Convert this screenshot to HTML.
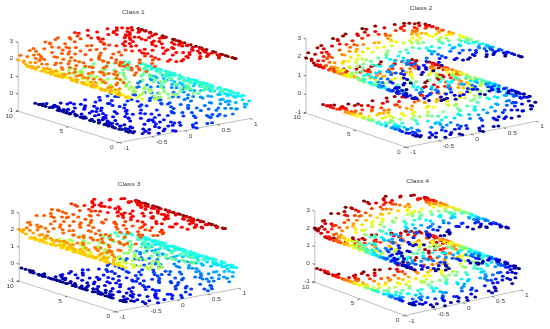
<!DOCTYPE html>
<html><head><meta charset="utf-8"><style>
html,body{margin:0;padding:0;background:#fff;width:550px;height:329px;overflow:hidden}
svg{display:block}
.tl{font-family:"Liberation Sans",Arial,sans-serif;fill:#3c3c3c}
.tt{font-family:"Liberation Sans",Arial,sans-serif;fill:#3c3c3c}
</style></head><body><svg width="550" height="329" viewBox="0 0 550 329"><defs><filter id="b" x="-2%" y="-2%" width="104%" height="104%"><feGaussianBlur stdDeviation="0.3"/></filter></defs><g filter="url(#b)"><g stroke="#b0b0b0" stroke-width="0.8" fill="none"><line x1="18.2" y1="111.2" x2="18.2" y2="42.4"/><line x1="119.2" y1="142.5" x2="18.2" y2="111.2"/><line x1="119.2" y1="142.5" x2="250.1" y2="118.6"/></g><path d="M18.2 111.2l-2.48 -0.77 M18.2 94.0l-2.48 -0.77 M18.2 76.8l-2.48 -0.77 M18.2 59.6l-2.48 -0.77 M18.2 42.4l-2.48 -0.77 M119.2 142.5l-2.56 0.47 M68.7 126.8l-2.56 0.47 M18.2 111.2l-2.56 0.47 M119.2 142.5l2.48 0.77 M151.9 136.5l2.48 0.77 M184.7 130.6l2.48 0.77 M217.4 124.6l2.48 0.77 M250.1 118.6l2.48 0.77" stroke="#444" stroke-width="0.7" fill="none"/><g><ellipse cx="140.6" cy="81.2" rx="2.0" ry="1.5" fill="#0087ff"/><ellipse cx="138.0" cy="83.0" rx="2.0" ry="1.5" fill="#007bff"/><ellipse cx="150.0" cy="75.3" rx="2.0" ry="1.5" fill="#00baff"/><ellipse cx="150.5" cy="78.8" rx="2.0" ry="1.5" fill="#00a2ff"/><ellipse cx="152.8" cy="75.9" rx="2.0" ry="1.5" fill="#00bcff"/><ellipse cx="151.7" cy="80.1" rx="2.0" ry="1.5" fill="#009dff"/><ellipse cx="138.7" cy="86.7" rx="2.0" ry="1.5" fill="#006cff"/><ellipse cx="136.4" cy="87.4" rx="2.0" ry="1.5" fill="#0066ff"/><ellipse cx="155.3" cy="76.5" rx="2.0" ry="1.5" fill="#00beff"/><ellipse cx="147.6" cy="66.7" rx="2.0" ry="1.5" fill="#00ffff"/><ellipse cx="151.7" cy="69.1" rx="2.0" ry="1.5" fill="#00f3ff"/><ellipse cx="146.9" cy="85.0" rx="2.0" ry="1.5" fill="#007eff"/><ellipse cx="156.8" cy="77.8" rx="2.0" ry="1.5" fill="#00b7ff"/><ellipse cx="111.2" cy="93.3" rx="2.0" ry="1.5" fill="#0039ff"/><ellipse cx="116.9" cy="93.1" rx="2.0" ry="1.5" fill="#003fff"/><ellipse cx="156.6" cy="70.9" rx="2.0" ry="1.5" fill="#00f1ff"/><ellipse cx="134.3" cy="91.6" rx="2.0" ry="1.5" fill="#0053ff"/><ellipse cx="159.1" cy="82.4" rx="2.0" ry="1.5" fill="#009dff"/><ellipse cx="150.8" cy="87.1" rx="2.0" ry="1.5" fill="#007aff"/><ellipse cx="162.8" cy="75.6" rx="2.0" ry="1.5" fill="#00d8ff"/><ellipse cx="107.5" cy="95.9" rx="2.0" ry="1.5" fill="#002dff"/><ellipse cx="163.8" cy="78.4" rx="2.0" ry="1.5" fill="#00c3ff"/><ellipse cx="158.0" cy="86.4" rx="2.0" ry="1.5" fill="#0088ff"/><ellipse cx="156.9" cy="69.4" rx="2.0" ry="1.5" fill="#03fffc"/><ellipse cx="99.3" cy="97.3" rx="2.0" ry="1.5" fill="#0021ff"/><ellipse cx="145.8" cy="64.8" rx="2.0" ry="1.5" fill="#1affe5"/><ellipse cx="115.1" cy="96.4" rx="2.0" ry="1.5" fill="#0033ff"/><ellipse cx="166.7" cy="80.3" rx="2.0" ry="1.5" fill="#00bcff"/><ellipse cx="162.0" cy="85.7" rx="2.0" ry="1.5" fill="#0091ff"/><ellipse cx="133.5" cy="94.5" rx="2.0" ry="1.5" fill="#004aff"/><ellipse cx="118.3" cy="96.5" rx="2.0" ry="1.5" fill="#0036ff"/><ellipse cx="165.7" cy="74.8" rx="2.0" ry="1.5" fill="#00e8ff"/><ellipse cx="144.5" cy="92.6" rx="2.0" ry="1.5" fill="#005bff"/><ellipse cx="142.4" cy="63.8" rx="2.0" ry="1.5" fill="#20ffdf"/><ellipse cx="150.9" cy="91.5" rx="2.0" ry="1.5" fill="#0068ff"/><ellipse cx="160.6" cy="70.6" rx="2.0" ry="1.5" fill="#01fffe"/><ellipse cx="135.4" cy="94.9" rx="2.0" ry="1.5" fill="#004aff"/><ellipse cx="163.2" cy="87.6" rx="2.0" ry="1.5" fill="#008aff"/><ellipse cx="151.6" cy="92.8" rx="2.0" ry="1.5" fill="#0063ff"/><ellipse cx="171.5" cy="79.9" rx="2.0" ry="1.5" fill="#00cbff"/><ellipse cx="150.8" cy="66.3" rx="2.0" ry="1.5" fill="#1affe5"/><ellipse cx="85.1" cy="99.8" rx="2.0" ry="1.5" fill="#000dff"/><ellipse cx="172.3" cy="84.3" rx="2.0" ry="1.5" fill="#00abff"/><ellipse cx="169.5" cy="74.6" rx="2.0" ry="1.5" fill="#00f4ff"/><ellipse cx="174.4" cy="81.7" rx="2.0" ry="1.5" fill="#00c3ff"/><ellipse cx="158.2" cy="92.9" rx="2.0" ry="1.5" fill="#006bff"/><ellipse cx="100.0" cy="100.3" rx="2.0" ry="1.5" fill="#0018ff"/><ellipse cx="171.0" cy="75.1" rx="2.0" ry="1.5" fill="#00f3ff"/><ellipse cx="171.6" cy="87.6" rx="2.0" ry="1.5" fill="#0096ff"/><ellipse cx="158.6" cy="68.9" rx="2.0" ry="1.5" fill="#15ffea"/><ellipse cx="111.8" cy="100.6" rx="2.0" ry="1.5" fill="#0023ff"/><ellipse cx="176.6" cy="85.1" rx="2.0" ry="1.5" fill="#00afff"/><ellipse cx="131.5" cy="99.6" rx="2.0" ry="1.5" fill="#0039ff"/><ellipse cx="153.4" cy="96.6" rx="2.0" ry="1.5" fill="#0056ff"/><ellipse cx="176.6" cy="87.8" rx="2.0" ry="1.5" fill="#009dff"/><ellipse cx="147.9" cy="65.8" rx="2.0" ry="1.5" fill="#28ffd7"/><ellipse cx="139.8" cy="63.9" rx="2.0" ry="1.5" fill="#31ffce"/><ellipse cx="180.1" cy="82.8" rx="2.0" ry="1.5" fill="#00c8ff"/><ellipse cx="174.1" cy="75.4" rx="2.0" ry="1.5" fill="#00f9ff"/><ellipse cx="95.5" cy="102.1" rx="2.0" ry="1.5" fill="#000eff"/><ellipse cx="127.5" cy="100.9" rx="2.0" ry="1.5" fill="#0031ff"/><ellipse cx="150.2" cy="98.3" rx="2.0" ry="1.5" fill="#004eff"/><ellipse cx="160.8" cy="69.4" rx="2.0" ry="1.5" fill="#19ffe6"/><ellipse cx="146.9" cy="65.6" rx="2.0" ry="1.5" fill="#2bffd4"/><ellipse cx="179.4" cy="79.1" rx="2.0" ry="1.5" fill="#00e8ff"/><ellipse cx="173.5" cy="92.3" rx="2.0" ry="1.5" fill="#0083ff"/><ellipse cx="124.9" cy="61.6" rx="2.0" ry="1.5" fill="#42ffbd"/><ellipse cx="129.3" cy="62.3" rx="2.0" ry="1.5" fill="#3effc1"/><ellipse cx="182.3" cy="84.3" rx="2.0" ry="1.5" fill="#00c2ff"/><ellipse cx="159.1" cy="97.5" rx="2.0" ry="1.5" fill="#0059ff"/><ellipse cx="137.7" cy="101.2" rx="2.0" ry="1.5" fill="#0039ff"/><ellipse cx="154.1" cy="67.6" rx="2.0" ry="1.5" fill="#26ffd9"/><ellipse cx="184.1" cy="86.4" rx="2.0" ry="1.5" fill="#00b6ff"/><ellipse cx="182.6" cy="89.0" rx="2.0" ry="1.5" fill="#00a1ff"/><ellipse cx="70.4" cy="102.8" rx="2.0" ry="1.5" fill="#0000fc"/><ellipse cx="109.6" cy="103.5" rx="2.0" ry="1.5" fill="#0018ff"/><ellipse cx="107.9" cy="103.6" rx="2.0" ry="1.5" fill="#0016ff"/><ellipse cx="165.6" cy="70.9" rx="2.0" ry="1.5" fill="#19ffe6"/><ellipse cx="149.7" cy="100.5" rx="2.0" ry="1.5" fill="#0047ff"/><ellipse cx="184.3" cy="80.3" rx="2.0" ry="1.5" fill="#00eaff"/><ellipse cx="173.3" cy="73.7" rx="2.0" ry="1.5" fill="#0ffff0"/><ellipse cx="153.4" cy="67.6" rx="2.0" ry="1.5" fill="#2bffd4"/><ellipse cx="159.2" cy="100.0" rx="2.0" ry="1.5" fill="#0051ff"/><ellipse cx="187.4" cy="88.0" rx="2.0" ry="1.5" fill="#00b2ff"/><ellipse cx="172.9" cy="96.8" rx="2.0" ry="1.5" fill="#006eff"/><ellipse cx="160.5" cy="99.8" rx="2.0" ry="1.5" fill="#0053ff"/><ellipse cx="60.7" cy="102.9" rx="2.0" ry="1.5" fill="#0000f4"/><ellipse cx="183.8" cy="92.1" rx="2.0" ry="1.5" fill="#0093ff"/><ellipse cx="181.3" cy="77.3" rx="2.0" ry="1.5" fill="#00fdff"/><ellipse cx="80.8" cy="104.3" rx="2.0" ry="1.5" fill="#0001ff"/><ellipse cx="74.0" cy="104.0" rx="2.0" ry="1.5" fill="#0000fc"/><ellipse cx="145.8" cy="66.2" rx="2.0" ry="1.5" fill="#35ffca"/><ellipse cx="128.5" cy="63.4" rx="2.0" ry="1.5" fill="#46ffb9"/><ellipse cx="169.1" cy="72.0" rx="2.0" ry="1.5" fill="#1affe5"/><ellipse cx="124.9" cy="104.7" rx="2.0" ry="1.5" fill="#0023ff"/><ellipse cx="67.3" cy="104.1" rx="2.0" ry="1.5" fill="#0000f6"/><ellipse cx="112.6" cy="105.4" rx="2.0" ry="1.5" fill="#0014ff"/><ellipse cx="158.3" cy="69.1" rx="2.0" ry="1.5" fill="#2affd5"/><ellipse cx="178.5" cy="97.1" rx="2.0" ry="1.5" fill="#0074ff"/><ellipse cx="190.6" cy="90.0" rx="2.0" ry="1.5" fill="#00abff"/><ellipse cx="188.0" cy="80.5" rx="2.0" ry="1.5" fill="#00f1ff"/><ellipse cx="190.5" cy="82.3" rx="2.0" ry="1.5" fill="#00eaff"/><ellipse cx="141.4" cy="104.7" rx="2.0" ry="1.5" fill="#0032ff"/><ellipse cx="85.1" cy="105.7" rx="2.0" ry="1.5" fill="#0001ff"/><ellipse cx="94.1" cy="106.2" rx="2.0" ry="1.5" fill="#0006ff"/><ellipse cx="193.7" cy="85.8" rx="2.0" ry="1.5" fill="#00d3ff"/><ellipse cx="188.2" cy="94.7" rx="2.0" ry="1.5" fill="#008cff"/><ellipse cx="194.4" cy="90.4" rx="2.0" ry="1.5" fill="#00b0ff"/><ellipse cx="172.7" cy="73.1" rx="2.0" ry="1.5" fill="#1cffe3"/><ellipse cx="119.7" cy="106.6" rx="2.0" ry="1.5" fill="#0018ff"/><ellipse cx="161.1" cy="103.3" rx="2.0" ry="1.5" fill="#0049ff"/><ellipse cx="108.1" cy="62.4" rx="2.0" ry="1.5" fill="#5fffa0"/><ellipse cx="114.8" cy="63.2" rx="2.0" ry="1.5" fill="#5affa5"/><ellipse cx="194.7" cy="83.9" rx="2.0" ry="1.5" fill="#00e7ff"/><ellipse cx="146.6" cy="105.7" rx="2.0" ry="1.5" fill="#0034ff"/><ellipse cx="139.7" cy="106.3" rx="2.0" ry="1.5" fill="#002cff"/><ellipse cx="161.7" cy="104.0" rx="2.0" ry="1.5" fill="#0047ff"/><ellipse cx="169.7" cy="102.8" rx="2.0" ry="1.5" fill="#0053ff"/><ellipse cx="187.6" cy="98.0" rx="2.0" ry="1.5" fill="#007dff"/><ellipse cx="174.6" cy="73.7" rx="2.0" ry="1.5" fill="#1effe1"/><ellipse cx="184.5" cy="99.6" rx="2.0" ry="1.5" fill="#0071ff"/><ellipse cx="156.6" cy="69.4" rx="2.0" ry="1.5" fill="#34ffcb"/><ellipse cx="167.9" cy="103.9" rx="2.0" ry="1.5" fill="#004dff"/><ellipse cx="145.3" cy="67.4" rx="2.0" ry="1.5" fill="#3fffc0"/><ellipse cx="193.2" cy="96.5" rx="2.0" ry="1.5" fill="#008bff"/><ellipse cx="124.2" cy="107.9" rx="2.0" ry="1.5" fill="#0018ff"/><ellipse cx="179.9" cy="75.4" rx="2.0" ry="1.5" fill="#18ffe7"/><ellipse cx="101.7" cy="108.1" rx="2.0" ry="1.5" fill="#0006ff"/><ellipse cx="46.5" cy="103.6" rx="2.0" ry="1.5" fill="#0000c8"/><ellipse cx="124.5" cy="65.0" rx="2.0" ry="1.5" fill="#55ffaa"/><ellipse cx="200.8" cy="90.4" rx="2.0" ry="1.5" fill="#00bfff"/><ellipse cx="195.2" cy="82.0" rx="2.0" ry="1.5" fill="#00f9ff"/><ellipse cx="200.3" cy="86.3" rx="2.0" ry="1.5" fill="#00e1ff"/><ellipse cx="97.1" cy="108.6" rx="2.0" ry="1.5" fill="#0002ff"/><ellipse cx="54.5" cy="105.2" rx="2.0" ry="1.5" fill="#0000d4"/><ellipse cx="84.6" cy="108.1" rx="2.0" ry="1.5" fill="#0000fa"/><ellipse cx="93.7" cy="63.6" rx="2.0" ry="1.5" fill="#72ff8d"/><ellipse cx="121.6" cy="65.5" rx="2.0" ry="1.5" fill="#5affa5"/><ellipse cx="191.0" cy="101.1" rx="2.0" ry="1.5" fill="#0074ff"/><ellipse cx="160.8" cy="70.8" rx="2.0" ry="1.5" fill="#35ffca"/><ellipse cx="200.5" cy="96.9" rx="2.0" ry="1.5" fill="#0095ff"/><ellipse cx="180.7" cy="104.5" rx="2.0" ry="1.5" fill="#0058ff"/><ellipse cx="205.1" cy="89.3" rx="2.0" ry="1.5" fill="#00d3ff"/><ellipse cx="144.9" cy="68.4" rx="2.0" ry="1.5" fill="#46ffb9"/><ellipse cx="196.7" cy="81.7" rx="2.0" ry="1.5" fill="#03fffc"/><ellipse cx="55.4" cy="105.9" rx="2.0" ry="1.5" fill="#0000cf"/><ellipse cx="192.1" cy="79.5" rx="2.0" ry="1.5" fill="#0ffff0"/><ellipse cx="74.9" cy="108.1" rx="2.0" ry="1.5" fill="#0000f2"/><ellipse cx="171.1" cy="106.8" rx="2.0" ry="1.5" fill="#0048ff"/><ellipse cx="126.8" cy="110.2" rx="2.0" ry="1.5" fill="#0013ff"/><ellipse cx="107.3" cy="65.1" rx="2.0" ry="1.5" fill="#69ff96"/><ellipse cx="129.2" cy="66.8" rx="2.0" ry="1.5" fill="#56ffa9"/><ellipse cx="202.6" cy="97.9" rx="2.0" ry="1.5" fill="#0093ff"/><ellipse cx="188.2" cy="78.0" rx="2.0" ry="1.5" fill="#17ffe8"/><ellipse cx="42.8" cy="104.1" rx="2.0" ry="1.5" fill="#0000b3"/><ellipse cx="141.0" cy="110.1" rx="2.0" ry="1.5" fill="#0022ff"/><ellipse cx="138.4" cy="28.4" rx="2.0" ry="1.5" fill="#810000"/><ellipse cx="84.2" cy="109.3" rx="2.0" ry="1.5" fill="#0000f7"/><ellipse cx="158.7" cy="70.9" rx="2.0" ry="1.5" fill="#3bffc4"/><ellipse cx="179.6" cy="75.4" rx="2.0" ry="1.5" fill="#24ffdb"/><ellipse cx="196.2" cy="80.9" rx="2.0" ry="1.5" fill="#0cfff3"/><ellipse cx="101.0" cy="110.5" rx="2.0" ry="1.5" fill="#0001ff"/><ellipse cx="107.3" cy="65.8" rx="2.0" ry="1.5" fill="#6cff93"/><ellipse cx="208.1" cy="96.0" rx="2.0" ry="1.5" fill="#00a7ff"/><ellipse cx="58.2" cy="106.9" rx="2.0" ry="1.5" fill="#0000cd"/><ellipse cx="143.4" cy="68.9" rx="2.0" ry="1.5" fill="#4bffb4"/><ellipse cx="188.1" cy="105.2" rx="2.0" ry="1.5" fill="#005fff"/><ellipse cx="53.0" cy="106.2" rx="2.0" ry="1.5" fill="#0000c1"/><ellipse cx="156.8" cy="109.9" rx="2.0" ry="1.5" fill="#0031ff"/><ellipse cx="125.8" cy="111.3" rx="2.0" ry="1.5" fill="#000fff"/><ellipse cx="57.2" cy="106.9" rx="2.0" ry="1.5" fill="#0000c9"/><ellipse cx="208.8" cy="88.7" rx="2.0" ry="1.5" fill="#00e4ff"/><ellipse cx="174.1" cy="74.2" rx="2.0" ry="1.5" fill="#2dffd2"/><ellipse cx="114.6" cy="111.4" rx="2.0" ry="1.5" fill="#0008ff"/><ellipse cx="210.4" cy="91.0" rx="2.0" ry="1.5" fill="#00d2ff"/><ellipse cx="166.9" cy="72.8" rx="2.0" ry="1.5" fill="#35ffca"/><ellipse cx="173.6" cy="108.6" rx="2.0" ry="1.5" fill="#0045ff"/><ellipse cx="142.0" cy="29.6" rx="2.0" ry="1.5" fill="#830000"/><ellipse cx="92.2" cy="66.1" rx="2.0" ry="1.5" fill="#7bff84"/><ellipse cx="203.0" cy="83.7" rx="2.0" ry="1.5" fill="#02fffd"/><ellipse cx="126.3" cy="67.7" rx="2.0" ry="1.5" fill="#5dffa2"/><ellipse cx="200.1" cy="82.2" rx="2.0" ry="1.5" fill="#0bfff4"/><ellipse cx="147.6" cy="70.0" rx="2.0" ry="1.5" fill="#4affb5"/><ellipse cx="211.3" cy="96.6" rx="2.0" ry="1.5" fill="#00a9ff"/><ellipse cx="96.3" cy="111.4" rx="2.0" ry="1.5" fill="#0000fb"/><ellipse cx="131.5" cy="27.5" rx="2.0" ry="1.5" fill="#e70000"/><ellipse cx="40.2" cy="104.3" rx="2.0" ry="1.5" fill="#0000a5"/><ellipse cx="92.3" cy="111.2" rx="2.0" ry="1.5" fill="#0000f8"/><ellipse cx="188.0" cy="107.6" rx="2.0" ry="1.5" fill="#0055ff"/><ellipse cx="35.3" cy="103.2" rx="2.0" ry="1.5" fill="#000086"/><ellipse cx="85.7" cy="67.0" rx="2.0" ry="1.5" fill="#85ff7a"/><ellipse cx="214.1" cy="90.9" rx="2.0" ry="1.5" fill="#00dfff"/><ellipse cx="104.6" cy="67.4" rx="2.0" ry="1.5" fill="#73ff8c"/><ellipse cx="211.0" cy="87.6" rx="2.0" ry="1.5" fill="#00f2ff"/><ellipse cx="68.1" cy="109.3" rx="2.0" ry="1.5" fill="#0000d5"/><ellipse cx="175.2" cy="75.0" rx="2.0" ry="1.5" fill="#32ffcd"/><ellipse cx="188.2" cy="108.4" rx="2.0" ry="1.5" fill="#0053ff"/><ellipse cx="145.8" cy="30.8" rx="2.0" ry="1.5" fill="#860000"/><ellipse cx="209.7" cy="102.5" rx="2.0" ry="1.5" fill="#0088ff"/><ellipse cx="140.4" cy="113.3" rx="2.0" ry="1.5" fill="#0017ff"/><ellipse cx="194.8" cy="80.0" rx="2.0" ry="1.5" fill="#1cffe3"/><ellipse cx="116.9" cy="113.4" rx="2.0" ry="1.5" fill="#0005ff"/><ellipse cx="171.6" cy="111.6" rx="2.0" ry="1.5" fill="#003aff"/><ellipse cx="83.7" cy="67.8" rx="2.0" ry="1.5" fill="#8bff74"/><ellipse cx="180.6" cy="76.3" rx="2.0" ry="1.5" fill="#2effd1"/><ellipse cx="206.6" cy="84.3" rx="2.0" ry="1.5" fill="#09fff6"/><ellipse cx="38.9" cy="104.4" rx="2.0" ry="1.5" fill="#000082"/><ellipse cx="126.8" cy="113.8" rx="2.0" ry="1.5" fill="#000bff"/><ellipse cx="218.1" cy="94.5" rx="2.0" ry="1.5" fill="#00c9ff"/><ellipse cx="145.0" cy="113.7" rx="2.0" ry="1.5" fill="#001aff"/><ellipse cx="204.9" cy="105.6" rx="2.0" ry="1.5" fill="#0073ff"/><ellipse cx="196.8" cy="108.0" rx="2.0" ry="1.5" fill="#005eff"/><ellipse cx="211.2" cy="103.1" rx="2.0" ry="1.5" fill="#0087ff"/><ellipse cx="132.8" cy="114.2" rx="2.0" ry="1.5" fill="#000eff"/><ellipse cx="150.4" cy="32.2" rx="2.0" ry="1.5" fill="#810000"/><ellipse cx="172.1" cy="112.5" rx="2.0" ry="1.5" fill="#0038ff"/><ellipse cx="219.8" cy="94.6" rx="2.0" ry="1.5" fill="#00ccff"/><ellipse cx="128.6" cy="69.7" rx="2.0" ry="1.5" fill="#62ff9d"/><ellipse cx="52.8" cy="107.5" rx="2.0" ry="1.5" fill="#0000af"/><ellipse cx="103.0" cy="113.5" rx="2.0" ry="1.5" fill="#0000fa"/><ellipse cx="151.5" cy="114.1" rx="2.0" ry="1.5" fill="#001fff"/><ellipse cx="71.6" cy="68.1" rx="2.0" ry="1.5" fill="#9dff62"/><ellipse cx="166.5" cy="74.0" rx="2.0" ry="1.5" fill="#3fffc0"/><ellipse cx="144.8" cy="30.9" rx="2.0" ry="1.5" fill="#c10000"/><ellipse cx="139.0" cy="29.8" rx="2.0" ry="1.5" fill="#e70000"/><ellipse cx="145.9" cy="71.4" rx="2.0" ry="1.5" fill="#53ffac"/><ellipse cx="212.5" cy="86.7" rx="2.0" ry="1.5" fill="#01fffe"/><ellipse cx="59.2" cy="108.8" rx="2.0" ry="1.5" fill="#0000b8"/><ellipse cx="63.7" cy="109.6" rx="2.0" ry="1.5" fill="#0000bf"/><ellipse cx="160.6" cy="73.3" rx="2.0" ry="1.5" fill="#46ffb9"/><ellipse cx="173.9" cy="113.0" rx="2.0" ry="1.5" fill="#0038ff"/><ellipse cx="220.2" cy="99.7" rx="2.0" ry="1.5" fill="#00a7ff"/><ellipse cx="89.7" cy="112.9" rx="2.0" ry="1.5" fill="#0000f1"/><ellipse cx="220.3" cy="92.1" rx="2.0" ry="1.5" fill="#00e5ff"/><ellipse cx="122.9" cy="69.9" rx="2.0" ry="1.5" fill="#69ff96"/><ellipse cx="42.8" cy="105.6" rx="2.0" ry="1.5" fill="#000081"/><ellipse cx="182.4" cy="112.4" rx="2.0" ry="1.5" fill="#0042ff"/><ellipse cx="114.2" cy="69.7" rx="2.0" ry="1.5" fill="#71ff8e"/><ellipse cx="206.6" cy="83.8" rx="2.0" ry="1.5" fill="#13ffec"/><ellipse cx="127.7" cy="28.3" rx="2.0" ry="1.5" fill="#ef0000"/><ellipse cx="105.3" cy="69.6" rx="2.0" ry="1.5" fill="#7aff85"/><ellipse cx="222.6" cy="99.2" rx="2.0" ry="1.5" fill="#00b0ff"/><ellipse cx="45.5" cy="106.3" rx="2.0" ry="1.5" fill="#000092"/><ellipse cx="159.1" cy="115.0" rx="2.0" ry="1.5" fill="#0024ff"/><ellipse cx="197.1" cy="80.7" rx="2.0" ry="1.5" fill="#22ffdd"/><ellipse cx="73.2" cy="111.4" rx="2.0" ry="1.5" fill="#0000ce"/><ellipse cx="67.1" cy="110.5" rx="2.0" ry="1.5" fill="#0000c1"/><ellipse cx="122.1" cy="27.7" rx="2.0" ry="1.5" fill="#f30000"/><ellipse cx="203.0" cy="82.5" rx="2.0" ry="1.5" fill="#1affe5"/><ellipse cx="217.5" cy="88.6" rx="2.0" ry="1.5" fill="#00fcff"/><ellipse cx="149.9" cy="32.5" rx="2.0" ry="1.5" fill="#bb0000"/><ellipse cx="200.8" cy="110.6" rx="2.0" ry="1.5" fill="#0058ff"/><ellipse cx="220.5" cy="103.8" rx="2.0" ry="1.5" fill="#0091ff"/><ellipse cx="191.9" cy="112.5" rx="2.0" ry="1.5" fill="#004aff"/><ellipse cx="183.1" cy="77.6" rx="2.0" ry="1.5" fill="#34ffcb"/><ellipse cx="208.7" cy="109.0" rx="2.0" ry="1.5" fill="#0069ff"/><ellipse cx="156.0" cy="34.0" rx="2.0" ry="1.5" fill="#860000"/><ellipse cx="98.6" cy="114.7" rx="2.0" ry="1.5" fill="#0000f4"/><ellipse cx="224.9" cy="93.4" rx="2.0" ry="1.5" fill="#00e6ff"/><ellipse cx="167.8" cy="115.6" rx="2.0" ry="1.5" fill="#002aff"/><ellipse cx="144.5" cy="72.6" rx="2.0" ry="1.5" fill="#5affa5"/><ellipse cx="225.7" cy="101.7" rx="2.0" ry="1.5" fill="#00a5ff"/><ellipse cx="101.6" cy="70.9" rx="2.0" ry="1.5" fill="#81ff7e"/><ellipse cx="105.8" cy="115.5" rx="2.0" ry="1.5" fill="#0000f8"/><ellipse cx="125.1" cy="116.5" rx="2.0" ry="1.5" fill="#0004ff"/><ellipse cx="116.8" cy="27.8" rx="2.0" ry="1.5" fill="#f60000"/><ellipse cx="165.0" cy="75.0" rx="2.0" ry="1.5" fill="#48ffb7"/><ellipse cx="49.6" cy="107.6" rx="2.0" ry="1.5" fill="#00008e"/><ellipse cx="81.2" cy="70.6" rx="2.0" ry="1.5" fill="#9bff64"/><ellipse cx="181.5" cy="77.6" rx="2.0" ry="1.5" fill="#38ffc7"/><ellipse cx="227.5" cy="95.5" rx="2.0" ry="1.5" fill="#00daff"/><ellipse cx="227.4" cy="100.9" rx="2.0" ry="1.5" fill="#00aeff"/><ellipse cx="207.2" cy="83.8" rx="2.0" ry="1.5" fill="#1affe5"/><ellipse cx="132.3" cy="29.9" rx="2.0" ry="1.5" fill="#f00000"/><ellipse cx="227.5" cy="94.3" rx="2.0" ry="1.5" fill="#00e6ff"/><ellipse cx="218.3" cy="108.1" rx="2.0" ry="1.5" fill="#007aff"/><ellipse cx="68.9" cy="70.3" rx="2.0" ry="1.5" fill="#abff54"/><ellipse cx="150.3" cy="33.1" rx="2.0" ry="1.5" fill="#e60000"/><ellipse cx="154.8" cy="117.4" rx="2.0" ry="1.5" fill="#0018ff"/><ellipse cx="139.4" cy="31.2" rx="2.0" ry="1.5" fill="#ed0000"/><ellipse cx="229.6" cy="101.2" rx="2.0" ry="1.5" fill="#00b1ff"/><ellipse cx="113.1" cy="116.8" rx="2.0" ry="1.5" fill="#0000fa"/><ellipse cx="165.8" cy="75.7" rx="2.0" ry="1.5" fill="#4affb5"/><ellipse cx="183.4" cy="116.1" rx="2.0" ry="1.5" fill="#0037ff"/><ellipse cx="228.6" cy="104.4" rx="2.0" ry="1.5" fill="#009bff"/><ellipse cx="216.4" cy="110.3" rx="2.0" ry="1.5" fill="#006eff"/><ellipse cx="155.0" cy="34.3" rx="2.0" ry="1.5" fill="#d20000"/><ellipse cx="162.4" cy="35.9" rx="2.0" ry="1.5" fill="#830000"/><ellipse cx="128.6" cy="117.9" rx="2.0" ry="1.5" fill="#0003ff"/><ellipse cx="230.1" cy="94.6" rx="2.0" ry="1.5" fill="#00e9ff"/><ellipse cx="140.9" cy="118.3" rx="2.0" ry="1.5" fill="#000aff"/><ellipse cx="81.6" cy="114.1" rx="2.0" ry="1.5" fill="#0000cd"/><ellipse cx="149.9" cy="74.4" rx="2.0" ry="1.5" fill="#5bffa4"/><ellipse cx="123.4" cy="72.9" rx="2.0" ry="1.5" fill="#73ff8c"/><ellipse cx="95.0" cy="115.8" rx="2.0" ry="1.5" fill="#0000e9"/><ellipse cx="128.7" cy="118.2" rx="2.0" ry="1.5" fill="#0003ff"/><ellipse cx="193.8" cy="115.8" rx="2.0" ry="1.5" fill="#0042ff"/><ellipse cx="225.2" cy="108.2" rx="2.0" ry="1.5" fill="#0083ff"/><ellipse cx="162.8" cy="36.1" rx="2.0" ry="1.5" fill="#880000"/><ellipse cx="189.9" cy="79.9" rx="2.0" ry="1.5" fill="#35ffca"/><ellipse cx="76.4" cy="71.7" rx="2.0" ry="1.5" fill="#a7ff58"/><ellipse cx="47.2" cy="68.8" rx="2.0" ry="1.5" fill="#cfff30"/><ellipse cx="118.9" cy="73.1" rx="2.0" ry="1.5" fill="#78ff87"/><ellipse cx="80.0" cy="72.1" rx="2.0" ry="1.5" fill="#a3ff5c"/><ellipse cx="45.7" cy="68.7" rx="2.0" ry="1.5" fill="#d5ff2a"/><ellipse cx="61.6" cy="110.9" rx="2.0" ry="1.5" fill="#0000a6"/><ellipse cx="56.2" cy="70.2" rx="2.0" ry="1.5" fill="#c1ff3e"/><ellipse cx="165.9" cy="37.0" rx="2.0" ry="1.5" fill="#810000"/><ellipse cx="233.9" cy="96.2" rx="2.0" ry="1.5" fill="#00e6ff"/><ellipse cx="168.0" cy="76.8" rx="2.0" ry="1.5" fill="#4dffb2"/><ellipse cx="107.5" cy="28.8" rx="2.0" ry="1.5" fill="#fa0000"/><ellipse cx="208.7" cy="84.4" rx="2.0" ry="1.5" fill="#23ffdc"/><ellipse cx="235.0" cy="97.2" rx="2.0" ry="1.5" fill="#00e0ff"/><ellipse cx="235.8" cy="102.6" rx="2.0" ry="1.5" fill="#00b5ff"/><ellipse cx="57.8" cy="110.2" rx="2.0" ry="1.5" fill="#000088"/><ellipse cx="179.1" cy="78.5" rx="2.0" ry="1.5" fill="#43ffbc"/><ellipse cx="103.3" cy="117.4" rx="2.0" ry="1.5" fill="#0000f1"/><ellipse cx="142.7" cy="74.8" rx="2.0" ry="1.5" fill="#65ff9a"/><ellipse cx="149.2" cy="119.7" rx="2.0" ry="1.5" fill="#000dff"/><ellipse cx="105.2" cy="73.8" rx="2.0" ry="1.5" fill="#89ff76"/><ellipse cx="219.6" cy="87.8" rx="2.0" ry="1.5" fill="#15ffea"/><ellipse cx="212.3" cy="114.4" rx="2.0" ry="1.5" fill="#0058ff"/><ellipse cx="82.6" cy="73.0" rx="2.0" ry="1.5" fill="#a3ff5c"/><ellipse cx="207.0" cy="115.5" rx="2.0" ry="1.5" fill="#004fff"/><ellipse cx="231.2" cy="108.2" rx="2.0" ry="1.5" fill="#008cff"/><ellipse cx="163.9" cy="119.7" rx="2.0" ry="1.5" fill="#001aff"/><ellipse cx="138.5" cy="32.3" rx="2.0" ry="1.5" fill="#f10000"/><ellipse cx="152.3" cy="120.0" rx="2.0" ry="1.5" fill="#000eff"/><ellipse cx="116.9" cy="30.1" rx="2.0" ry="1.5" fill="#f90000"/><ellipse cx="59.7" cy="110.8" rx="2.0" ry="1.5" fill="#00008e"/><ellipse cx="195.5" cy="117.6" rx="2.0" ry="1.5" fill="#003eff"/><ellipse cx="189.7" cy="80.5" rx="2.0" ry="1.5" fill="#3affc5"/><ellipse cx="220.0" cy="87.8" rx="2.0" ry="1.5" fill="#17ffe8"/><ellipse cx="212.4" cy="85.5" rx="2.0" ry="1.5" fill="#22ffdd"/><ellipse cx="92.3" cy="74.1" rx="2.0" ry="1.5" fill="#9bff64"/><ellipse cx="105.5" cy="118.3" rx="2.0" ry="1.5" fill="#0000f0"/><ellipse cx="219.6" cy="114.3" rx="2.0" ry="1.5" fill="#0061ff"/><ellipse cx="70.3" cy="113.3" rx="2.0" ry="1.5" fill="#0000ab"/><ellipse cx="123.7" cy="75.0" rx="2.0" ry="1.5" fill="#79ff86"/><ellipse cx="208.8" cy="116.7" rx="2.0" ry="1.5" fill="#004dff"/><ellipse cx="203.0" cy="83.3" rx="2.0" ry="1.5" fill="#2effd1"/><ellipse cx="148.3" cy="120.7" rx="2.0" ry="1.5" fill="#000aff"/><ellipse cx="127.5" cy="31.6" rx="2.0" ry="1.5" fill="#f70000"/><ellipse cx="236.2" cy="108.9" rx="2.0" ry="1.5" fill="#0090ff"/><ellipse cx="75.1" cy="114.3" rx="2.0" ry="1.5" fill="#0000b1"/><ellipse cx="73.3" cy="73.3" rx="2.0" ry="1.5" fill="#b4ff4b"/><ellipse cx="236.9" cy="108.8" rx="2.0" ry="1.5" fill="#0091ff"/><ellipse cx="169.2" cy="78.1" rx="2.0" ry="1.5" fill="#51ffae"/><ellipse cx="141.2" cy="76.0" rx="2.0" ry="1.5" fill="#6bff94"/><ellipse cx="237.9" cy="96.0" rx="2.0" ry="1.5" fill="#00f1ff"/><ellipse cx="64.0" cy="112.1" rx="2.0" ry="1.5" fill="#000095"/><ellipse cx="149.9" cy="76.5" rx="2.0" ry="1.5" fill="#63ff9c"/><ellipse cx="225.2" cy="89.5" rx="2.0" ry="1.5" fill="#14ffeb"/><ellipse cx="173.0" cy="39.2" rx="2.0" ry="1.5" fill="#820000"/><ellipse cx="217.9" cy="116.1" rx="2.0" ry="1.5" fill="#0058ff"/><ellipse cx="210.8" cy="117.5" rx="2.0" ry="1.5" fill="#004dff"/><ellipse cx="130.2" cy="120.9" rx="2.0" ry="1.5" fill="#0000fd"/><ellipse cx="115.5" cy="75.8" rx="2.0" ry="1.5" fill="#84ff7b"/><ellipse cx="153.7" cy="121.7" rx="2.0" ry="1.5" fill="#000bff"/><ellipse cx="242.6" cy="99.8" rx="2.0" ry="1.5" fill="#00deff"/><ellipse cx="124.4" cy="76.0" rx="2.0" ry="1.5" fill="#7bff84"/><ellipse cx="165.3" cy="37.6" rx="2.0" ry="1.5" fill="#e10000"/><ellipse cx="43.2" cy="69.8" rx="2.0" ry="1.5" fill="#f5ff0a"/><ellipse cx="171.4" cy="78.8" rx="2.0" ry="1.5" fill="#51ffae"/><ellipse cx="87.8" cy="30.3" rx="2.0" ry="1.5" fill="#ff0200"/><ellipse cx="174.3" cy="39.6" rx="2.0" ry="1.5" fill="#850000"/><ellipse cx="160.0" cy="122.0" rx="2.0" ry="1.5" fill="#000fff"/><ellipse cx="80.4" cy="74.6" rx="2.0" ry="1.5" fill="#afff50"/><ellipse cx="244.6" cy="103.9" rx="2.0" ry="1.5" fill="#00c0ff"/><ellipse cx="234.1" cy="93.0" rx="2.0" ry="1.5" fill="#07fff8"/><ellipse cx="59.0" cy="72.3" rx="2.0" ry="1.5" fill="#cdff32"/><ellipse cx="225.2" cy="115.7" rx="2.0" ry="1.5" fill="#0063ff"/><ellipse cx="129.7" cy="32.7" rx="2.0" ry="1.5" fill="#f70000"/><ellipse cx="66.6" cy="112.9" rx="2.0" ry="1.5" fill="#00008b"/><ellipse cx="113.8" cy="31.5" rx="2.0" ry="1.5" fill="#fb0000"/><ellipse cx="153.0" cy="77.5" rx="2.0" ry="1.5" fill="#63ff9c"/><ellipse cx="171.0" cy="122.1" rx="2.0" ry="1.5" fill="#0019ff"/><ellipse cx="115.3" cy="120.5" rx="2.0" ry="1.5" fill="#0000f2"/><ellipse cx="232.8" cy="113.9" rx="2.0" ry="1.5" fill="#0074ff"/><ellipse cx="244.9" cy="107.1" rx="2.0" ry="1.5" fill="#00a9ff"/><ellipse cx="246.2" cy="104.3" rx="2.0" ry="1.5" fill="#00c0ff"/><ellipse cx="201.1" cy="83.5" rx="2.0" ry="1.5" fill="#37ffc8"/><ellipse cx="240.9" cy="96.2" rx="2.0" ry="1.5" fill="#00f8ff"/><ellipse cx="84.6" cy="116.7" rx="2.0" ry="1.5" fill="#0000b7"/><ellipse cx="229.2" cy="90.7" rx="2.0" ry="1.5" fill="#15ffea"/><ellipse cx="152.1" cy="35.8" rx="2.0" ry="1.5" fill="#ef0000"/><ellipse cx="184.0" cy="81.0" rx="2.0" ry="1.5" fill="#48ffb7"/><ellipse cx="179.5" cy="122.5" rx="2.0" ry="1.5" fill="#0020ff"/><ellipse cx="77.0" cy="115.4" rx="2.0" ry="1.5" fill="#0000aa"/><ellipse cx="188.5" cy="81.7" rx="2.0" ry="1.5" fill="#45ffba"/><ellipse cx="178.6" cy="40.9" rx="2.0" ry="1.5" fill="#810000"/><ellipse cx="97.1" cy="76.6" rx="2.0" ry="1.5" fill="#9fff60"/><ellipse cx="89.7" cy="76.2" rx="2.0" ry="1.5" fill="#a8ff57"/><ellipse cx="163.2" cy="37.8" rx="2.0" ry="1.5" fill="#ea0000"/><ellipse cx="174.4" cy="123.1" rx="2.0" ry="1.5" fill="#0019ff"/><ellipse cx="69.8" cy="113.9" rx="2.0" ry="1.5" fill="#000082"/><ellipse cx="189.1" cy="81.9" rx="2.0" ry="1.5" fill="#45ffba"/><ellipse cx="97.1" cy="31.9" rx="2.0" ry="1.5" fill="#ff0100"/><ellipse cx="113.7" cy="32.6" rx="2.0" ry="1.5" fill="#fc0000"/><ellipse cx="102.6" cy="119.8" rx="2.0" ry="1.5" fill="#0000d7"/><ellipse cx="81.3" cy="75.7" rx="2.0" ry="1.5" fill="#b4ff4b"/><ellipse cx="176.0" cy="40.5" rx="2.0" ry="1.5" fill="#ad0000"/><ellipse cx="179.7" cy="41.3" rx="2.0" ry="1.5" fill="#860000"/><ellipse cx="27.7" cy="66.8" rx="2.0" ry="1.5" fill="#ffcd00"/><ellipse cx="226.6" cy="89.8" rx="2.0" ry="1.5" fill="#1effe1"/><ellipse cx="74.8" cy="32.6" rx="2.0" ry="1.5" fill="#ff1d00"/><ellipse cx="249.2" cy="100.9" rx="2.0" ry="1.5" fill="#00e7ff"/><ellipse cx="95.1" cy="77.3" rx="2.0" ry="1.5" fill="#a6ff59"/><ellipse cx="42.7" cy="70.5" rx="2.0" ry="1.5" fill="#fff100"/><ellipse cx="196.1" cy="123.1" rx="2.0" ry="1.5" fill="#002eff"/><ellipse cx="155.9" cy="124.1" rx="2.0" ry="1.5" fill="#0008ff"/><ellipse cx="81.3" cy="116.7" rx="2.0" ry="1.5" fill="#0000aa"/><ellipse cx="57.9" cy="73.3" rx="2.0" ry="1.5" fill="#e2ff1d"/><ellipse cx="125.3" cy="78.5" rx="2.0" ry="1.5" fill="#82ff7d"/><ellipse cx="190.7" cy="82.7" rx="2.0" ry="1.5" fill="#47ffb8"/><ellipse cx="199.4" cy="84.0" rx="2.0" ry="1.5" fill="#3effc1"/><ellipse cx="129.8" cy="34.4" rx="2.0" ry="1.5" fill="#f90000"/><ellipse cx="155.3" cy="79.5" rx="2.0" ry="1.5" fill="#68ff97"/><ellipse cx="107.5" cy="121.1" rx="2.0" ry="1.5" fill="#0000d9"/><ellipse cx="144.5" cy="124.2" rx="2.0" ry="1.5" fill="#0000ff"/><ellipse cx="78.7" cy="33.3" rx="2.0" ry="1.5" fill="#ff1800"/><ellipse cx="35.0" cy="68.9" rx="2.0" ry="1.5" fill="#ffd300"/><ellipse cx="207.9" cy="85.7" rx="2.0" ry="1.5" fill="#37ffc8"/><ellipse cx="98.6" cy="120.1" rx="2.0" ry="1.5" fill="#0000c4"/><ellipse cx="114.5" cy="78.9" rx="2.0" ry="1.5" fill="#92ff6d"/><ellipse cx="184.4" cy="42.7" rx="2.0" ry="1.5" fill="#830000"/><ellipse cx="165.5" cy="80.5" rx="2.0" ry="1.5" fill="#60ff9f"/><ellipse cx="76.0" cy="115.8" rx="2.0" ry="1.5" fill="#000092"/><ellipse cx="46.2" cy="71.5" rx="2.0" ry="1.5" fill="#fff400"/><ellipse cx="49.3" cy="72.2" rx="2.0" ry="1.5" fill="#fffc00"/><ellipse cx="242.7" cy="95.5" rx="2.0" ry="1.5" fill="#0afff5"/><ellipse cx="125.8" cy="34.7" rx="2.0" ry="1.5" fill="#fb0000"/><ellipse cx="212.1" cy="122.8" rx="2.0" ry="1.5" fill="#003eff"/><ellipse cx="172.6" cy="125.2" rx="2.0" ry="1.5" fill="#0010ff"/><ellipse cx="107.8" cy="78.9" rx="2.0" ry="1.5" fill="#9bff64"/><ellipse cx="207.3" cy="123.5" rx="2.0" ry="1.5" fill="#0037ff"/><ellipse cx="159.9" cy="38.3" rx="2.0" ry="1.5" fill="#ef0000"/><ellipse cx="85.9" cy="118.0" rx="2.0" ry="1.5" fill="#0000ac"/><ellipse cx="192.8" cy="124.7" rx="2.0" ry="1.5" fill="#0026ff"/><ellipse cx="180.5" cy="125.3" rx="2.0" ry="1.5" fill="#0018ff"/><ellipse cx="180.1" cy="41.9" rx="2.0" ry="1.5" fill="#bf0000"/><ellipse cx="116.7" cy="34.4" rx="2.0" ry="1.5" fill="#fd0000"/><ellipse cx="237.7" cy="93.3" rx="2.0" ry="1.5" fill="#16ffe9"/><ellipse cx="91.8" cy="119.3" rx="2.0" ry="1.5" fill="#0000b4"/><ellipse cx="128.8" cy="35.3" rx="2.0" ry="1.5" fill="#fa0000"/><ellipse cx="142.7" cy="80.1" rx="2.0" ry="1.5" fill="#76ff89"/><ellipse cx="231.2" cy="91.3" rx="2.0" ry="1.5" fill="#20ffdf"/><ellipse cx="83.1" cy="77.5" rx="2.0" ry="1.5" fill="#bbff44"/><ellipse cx="168.2" cy="126.0" rx="2.0" ry="1.5" fill="#000cff"/><ellipse cx="108.4" cy="34.6" rx="2.0" ry="1.5" fill="#ff0000"/><ellipse cx="217.7" cy="88.1" rx="2.0" ry="1.5" fill="#31ffce"/><ellipse cx="243.5" cy="95.4" rx="2.0" ry="1.5" fill="#10ffef"/><ellipse cx="108.9" cy="122.3" rx="2.0" ry="1.5" fill="#0000d1"/><ellipse cx="149.2" cy="37.6" rx="2.0" ry="1.5" fill="#f60000"/><ellipse cx="31.4" cy="68.0" rx="2.0" ry="1.5" fill="#ffc800"/><ellipse cx="80.8" cy="117.3" rx="2.0" ry="1.5" fill="#000091"/><ellipse cx="224.8" cy="89.8" rx="2.0" ry="1.5" fill="#2bffd4"/><ellipse cx="125.5" cy="35.9" rx="2.0" ry="1.5" fill="#fc0000"/><ellipse cx="160.5" cy="81.6" rx="2.0" ry="1.5" fill="#69ff96"/><ellipse cx="88.0" cy="35.4" rx="2.0" ry="1.5" fill="#ff1000"/><ellipse cx="182.6" cy="42.9" rx="2.0" ry="1.5" fill="#d90000"/><ellipse cx="155.0" cy="126.6" rx="2.0" ry="1.5" fill="#0002ff"/><ellipse cx="190.6" cy="44.7" rx="2.0" ry="1.5" fill="#840000"/><ellipse cx="100.3" cy="79.9" rx="2.0" ry="1.5" fill="#aaff55"/><ellipse cx="77.4" cy="36.1" rx="2.0" ry="1.5" fill="#ff3800"/><ellipse cx="237.7" cy="93.3" rx="2.0" ry="1.5" fill="#1effe1"/><ellipse cx="82.9" cy="78.4" rx="2.0" ry="1.5" fill="#c1ff3e"/><ellipse cx="124.4" cy="124.7" rx="2.0" ry="1.5" fill="#0000eb"/><ellipse cx="57.9" cy="37.8" rx="2.0" ry="1.5" fill="#ff5100"/><ellipse cx="112.2" cy="123.3" rx="2.0" ry="1.5" fill="#0000d1"/><ellipse cx="122.7" cy="81.3" rx="2.0" ry="1.5" fill="#91ff6e"/><ellipse cx="153.3" cy="81.9" rx="2.0" ry="1.5" fill="#72ff8d"/><ellipse cx="134.5" cy="37.0" rx="2.0" ry="1.5" fill="#fa0000"/><ellipse cx="83.6" cy="118.2" rx="2.0" ry="1.5" fill="#00008f"/><ellipse cx="138.9" cy="37.3" rx="2.0" ry="1.5" fill="#f90000"/><ellipse cx="193.4" cy="127.0" rx="2.0" ry="1.5" fill="#001fff"/><ellipse cx="164.3" cy="82.4" rx="2.0" ry="1.5" fill="#68ff97"/><ellipse cx="103.8" cy="80.5" rx="2.0" ry="1.5" fill="#a8ff57"/><ellipse cx="117.1" cy="124.0" rx="2.0" ry="1.5" fill="#0000da"/><ellipse cx="205.2" cy="86.5" rx="2.0" ry="1.5" fill="#43ffbc"/><ellipse cx="129.2" cy="81.9" rx="2.0" ry="1.5" fill="#8bff74"/><ellipse cx="56.7" cy="74.6" rx="2.0" ry="1.5" fill="#fff800"/><ellipse cx="159.1" cy="127.6" rx="2.0" ry="1.5" fill="#0003ff"/><ellipse cx="69.6" cy="37.6" rx="2.0" ry="1.5" fill="#ff4e00"/><ellipse cx="87.5" cy="79.4" rx="2.0" ry="1.5" fill="#beff41"/><ellipse cx="55.4" cy="39.5" rx="2.0" ry="1.5" fill="#ff5300"/><ellipse cx="18.3" cy="59.9" rx="2.0" ry="1.5" fill="#ffa900"/><ellipse cx="196.7" cy="127.9" rx="2.0" ry="1.5" fill="#0020ff"/><ellipse cx="201.9" cy="86.5" rx="2.0" ry="1.5" fill="#49ffb6"/><ellipse cx="195.9" cy="46.3" rx="2.0" ry="1.5" fill="#820000"/><ellipse cx="129.8" cy="37.7" rx="2.0" ry="1.5" fill="#fc0000"/><ellipse cx="232.3" cy="92.0" rx="2.0" ry="1.5" fill="#2affd5"/><ellipse cx="177.1" cy="84.2" rx="2.0" ry="1.5" fill="#60ff9f"/><ellipse cx="45.3" cy="42.0" rx="2.0" ry="1.5" fill="#ff5700"/><ellipse cx="174.8" cy="84.1" rx="2.0" ry="1.5" fill="#63ff9c"/><ellipse cx="66.7" cy="76.9" rx="2.0" ry="1.5" fill="#f2ff0d"/><ellipse cx="185.5" cy="85.0" rx="2.0" ry="1.5" fill="#59ffa6"/><ellipse cx="99.4" cy="122.0" rx="2.0" ry="1.5" fill="#0000af"/><ellipse cx="98.1" cy="37.5" rx="2.0" ry="1.5" fill="#ff0600"/><ellipse cx="124.7" cy="37.8" rx="2.0" ry="1.5" fill="#fe0000"/><ellipse cx="70.5" cy="39.0" rx="2.0" ry="1.5" fill="#ff4f00"/><ellipse cx="26.0" cy="64.6" rx="2.0" ry="1.5" fill="#ffb500"/><ellipse cx="164.7" cy="129.0" rx="2.0" ry="1.5" fill="#0004ff"/><ellipse cx="33.0" cy="68.1" rx="2.0" ry="1.5" fill="#ffc000"/><ellipse cx="106.4" cy="123.4" rx="2.0" ry="1.5" fill="#0000b8"/><ellipse cx="58.6" cy="75.5" rx="2.0" ry="1.5" fill="#fff000"/><ellipse cx="41.3" cy="71.1" rx="2.0" ry="1.5" fill="#ffc900"/><ellipse cx="91.3" cy="37.9" rx="2.0" ry="1.5" fill="#ff1f00"/><ellipse cx="110.3" cy="124.1" rx="2.0" ry="1.5" fill="#0000be"/><ellipse cx="179.9" cy="43.4" rx="2.0" ry="1.5" fill="#eb0000"/><ellipse cx="130.5" cy="126.8" rx="2.0" ry="1.5" fill="#0000e9"/><ellipse cx="20.4" cy="55.2" rx="2.0" ry="1.5" fill="#ff6b00"/><ellipse cx="141.8" cy="39.1" rx="2.0" ry="1.5" fill="#fa0000"/><ellipse cx="46.8" cy="72.7" rx="2.0" ry="1.5" fill="#ffce00"/><ellipse cx="90.2" cy="120.2" rx="2.0" ry="1.5" fill="#00008c"/><ellipse cx="90.5" cy="120.3" rx="2.0" ry="1.5" fill="#00008f"/><ellipse cx="35.9" cy="69.1" rx="2.0" ry="1.5" fill="#ffc200"/><ellipse cx="80.6" cy="38.8" rx="2.0" ry="1.5" fill="#ff4900"/><ellipse cx="205.3" cy="87.6" rx="2.0" ry="1.5" fill="#49ffb6"/><ellipse cx="187.9" cy="44.9" rx="2.0" ry="1.5" fill="#e70000"/><ellipse cx="222.4" cy="90.3" rx="2.0" ry="1.5" fill="#38ffc7"/><ellipse cx="211.9" cy="88.6" rx="2.0" ry="1.5" fill="#43ffbc"/><ellipse cx="23.8" cy="62.2" rx="2.0" ry="1.5" fill="#ffac00"/><ellipse cx="29.6" cy="66.1" rx="2.0" ry="1.5" fill="#ffb800"/><ellipse cx="199.7" cy="47.5" rx="2.0" ry="1.5" fill="#850000"/><ellipse cx="49.9" cy="42.9" rx="2.0" ry="1.5" fill="#ff5700"/><ellipse cx="120.7" cy="125.9" rx="2.0" ry="1.5" fill="#0000d1"/><ellipse cx="125.7" cy="83.7" rx="2.0" ry="1.5" fill="#98ff67"/><ellipse cx="53.8" cy="74.6" rx="2.0" ry="1.5" fill="#ffd900"/><ellipse cx="188.6" cy="86.2" rx="2.0" ry="1.5" fill="#5affa5"/><ellipse cx="172.0" cy="42.6" rx="2.0" ry="1.5" fill="#f10000"/><ellipse cx="23.7" cy="60.9" rx="2.0" ry="1.5" fill="#ffa100"/><ellipse cx="145.9" cy="40.0" rx="2.0" ry="1.5" fill="#fa0000"/><ellipse cx="50.3" cy="43.7" rx="2.0" ry="1.5" fill="#ff5800"/><ellipse cx="161.9" cy="84.9" rx="2.0" ry="1.5" fill="#73ff8c"/><ellipse cx="33.5" cy="48.4" rx="2.0" ry="1.5" fill="#ff6000"/><ellipse cx="98.9" cy="39.0" rx="2.0" ry="1.5" fill="#ff1200"/><ellipse cx="29.7" cy="50.4" rx="2.0" ry="1.5" fill="#ff6300"/><ellipse cx="173.0" cy="130.4" rx="2.0" ry="1.5" fill="#0006ff"/><ellipse cx="201.7" cy="48.1" rx="2.0" ry="1.5" fill="#860000"/><ellipse cx="102.0" cy="82.6" rx="2.0" ry="1.5" fill="#b6ff49"/><ellipse cx="153.9" cy="40.9" rx="2.0" ry="1.5" fill="#f80000"/><ellipse cx="132.2" cy="127.7" rx="2.0" ry="1.5" fill="#0000e5"/><ellipse cx="130.4" cy="39.4" rx="2.0" ry="1.5" fill="#fe0000"/><ellipse cx="102.9" cy="39.1" rx="2.0" ry="1.5" fill="#ff0600"/><ellipse cx="120.0" cy="126.3" rx="2.0" ry="1.5" fill="#0000c9"/><ellipse cx="75.6" cy="79.3" rx="2.0" ry="1.5" fill="#ecff13"/><ellipse cx="149.3" cy="129.5" rx="2.0" ry="1.5" fill="#0000f6"/><ellipse cx="143.2" cy="129.0" rx="2.0" ry="1.5" fill="#0000f3"/><ellipse cx="159.4" cy="41.6" rx="2.0" ry="1.5" fill="#f70000"/><ellipse cx="62.9" cy="76.9" rx="2.0" ry="1.5" fill="#ffed00"/><ellipse cx="187.1" cy="45.3" rx="2.0" ry="1.5" fill="#ea0000"/><ellipse cx="94.0" cy="121.4" rx="2.0" ry="1.5" fill="#000080"/><ellipse cx="175.6" cy="131.1" rx="2.0" ry="1.5" fill="#0006ff"/><ellipse cx="163.6" cy="130.7" rx="2.0" ry="1.5" fill="#0000fe"/><ellipse cx="229.9" cy="92.3" rx="2.0" ry="1.5" fill="#36ffc9"/><ellipse cx="67.7" cy="78.1" rx="2.0" ry="1.5" fill="#fff700"/><ellipse cx="32.5" cy="66.5" rx="2.0" ry="1.5" fill="#ffb400"/><ellipse cx="74.7" cy="41.7" rx="2.0" ry="1.5" fill="#ff5000"/><ellipse cx="126.3" cy="85.0" rx="2.0" ry="1.5" fill="#9dff62"/><ellipse cx="27.3" cy="56.4" rx="2.0" ry="1.5" fill="#ff6a00"/><ellipse cx="206.3" cy="49.5" rx="2.0" ry="1.5" fill="#840000"/><ellipse cx="187.2" cy="45.8" rx="2.0" ry="1.5" fill="#ec0000"/><ellipse cx="88.8" cy="81.9" rx="2.0" ry="1.5" fill="#d2ff2d"/><ellipse cx="36.0" cy="51.3" rx="2.0" ry="1.5" fill="#ff6200"/><ellipse cx="36.2" cy="68.0" rx="2.0" ry="1.5" fill="#ffb700"/><ellipse cx="206.1" cy="89.2" rx="2.0" ry="1.5" fill="#50ffaf"/><ellipse cx="65.0" cy="43.8" rx="2.0" ry="1.5" fill="#ff5400"/><ellipse cx="174.5" cy="44.2" rx="2.0" ry="1.5" fill="#f40000"/><ellipse cx="30.3" cy="62.4" rx="2.0" ry="1.5" fill="#ff9a00"/><ellipse cx="98.8" cy="122.9" rx="2.0" ry="1.5" fill="#000082"/><ellipse cx="44.3" cy="48.8" rx="2.0" ry="1.5" fill="#ff5d00"/><ellipse cx="145.0" cy="86.6" rx="2.0" ry="1.5" fill="#8aff75"/><ellipse cx="52.0" cy="47.0" rx="2.0" ry="1.5" fill="#ff5a00"/><ellipse cx="179.0" cy="45.0" rx="2.0" ry="1.5" fill="#f20000"/><ellipse cx="161.2" cy="87.0" rx="2.0" ry="1.5" fill="#7aff85"/><ellipse cx="110.2" cy="84.9" rx="2.0" ry="1.5" fill="#b5ff4a"/><ellipse cx="100.7" cy="41.5" rx="2.0" ry="1.5" fill="#ff2600"/><ellipse cx="34.0" cy="54.9" rx="2.0" ry="1.5" fill="#ff6600"/><ellipse cx="133.0" cy="41.5" rx="2.0" ry="1.5" fill="#ff0000"/><ellipse cx="125.3" cy="41.4" rx="2.0" ry="1.5" fill="#ff0200"/><ellipse cx="50.9" cy="74.0" rx="2.0" ry="1.5" fill="#ffc600"/><ellipse cx="200.3" cy="48.6" rx="2.0" ry="1.5" fill="#e60000"/><ellipse cx="192.8" cy="47.3" rx="2.0" ry="1.5" fill="#eb0000"/><ellipse cx="151.9" cy="42.6" rx="2.0" ry="1.5" fill="#fa0000"/><ellipse cx="106.8" cy="125.0" rx="2.0" ry="1.5" fill="#0000a4"/><ellipse cx="126.0" cy="86.5" rx="2.0" ry="1.5" fill="#a4ff5b"/><ellipse cx="97.4" cy="83.8" rx="2.0" ry="1.5" fill="#c7ff38"/><ellipse cx="130.9" cy="86.8" rx="2.0" ry="1.5" fill="#9eff61"/><ellipse cx="181.2" cy="88.1" rx="2.0" ry="1.5" fill="#6aff95"/><ellipse cx="212.4" cy="90.7" rx="2.0" ry="1.5" fill="#4effb1"/><ellipse cx="75.7" cy="80.4" rx="2.0" ry="1.5" fill="#fffb00"/><ellipse cx="190.6" cy="88.8" rx="2.0" ry="1.5" fill="#62ff9d"/><ellipse cx="55.5" cy="75.5" rx="2.0" ry="1.5" fill="#ffca00"/><ellipse cx="125.5" cy="128.5" rx="2.0" ry="1.5" fill="#0000c3"/><ellipse cx="145.6" cy="131.1" rx="2.0" ry="1.5" fill="#0000ed"/><ellipse cx="44.0" cy="71.0" rx="2.0" ry="1.5" fill="#ffbb00"/><ellipse cx="161.8" cy="43.8" rx="2.0" ry="1.5" fill="#f80000"/><ellipse cx="112.2" cy="126.3" rx="2.0" ry="1.5" fill="#0000ab"/><ellipse cx="58.9" cy="47.4" rx="2.0" ry="1.5" fill="#ff5800"/><ellipse cx="38.9" cy="54.4" rx="2.0" ry="1.5" fill="#ff6400"/><ellipse cx="187.1" cy="88.8" rx="2.0" ry="1.5" fill="#66ff99"/><ellipse cx="182.3" cy="46.1" rx="2.0" ry="1.5" fill="#f20000"/><ellipse cx="185.8" cy="88.8" rx="2.0" ry="1.5" fill="#67ff98"/><ellipse cx="213.0" cy="51.6" rx="2.0" ry="1.5" fill="#830000"/><ellipse cx="222.1" cy="92.3" rx="2.0" ry="1.5" fill="#46ffb9"/><ellipse cx="128.4" cy="129.1" rx="2.0" ry="1.5" fill="#0000c6"/><ellipse cx="145.3" cy="131.3" rx="2.0" ry="1.5" fill="#0000ea"/><ellipse cx="104.3" cy="124.6" rx="2.0" ry="1.5" fill="#000086"/><ellipse cx="35.8" cy="58.4" rx="2.0" ry="1.5" fill="#ff6900"/><ellipse cx="38.3" cy="66.8" rx="2.0" ry="1.5" fill="#ffac00"/><ellipse cx="35.5" cy="62.5" rx="2.0" ry="1.5" fill="#ff8500"/><ellipse cx="203.2" cy="90.4" rx="2.0" ry="1.5" fill="#59ffa6"/><ellipse cx="58.7" cy="76.4" rx="2.0" ry="1.5" fill="#ffca00"/><ellipse cx="103.7" cy="43.3" rx="2.0" ry="1.5" fill="#ff2e00"/><ellipse cx="215.1" cy="52.3" rx="2.0" ry="1.5" fill="#840000"/><ellipse cx="66.6" cy="47.3" rx="2.0" ry="1.5" fill="#ff5600"/><ellipse cx="203.4" cy="49.8" rx="2.0" ry="1.5" fill="#e70000"/><ellipse cx="111.2" cy="86.3" rx="2.0" ry="1.5" fill="#bbff44"/><ellipse cx="163.5" cy="88.9" rx="2.0" ry="1.5" fill="#7dff82"/><ellipse cx="72.5" cy="80.2" rx="2.0" ry="1.5" fill="#ffe400"/><ellipse cx="41.0" cy="56.4" rx="2.0" ry="1.5" fill="#ff6500"/><ellipse cx="144.3" cy="88.7" rx="2.0" ry="1.5" fill="#94ff6b"/><ellipse cx="134.5" cy="88.3" rx="2.0" ry="1.5" fill="#a0ff5f"/><ellipse cx="158.7" cy="133.3" rx="2.0" ry="1.5" fill="#0000f4"/><ellipse cx="129.7" cy="43.5" rx="2.0" ry="1.5" fill="#ff0200"/><ellipse cx="104.2" cy="44.2" rx="2.0" ry="1.5" fill="#ff3500"/><ellipse cx="39.4" cy="60.5" rx="2.0" ry="1.5" fill="#ff6a00"/><ellipse cx="148.8" cy="89.3" rx="2.0" ry="1.5" fill="#91ff6e"/><ellipse cx="69.3" cy="48.0" rx="2.0" ry="1.5" fill="#ff5600"/><ellipse cx="108.5" cy="125.9" rx="2.0" ry="1.5" fill="#000082"/><ellipse cx="123.0" cy="43.8" rx="2.0" ry="1.5" fill="#ff0400"/><ellipse cx="41.4" cy="58.3" rx="2.0" ry="1.5" fill="#ff6700"/><ellipse cx="52.0" cy="52.5" rx="2.0" ry="1.5" fill="#ff5e00"/><ellipse cx="152.3" cy="44.5" rx="2.0" ry="1.5" fill="#fc0000"/><ellipse cx="87.1" cy="45.7" rx="2.0" ry="1.5" fill="#ff5000"/><ellipse cx="91.5" cy="45.4" rx="2.0" ry="1.5" fill="#ff4f00"/><ellipse cx="203.4" cy="50.2" rx="2.0" ry="1.5" fill="#e90000"/><ellipse cx="62.7" cy="49.9" rx="2.0" ry="1.5" fill="#ff5900"/><ellipse cx="75.9" cy="47.4" rx="2.0" ry="1.5" fill="#ff5400"/><ellipse cx="109.7" cy="86.9" rx="2.0" ry="1.5" fill="#c2ff3d"/><ellipse cx="43.9" cy="68.2" rx="2.0" ry="1.5" fill="#ffab00"/><ellipse cx="149.0" cy="133.1" rx="2.0" ry="1.5" fill="#0000e3"/><ellipse cx="56.9" cy="75.6" rx="2.0" ry="1.5" fill="#ffc200"/><ellipse cx="41.9" cy="63.9" rx="2.0" ry="1.5" fill="#ff7e00"/><ellipse cx="109.1" cy="45.1" rx="2.0" ry="1.5" fill="#ff3000"/><ellipse cx="76.7" cy="81.5" rx="2.0" ry="1.5" fill="#ffe200"/><ellipse cx="44.4" cy="59.5" rx="2.0" ry="1.5" fill="#ff6700"/><ellipse cx="50.1" cy="72.2" rx="2.0" ry="1.5" fill="#ffb600"/><ellipse cx="151.1" cy="90.5" rx="2.0" ry="1.5" fill="#93ff6c"/><ellipse cx="113.0" cy="127.3" rx="2.0" ry="1.5" fill="#00008d"/><ellipse cx="129.4" cy="89.3" rx="2.0" ry="1.5" fill="#adff52"/><ellipse cx="180.6" cy="91.1" rx="2.0" ry="1.5" fill="#74ff8b"/><ellipse cx="81.9" cy="82.8" rx="2.0" ry="1.5" fill="#ffed00"/><ellipse cx="222.1" cy="54.5" rx="2.0" ry="1.5" fill="#850000"/><ellipse cx="72.3" cy="80.5" rx="2.0" ry="1.5" fill="#ffd000"/><ellipse cx="134.1" cy="131.6" rx="2.0" ry="1.5" fill="#0000bd"/><ellipse cx="86.6" cy="83.8" rx="2.0" ry="1.5" fill="#fff900"/><ellipse cx="50.8" cy="72.2" rx="2.0" ry="1.5" fill="#ffb400"/><ellipse cx="155.8" cy="46.1" rx="2.0" ry="1.5" fill="#fd0000"/><ellipse cx="116.4" cy="45.8" rx="2.0" ry="1.5" fill="#ff2000"/><ellipse cx="136.2" cy="45.7" rx="2.0" ry="1.5" fill="#ff0200"/><ellipse cx="124.8" cy="45.8" rx="2.0" ry="1.5" fill="#ff0600"/><ellipse cx="47.0" cy="68.3" rx="2.0" ry="1.5" fill="#ffa300"/><ellipse cx="122.2" cy="129.6" rx="2.0" ry="1.5" fill="#0000a8"/><ellipse cx="115.2" cy="128.0" rx="2.0" ry="1.5" fill="#000085"/><ellipse cx="192.0" cy="49.4" rx="2.0" ry="1.5" fill="#f30000"/><ellipse cx="130.3" cy="131.1" rx="2.0" ry="1.5" fill="#0000b4"/><ellipse cx="164.4" cy="91.6" rx="2.0" ry="1.5" fill="#87ff78"/><ellipse cx="61.9" cy="53.6" rx="2.0" ry="1.5" fill="#ff5d00"/><ellipse cx="69.3" cy="51.7" rx="2.0" ry="1.5" fill="#ff5900"/><ellipse cx="172.2" cy="47.5" rx="2.0" ry="1.5" fill="#f90000"/><ellipse cx="60.8" cy="76.7" rx="2.0" ry="1.5" fill="#ffc000"/><ellipse cx="225.7" cy="55.5" rx="2.0" ry="1.5" fill="#800000"/><ellipse cx="54.4" cy="56.7" rx="2.0" ry="1.5" fill="#ff6100"/><ellipse cx="220.6" cy="54.3" rx="2.0" ry="1.5" fill="#b20000"/><ellipse cx="46.9" cy="64.3" rx="2.0" ry="1.5" fill="#ff7100"/><ellipse cx="58.4" cy="75.7" rx="2.0" ry="1.5" fill="#ffbd00"/><ellipse cx="131.2" cy="46.2" rx="2.0" ry="1.5" fill="#ff0400"/><ellipse cx="204.0" cy="51.3" rx="2.0" ry="1.5" fill="#ed0000"/><ellipse cx="88.2" cy="84.5" rx="2.0" ry="1.5" fill="#fff500"/><ellipse cx="62.5" cy="77.3" rx="2.0" ry="1.5" fill="#ffc100"/><ellipse cx="142.6" cy="133.5" rx="2.0" ry="1.5" fill="#0000c7"/><ellipse cx="150.6" cy="91.9" rx="2.0" ry="1.5" fill="#99ff66"/><ellipse cx="50.1" cy="69.3" rx="2.0" ry="1.5" fill="#ffa500"/><ellipse cx="57.0" cy="57.2" rx="2.0" ry="1.5" fill="#ff6100"/><ellipse cx="193.5" cy="93.1" rx="2.0" ry="1.5" fill="#6eff91"/><ellipse cx="109.9" cy="88.4" rx="2.0" ry="1.5" fill="#d2ff2d"/><ellipse cx="135.4" cy="91.2" rx="2.0" ry="1.5" fill="#adff52"/><ellipse cx="211.8" cy="52.9" rx="2.0" ry="1.5" fill="#ea0000"/><ellipse cx="80.5" cy="51.1" rx="2.0" ry="1.5" fill="#ff5600"/><ellipse cx="192.7" cy="50.2" rx="2.0" ry="1.5" fill="#f50000"/><ellipse cx="162.8" cy="47.7" rx="2.0" ry="1.5" fill="#fc0000"/><ellipse cx="173.6" cy="48.4" rx="2.0" ry="1.5" fill="#fa0000"/><ellipse cx="77.0" cy="82.0" rx="2.0" ry="1.5" fill="#ffcf00"/><ellipse cx="119.3" cy="129.3" rx="2.0" ry="1.5" fill="#000084"/><ellipse cx="198.5" cy="93.5" rx="2.0" ry="1.5" fill="#6aff95"/><ellipse cx="68.4" cy="53.9" rx="2.0" ry="1.5" fill="#ff5b00"/><ellipse cx="198.0" cy="51.0" rx="2.0" ry="1.5" fill="#f20000"/><ellipse cx="53.5" cy="71.6" rx="2.0" ry="1.5" fill="#ffad00"/><ellipse cx="90.0" cy="50.1" rx="2.0" ry="1.5" fill="#ff5300"/><ellipse cx="96.6" cy="49.5" rx="2.0" ry="1.5" fill="#ff5100"/><ellipse cx="114.7" cy="89.4" rx="2.0" ry="1.5" fill="#caff35"/><ellipse cx="205.8" cy="52.2" rx="2.0" ry="1.5" fill="#ee0000"/><ellipse cx="104.8" cy="48.8" rx="2.0" ry="1.5" fill="#ff4e00"/><ellipse cx="228.0" cy="56.4" rx="2.0" ry="1.5" fill="#970000"/><ellipse cx="93.4" cy="86.1" rx="2.0" ry="1.5" fill="#fff700"/><ellipse cx="159.4" cy="93.3" rx="2.0" ry="1.5" fill="#94ff6b"/><ellipse cx="177.1" cy="93.7" rx="2.0" ry="1.5" fill="#7fff80"/><ellipse cx="143.4" cy="92.6" rx="2.0" ry="1.5" fill="#a7ff58"/><ellipse cx="75.2" cy="54.0" rx="2.0" ry="1.5" fill="#ff5a00"/><ellipse cx="232.4" cy="57.6" rx="2.0" ry="1.5" fill="#800000"/><ellipse cx="63.0" cy="76.8" rx="2.0" ry="1.5" fill="#ffba00"/><ellipse cx="93.4" cy="86.2" rx="2.0" ry="1.5" fill="#fff100"/><ellipse cx="56.1" cy="62.9" rx="2.0" ry="1.5" fill="#ff6700"/><ellipse cx="55.0" cy="64.7" rx="2.0" ry="1.5" fill="#ff6900"/><ellipse cx="133.0" cy="132.7" rx="2.0" ry="1.5" fill="#0000aa"/><ellipse cx="168.0" cy="94.3" rx="2.0" ry="1.5" fill="#8dff72"/><ellipse cx="56.2" cy="70.9" rx="2.0" ry="1.5" fill="#ffa100"/><ellipse cx="63.3" cy="59.2" rx="2.0" ry="1.5" fill="#ff6100"/><ellipse cx="132.7" cy="92.3" rx="2.0" ry="1.5" fill="#b7ff48"/><ellipse cx="97.7" cy="87.3" rx="2.0" ry="1.5" fill="#fff900"/><ellipse cx="217.5" cy="54.8" rx="2.0" ry="1.5" fill="#ea0000"/><ellipse cx="126.2" cy="131.3" rx="2.0" ry="1.5" fill="#000092"/><ellipse cx="173.3" cy="94.8" rx="2.0" ry="1.5" fill="#88ff77"/><ellipse cx="118.1" cy="90.8" rx="2.0" ry="1.5" fill="#cfff30"/><ellipse cx="235.6" cy="58.6" rx="2.0" ry="1.5" fill="#800000"/><ellipse cx="167.6" cy="49.8" rx="2.0" ry="1.5" fill="#fd0000"/><ellipse cx="144.7" cy="49.2" rx="2.0" ry="1.5" fill="#ff0300"/><ellipse cx="71.1" cy="57.4" rx="2.0" ry="1.5" fill="#ff5d00"/><ellipse cx="143.0" cy="93.6" rx="2.0" ry="1.5" fill="#adff52"/><ellipse cx="60.8" cy="62.9" rx="2.0" ry="1.5" fill="#ff6500"/><ellipse cx="125.5" cy="50.0" rx="2.0" ry="1.5" fill="#ff2e00"/><ellipse cx="85.3" cy="54.4" rx="2.0" ry="1.5" fill="#ff5700"/><ellipse cx="84.1" cy="84.3" rx="2.0" ry="1.5" fill="#ffce00"/><ellipse cx="71.6" cy="80.0" rx="2.0" ry="1.5" fill="#ffbf00"/><ellipse cx="208.7" cy="53.9" rx="2.0" ry="1.5" fill="#f10000"/><ellipse cx="234.7" cy="58.5" rx="2.0" ry="1.5" fill="#9d0000"/><ellipse cx="86.5" cy="85.0" rx="2.0" ry="1.5" fill="#ffcf00"/><ellipse cx="129.0" cy="132.3" rx="2.0" ry="1.5" fill="#000088"/><ellipse cx="76.8" cy="81.9" rx="2.0" ry="1.5" fill="#ffc400"/><ellipse cx="62.5" cy="74.1" rx="2.0" ry="1.5" fill="#ffab00"/><ellipse cx="152.5" cy="50.3" rx="2.0" ry="1.5" fill="#ff0200"/><ellipse cx="100.8" cy="53.0" rx="2.0" ry="1.5" fill="#ff5300"/><ellipse cx="165.8" cy="50.7" rx="2.0" ry="1.5" fill="#fe0000"/><ellipse cx="200.0" cy="53.2" rx="2.0" ry="1.5" fill="#f60000"/><ellipse cx="139.6" cy="50.5" rx="2.0" ry="1.5" fill="#ff0700"/><ellipse cx="61.6" cy="67.6" rx="2.0" ry="1.5" fill="#ff6a00"/><ellipse cx="69.7" cy="61.0" rx="2.0" ry="1.5" fill="#ff6100"/><ellipse cx="101.3" cy="88.7" rx="2.0" ry="1.5" fill="#fff200"/><ellipse cx="64.9" cy="75.2" rx="2.0" ry="1.5" fill="#ffad00"/><ellipse cx="132.1" cy="51.1" rx="2.0" ry="1.5" fill="#ff2400"/><ellipse cx="94.3" cy="87.2" rx="2.0" ry="1.5" fill="#ffda00"/><ellipse cx="189.5" cy="52.6" rx="2.0" ry="1.5" fill="#f90000"/><ellipse cx="62.6" cy="69.4" rx="2.0" ry="1.5" fill="#ff7300"/><ellipse cx="119.0" cy="52.1" rx="2.0" ry="1.5" fill="#ff4d00"/><ellipse cx="64.5" cy="73.9" rx="2.0" ry="1.5" fill="#ffa600"/><ellipse cx="154.2" cy="95.9" rx="2.0" ry="1.5" fill="#a7ff58"/><ellipse cx="183.2" cy="52.4" rx="2.0" ry="1.5" fill="#fb0000"/><ellipse cx="75.0" cy="60.6" rx="2.0" ry="1.5" fill="#ff5f00"/><ellipse cx="68.5" cy="63.8" rx="2.0" ry="1.5" fill="#ff6400"/><ellipse cx="219.1" cy="56.4" rx="2.0" ry="1.5" fill="#ee0000"/><ellipse cx="105.6" cy="90.0" rx="2.0" ry="1.5" fill="#fff300"/><ellipse cx="140.2" cy="95.1" rx="2.0" ry="1.5" fill="#baff45"/><ellipse cx="74.2" cy="80.0" rx="2.0" ry="1.5" fill="#ffb800"/><ellipse cx="70.5" cy="77.8" rx="2.0" ry="1.5" fill="#ffb100"/><ellipse cx="99.6" cy="55.5" rx="2.0" ry="1.5" fill="#ff5500"/><ellipse cx="176.2" cy="52.5" rx="2.0" ry="1.5" fill="#fd0000"/><ellipse cx="113.2" cy="53.9" rx="2.0" ry="1.5" fill="#ff5000"/><ellipse cx="207.6" cy="55.2" rx="2.0" ry="1.5" fill="#f50000"/><ellipse cx="160.4" cy="97.1" rx="2.0" ry="1.5" fill="#a3ff5c"/><ellipse cx="111.1" cy="91.2" rx="2.0" ry="1.5" fill="#feff01"/><ellipse cx="100.9" cy="89.1" rx="2.0" ry="1.5" fill="#ffdf00"/><ellipse cx="76.0" cy="80.6" rx="2.0" ry="1.5" fill="#ffb800"/><ellipse cx="142.0" cy="52.7" rx="2.0" ry="1.5" fill="#ff1600"/><ellipse cx="79.2" cy="61.7" rx="2.0" ry="1.5" fill="#ff5f00"/><ellipse cx="69.8" cy="67.5" rx="2.0" ry="1.5" fill="#ff6700"/><ellipse cx="169.1" cy="98.0" rx="2.0" ry="1.5" fill="#9bff64"/><ellipse cx="99.0" cy="57.3" rx="2.0" ry="1.5" fill="#ff5600"/><ellipse cx="69.2" cy="73.2" rx="2.0" ry="1.5" fill="#ff8800"/><ellipse cx="144.2" cy="53.5" rx="2.0" ry="1.5" fill="#ff1700"/><ellipse cx="163.6" cy="53.5" rx="2.0" ry="1.5" fill="#ff0200"/><ellipse cx="147.4" cy="53.6" rx="2.0" ry="1.5" fill="#ff0e00"/><ellipse cx="121.3" cy="55.1" rx="2.0" ry="1.5" fill="#ff4f00"/><ellipse cx="91.1" cy="59.8" rx="2.0" ry="1.5" fill="#ff5a00"/><ellipse cx="189.5" cy="54.5" rx="2.0" ry="1.5" fill="#fb0000"/><ellipse cx="76.3" cy="65.4" rx="2.0" ry="1.5" fill="#ff6300"/><ellipse cx="92.4" cy="86.9" rx="2.0" ry="1.5" fill="#ffc900"/><ellipse cx="117.0" cy="92.8" rx="2.0" ry="1.5" fill="#faff05"/><ellipse cx="83.5" cy="62.8" rx="2.0" ry="1.5" fill="#ff5f00"/><ellipse cx="102.0" cy="89.6" rx="2.0" ry="1.5" fill="#ffd400"/><ellipse cx="157.4" cy="98.2" rx="2.0" ry="1.5" fill="#aeff51"/><ellipse cx="82.1" cy="82.6" rx="2.0" ry="1.5" fill="#ffba00"/><ellipse cx="99.3" cy="59.3" rx="2.0" ry="1.5" fill="#ff5800"/><ellipse cx="77.2" cy="79.4" rx="2.0" ry="1.5" fill="#ffaf00"/><ellipse cx="75.2" cy="68.9" rx="2.0" ry="1.5" fill="#ff6700"/><ellipse cx="207.0" cy="56.6" rx="2.0" ry="1.5" fill="#f70000"/><ellipse cx="218.9" cy="58.0" rx="2.0" ry="1.5" fill="#f40000"/><ellipse cx="111.4" cy="57.8" rx="2.0" ry="1.5" fill="#ff5400"/><ellipse cx="74.7" cy="72.3" rx="2.0" ry="1.5" fill="#ff6b00"/><ellipse cx="123.2" cy="94.4" rx="2.0" ry="1.5" fill="#f2ff0d"/><ellipse cx="200.3" cy="56.4" rx="2.0" ry="1.5" fill="#f90000"/><ellipse cx="172.8" cy="55.1" rx="2.0" ry="1.5" fill="#ff0100"/><ellipse cx="76.2" cy="76.0" rx="2.0" ry="1.5" fill="#ff9100"/><ellipse cx="112.5" cy="92.5" rx="2.0" ry="1.5" fill="#ffe600"/><ellipse cx="85.2" cy="66.0" rx="2.0" ry="1.5" fill="#ff6100"/><ellipse cx="83.5" cy="82.3" rx="2.0" ry="1.5" fill="#ffb400"/><ellipse cx="145.0" cy="55.9" rx="2.0" ry="1.5" fill="#ff2d00"/><ellipse cx="103.0" cy="60.9" rx="2.0" ry="1.5" fill="#ff5800"/><ellipse cx="154.7" cy="99.2" rx="2.0" ry="1.5" fill="#b8ff47"/><ellipse cx="137.5" cy="97.1" rx="2.0" ry="1.5" fill="#d4ff2b"/><ellipse cx="103.4" cy="61.1" rx="2.0" ry="1.5" fill="#ff5800"/><ellipse cx="186.3" cy="56.4" rx="2.0" ry="1.5" fill="#fd0000"/><ellipse cx="91.6" cy="86.2" rx="2.0" ry="1.5" fill="#ffbf00"/><ellipse cx="78.7" cy="75.4" rx="2.0" ry="1.5" fill="#ff7f00"/><ellipse cx="151.3" cy="56.3" rx="2.0" ry="1.5" fill="#ff1d00"/><ellipse cx="91.4" cy="86.0" rx="2.0" ry="1.5" fill="#ffbd00"/><ellipse cx="102.5" cy="90.0" rx="2.0" ry="1.5" fill="#ffcb00"/><ellipse cx="116.3" cy="59.7" rx="2.0" ry="1.5" fill="#ff5400"/><ellipse cx="89.5" cy="66.7" rx="2.0" ry="1.5" fill="#ff6100"/><ellipse cx="81.5" cy="74.9" rx="2.0" ry="1.5" fill="#ff6f00"/><ellipse cx="119.6" cy="94.5" rx="2.0" ry="1.5" fill="#ffec00"/><ellipse cx="188.0" cy="57.4" rx="2.0" ry="1.5" fill="#fe0000"/><ellipse cx="108.1" cy="62.4" rx="2.0" ry="1.5" fill="#ff5800"/><ellipse cx="92.8" cy="67.4" rx="2.0" ry="1.5" fill="#ff6000"/><ellipse cx="155.1" cy="57.8" rx="2.0" ry="1.5" fill="#ff2000"/><ellipse cx="199.9" cy="58.4" rx="2.0" ry="1.5" fill="#fb0000"/><ellipse cx="84.1" cy="77.4" rx="2.0" ry="1.5" fill="#ff8300"/><ellipse cx="128.8" cy="96.7" rx="2.0" ry="1.5" fill="#feff01"/><ellipse cx="116.7" cy="94.1" rx="2.0" ry="1.5" fill="#ffda00"/><ellipse cx="100.4" cy="89.1" rx="2.0" ry="1.5" fill="#ffc200"/><ellipse cx="142.2" cy="99.1" rx="2.0" ry="1.5" fill="#dcff23"/><ellipse cx="115.8" cy="62.4" rx="2.0" ry="1.5" fill="#ff5600"/><ellipse cx="127.7" cy="96.6" rx="2.0" ry="1.5" fill="#fff900"/><ellipse cx="92.1" cy="84.8" rx="2.0" ry="1.5" fill="#ffb300"/><ellipse cx="139.8" cy="59.7" rx="2.0" ry="1.5" fill="#ff4e00"/><ellipse cx="120.5" cy="62.1" rx="2.0" ry="1.5" fill="#ff5500"/><ellipse cx="104.7" cy="90.6" rx="2.0" ry="1.5" fill="#ffc500"/><ellipse cx="94.2" cy="85.9" rx="2.0" ry="1.5" fill="#ffb600"/><ellipse cx="88.7" cy="73.6" rx="2.0" ry="1.5" fill="#ff6800"/><ellipse cx="109.9" cy="92.3" rx="2.0" ry="1.5" fill="#ffca00"/><ellipse cx="87.9" cy="78.0" rx="2.0" ry="1.5" fill="#ff7c00"/><ellipse cx="122.4" cy="62.5" rx="2.0" ry="1.5" fill="#ff5500"/><ellipse cx="158.8" cy="59.3" rx="2.0" ry="1.5" fill="#ff2300"/><ellipse cx="92.5" cy="72.2" rx="2.0" ry="1.5" fill="#ff6500"/><ellipse cx="106.2" cy="66.4" rx="2.0" ry="1.5" fill="#ff5c00"/><ellipse cx="183.3" cy="59.4" rx="2.0" ry="1.5" fill="#ff0200"/><ellipse cx="91.0" cy="82.0" rx="2.0" ry="1.5" fill="#ffa500"/><ellipse cx="101.7" cy="89.2" rx="2.0" ry="1.5" fill="#ffbd00"/><ellipse cx="152.8" cy="60.1" rx="2.0" ry="1.5" fill="#ff3e00"/><ellipse cx="103.6" cy="67.9" rx="2.0" ry="1.5" fill="#ff5e00"/><ellipse cx="120.1" cy="95.3" rx="2.0" ry="1.5" fill="#ffd300"/><ellipse cx="95.8" cy="85.8" rx="2.0" ry="1.5" fill="#ffb200"/><ellipse cx="129.8" cy="97.6" rx="2.0" ry="1.5" fill="#fff000"/><ellipse cx="170.0" cy="59.8" rx="2.0" ry="1.5" fill="#ff0600"/><ellipse cx="119.6" cy="64.6" rx="2.0" ry="1.5" fill="#ff5700"/><ellipse cx="93.6" cy="79.0" rx="2.0" ry="1.5" fill="#ff7400"/><ellipse cx="100.0" cy="72.1" rx="2.0" ry="1.5" fill="#ff6300"/><ellipse cx="139.6" cy="62.7" rx="2.0" ry="1.5" fill="#ff5100"/><ellipse cx="120.0" cy="65.7" rx="2.0" ry="1.5" fill="#ff5800"/><ellipse cx="95.1" cy="82.3" rx="2.0" ry="1.5" fill="#ff9700"/><ellipse cx="181.5" cy="60.9" rx="2.0" ry="1.5" fill="#ff0300"/><ellipse cx="167.9" cy="61.2" rx="2.0" ry="1.5" fill="#ff1a00"/><ellipse cx="127.6" cy="64.8" rx="2.0" ry="1.5" fill="#ff5500"/><ellipse cx="105.5" cy="90.0" rx="2.0" ry="1.5" fill="#ffba00"/><ellipse cx="102.8" cy="72.6" rx="2.0" ry="1.5" fill="#ff6200"/><ellipse cx="124.1" cy="66.2" rx="2.0" ry="1.5" fill="#ff5700"/><ellipse cx="176.4" cy="61.6" rx="2.0" ry="1.5" fill="#ff0500"/><ellipse cx="127.0" cy="97.4" rx="2.0" ry="1.5" fill="#ffd300"/><ellipse cx="118.0" cy="94.8" rx="2.0" ry="1.5" fill="#ffc800"/><ellipse cx="109.6" cy="91.5" rx="2.0" ry="1.5" fill="#ffbc00"/><ellipse cx="152.1" cy="63.6" rx="2.0" ry="1.5" fill="#ff4e00"/><ellipse cx="104.1" cy="75.0" rx="2.0" ry="1.5" fill="#ff6400"/><ellipse cx="100.5" cy="79.2" rx="2.0" ry="1.5" fill="#ff6a00"/><ellipse cx="125.3" cy="97.1" rx="2.0" ry="1.5" fill="#ffcd00"/><ellipse cx="108.7" cy="73.5" rx="2.0" ry="1.5" fill="#ff6100"/><ellipse cx="137.0" cy="66.3" rx="2.0" ry="1.5" fill="#ff5400"/><ellipse cx="115.7" cy="71.6" rx="2.0" ry="1.5" fill="#ff5e00"/><ellipse cx="131.6" cy="67.9" rx="2.0" ry="1.5" fill="#ff5700"/><ellipse cx="103.2" cy="81.7" rx="2.0" ry="1.5" fill="#ff7000"/><ellipse cx="113.9" cy="74.0" rx="2.0" ry="1.5" fill="#ff6000"/><ellipse cx="105.5" cy="82.8" rx="2.0" ry="1.5" fill="#ff7400"/><ellipse cx="108.0" cy="87.8" rx="2.0" ry="1.5" fill="#ffaa00"/><ellipse cx="110.8" cy="90.1" rx="2.0" ry="1.5" fill="#ffb000"/><ellipse cx="131.7" cy="69.9" rx="2.0" ry="1.5" fill="#ff5800"/><ellipse cx="154.9" cy="66.4" rx="2.0" ry="1.5" fill="#ff5000"/><ellipse cx="139.0" cy="68.5" rx="2.0" ry="1.5" fill="#ff5500"/><ellipse cx="117.2" cy="74.9" rx="2.0" ry="1.5" fill="#ff6000"/><ellipse cx="109.1" cy="87.0" rx="2.0" ry="1.5" fill="#ff9c00"/><ellipse cx="139.3" cy="70.0" rx="2.0" ry="1.5" fill="#ff5700"/><ellipse cx="111.9" cy="87.0" rx="2.0" ry="1.5" fill="#ff9100"/><ellipse cx="116.8" cy="78.2" rx="2.0" ry="1.5" fill="#ff6300"/><ellipse cx="115.1" cy="89.8" rx="2.0" ry="1.5" fill="#ffa900"/><ellipse cx="136.0" cy="72.8" rx="2.0" ry="1.5" fill="#ff5a00"/><ellipse cx="119.3" cy="92.7" rx="2.0" ry="1.5" fill="#ffb000"/><ellipse cx="120.2" cy="79.5" rx="2.0" ry="1.5" fill="#ff6400"/><ellipse cx="146.6" cy="71.4" rx="2.0" ry="1.5" fill="#ff5600"/><ellipse cx="116.4" cy="84.7" rx="2.0" ry="1.5" fill="#ff6a00"/><ellipse cx="117.3" cy="83.1" rx="2.0" ry="1.5" fill="#ff6800"/><ellipse cx="134.6" cy="75.1" rx="2.0" ry="1.5" fill="#ff5c00"/><ellipse cx="119.5" cy="88.7" rx="2.0" ry="1.5" fill="#ff8800"/><ellipse cx="123.7" cy="82.7" rx="2.0" ry="1.5" fill="#ff6600"/></g><g stroke="#b0b0b0" stroke-width="0.8" fill="none"><line x1="306.1" y1="113.1" x2="306.1" y2="39.1"/><line x1="406.2" y1="147.2" x2="306.1" y2="113.1"/><line x1="406.2" y1="147.2" x2="536.2" y2="121.3"/></g><path d="M306.1 113.1l-2.46 -0.84 M306.1 94.6l-2.46 -0.84 M306.1 76.1l-2.46 -0.84 M306.1 57.6l-2.46 -0.84 M306.1 39.1l-2.46 -0.84 M406.2 147.2l-2.55 0.51 M356.1 130.1l-2.55 0.51 M306.1 113.1l-2.55 0.51 M406.2 147.2l2.46 0.84 M438.7 140.7l2.46 0.84 M471.2 134.2l2.46 0.84 M503.7 127.8l2.46 0.84 M536.2 121.3l2.46 0.84" stroke="#444" stroke-width="0.7" fill="none"/><g><ellipse cx="427.6" cy="80.7" rx="2.0" ry="1.5" fill="#8b0000"/><ellipse cx="425.1" cy="82.6" rx="2.0" ry="1.5" fill="#8f0000"/><ellipse cx="437.0" cy="74.3" rx="2.0" ry="1.5" fill="#9b0000"/><ellipse cx="437.4" cy="78.1" rx="2.0" ry="1.5" fill="#b90000"/><ellipse cx="439.7" cy="75.0" rx="2.0" ry="1.5" fill="#b60000"/><ellipse cx="438.7" cy="79.5" rx="2.0" ry="1.5" fill="#ce0000"/><ellipse cx="425.8" cy="86.6" rx="2.0" ry="1.5" fill="#c10000"/><ellipse cx="423.5" cy="87.4" rx="2.0" ry="1.5" fill="#bd0000"/><ellipse cx="442.3" cy="75.6" rx="2.0" ry="1.5" fill="#ce0000"/><ellipse cx="434.6" cy="65.0" rx="2.0" ry="1.5" fill="#800000"/><ellipse cx="438.7" cy="67.7" rx="2.0" ry="1.5" fill="#9f0000"/><ellipse cx="433.9" cy="84.8" rx="2.0" ry="1.5" fill="#df0000"/><ellipse cx="443.7" cy="77.1" rx="2.0" ry="1.5" fill="#e20000"/><ellipse cx="398.5" cy="93.8" rx="2.0" ry="1.5" fill="#8b0000"/><ellipse cx="404.2" cy="93.5" rx="2.0" ry="1.5" fill="#a40000"/><ellipse cx="443.5" cy="69.6" rx="2.0" ry="1.5" fill="#cf0000"/><ellipse cx="421.4" cy="91.9" rx="2.0" ry="1.5" fill="#ea0000"/><ellipse cx="446.0" cy="82.0" rx="2.0" ry="1.5" fill="#ff1900"/><ellipse cx="437.7" cy="87.1" rx="2.0" ry="1.5" fill="#ff1200"/><ellipse cx="449.7" cy="74.7" rx="2.0" ry="1.5" fill="#ff0c00"/><ellipse cx="394.7" cy="96.5" rx="2.0" ry="1.5" fill="#a40000"/><ellipse cx="450.7" cy="77.7" rx="2.0" ry="1.5" fill="#ff2100"/><ellipse cx="444.9" cy="86.3" rx="2.0" ry="1.5" fill="#ff3900"/><ellipse cx="443.8" cy="67.9" rx="2.0" ry="1.5" fill="#e10000"/><ellipse cx="386.6" cy="98.0" rx="2.0" ry="1.5" fill="#990000"/><ellipse cx="432.8" cy="63.0" rx="2.0" ry="1.5" fill="#a40000"/><ellipse cx="402.3" cy="97.1" rx="2.0" ry="1.5" fill="#d30000"/><ellipse cx="453.6" cy="79.7" rx="2.0" ry="1.5" fill="#ff4400"/><ellipse cx="448.8" cy="85.6" rx="2.0" ry="1.5" fill="#ff4e00"/><ellipse cx="420.6" cy="95.0" rx="2.0" ry="1.5" fill="#ff1200"/><ellipse cx="405.5" cy="97.2" rx="2.0" ry="1.5" fill="#e30000"/><ellipse cx="452.6" cy="73.9" rx="2.0" ry="1.5" fill="#ff2900"/><ellipse cx="431.5" cy="93.1" rx="2.0" ry="1.5" fill="#ff3400"/><ellipse cx="429.5" cy="61.9" rx="2.0" ry="1.5" fill="#9a0000"/><ellipse cx="437.9" cy="91.8" rx="2.0" ry="1.5" fill="#ff4a00"/><ellipse cx="447.5" cy="69.3" rx="2.0" ry="1.5" fill="#ff0500"/><ellipse cx="422.5" cy="95.5" rx="2.0" ry="1.5" fill="#ff2300"/><ellipse cx="450.1" cy="87.6" rx="2.0" ry="1.5" fill="#ff6a00"/><ellipse cx="438.5" cy="93.2" rx="2.0" ry="1.5" fill="#ff5f00"/><ellipse cx="458.3" cy="79.3" rx="2.0" ry="1.5" fill="#ff6a00"/><ellipse cx="437.8" cy="64.7" rx="2.0" ry="1.5" fill="#d60000"/><ellipse cx="372.5" cy="100.7" rx="2.0" ry="1.5" fill="#8f0000"/><ellipse cx="459.0" cy="84.1" rx="2.0" ry="1.5" fill="#ff8c00"/><ellipse cx="456.4" cy="73.6" rx="2.0" ry="1.5" fill="#ff5400"/><ellipse cx="461.1" cy="81.3" rx="2.0" ry="1.5" fill="#ff8b00"/><ellipse cx="445.1" cy="93.4" rx="2.0" ry="1.5" fill="#ff8900"/><ellipse cx="387.3" cy="101.4" rx="2.0" ry="1.5" fill="#d60000"/><ellipse cx="457.8" cy="74.2" rx="2.0" ry="1.5" fill="#ff6200"/><ellipse cx="458.4" cy="87.6" rx="2.0" ry="1.5" fill="#ffa400"/><ellipse cx="445.5" cy="67.4" rx="2.0" ry="1.5" fill="#ff1600"/><ellipse cx="399.0" cy="101.6" rx="2.0" ry="1.5" fill="#ff0e00"/><ellipse cx="463.3" cy="84.9" rx="2.0" ry="1.5" fill="#ffb300"/><ellipse cx="418.6" cy="100.5" rx="2.0" ry="1.5" fill="#ff5800"/><ellipse cx="440.3" cy="97.4" rx="2.0" ry="1.5" fill="#ff9f00"/><ellipse cx="463.3" cy="87.9" rx="2.0" ry="1.5" fill="#ffc900"/><ellipse cx="434.9" cy="64.1" rx="2.0" ry="1.5" fill="#ef0000"/><ellipse cx="426.8" cy="62.1" rx="2.0" ry="1.5" fill="#c90000"/><ellipse cx="466.8" cy="82.5" rx="2.0" ry="1.5" fill="#ffc100"/><ellipse cx="460.8" cy="74.5" rx="2.0" ry="1.5" fill="#ff8600"/><ellipse cx="382.8" cy="103.3" rx="2.0" ry="1.5" fill="#e70000"/><ellipse cx="414.6" cy="102.0" rx="2.0" ry="1.5" fill="#ff5c00"/><ellipse cx="437.1" cy="99.2" rx="2.0" ry="1.5" fill="#ffa600"/><ellipse cx="447.7" cy="68.1" rx="2.0" ry="1.5" fill="#ff3b00"/><ellipse cx="433.9" cy="63.9" rx="2.0" ry="1.5" fill="#f20000"/><ellipse cx="466.2" cy="78.5" rx="2.0" ry="1.5" fill="#ffb300"/><ellipse cx="460.3" cy="92.7" rx="2.0" ry="1.5" fill="#ffe200"/><ellipse cx="412.1" cy="59.6" rx="2.0" ry="1.5" fill="#8f0000"/><ellipse cx="416.4" cy="60.4" rx="2.0" ry="1.5" fill="#a40000"/><ellipse cx="469.0" cy="84.1" rx="2.0" ry="1.5" fill="#ffdc00"/><ellipse cx="445.9" cy="98.4" rx="2.0" ry="1.5" fill="#ffcd00"/><ellipse cx="424.7" cy="102.4" rx="2.0" ry="1.5" fill="#ff9300"/><ellipse cx="441.1" cy="66.1" rx="2.0" ry="1.5" fill="#ff2700"/><ellipse cx="470.8" cy="86.4" rx="2.0" ry="1.5" fill="#fff800"/><ellipse cx="469.3" cy="89.2" rx="2.0" ry="1.5" fill="#fdff02"/><ellipse cx="358.0" cy="104.0" rx="2.0" ry="1.5" fill="#a20000"/><ellipse cx="396.9" cy="104.8" rx="2.0" ry="1.5" fill="#ff3b00"/><ellipse cx="395.2" cy="104.9" rx="2.0" ry="1.5" fill="#ff3600"/><ellipse cx="452.4" cy="69.7" rx="2.0" ry="1.5" fill="#ff6900"/><ellipse cx="436.6" cy="101.6" rx="2.0" ry="1.5" fill="#ffc500"/><ellipse cx="471.0" cy="79.8" rx="2.0" ry="1.5" fill="#ffe500"/><ellipse cx="460.1" cy="72.7" rx="2.0" ry="1.5" fill="#ff9b00"/><ellipse cx="440.3" cy="66.1" rx="2.0" ry="1.5" fill="#ff3300"/><ellipse cx="446.1" cy="101.0" rx="2.0" ry="1.5" fill="#fff000"/><ellipse cx="474.1" cy="88.1" rx="2.0" ry="1.5" fill="#e1ff1e"/><ellipse cx="459.7" cy="97.6" rx="2.0" ry="1.5" fill="#eaff15"/><ellipse cx="447.4" cy="100.9" rx="2.0" ry="1.5" fill="#fff600"/><ellipse cx="348.3" cy="104.1" rx="2.0" ry="1.5" fill="#8e0000"/><ellipse cx="470.5" cy="92.5" rx="2.0" ry="1.5" fill="#d8ff27"/><ellipse cx="468.0" cy="76.6" rx="2.0" ry="1.5" fill="#ffd300"/><ellipse cx="368.2" cy="105.6" rx="2.0" ry="1.5" fill="#e20000"/><ellipse cx="361.5" cy="105.4" rx="2.0" ry="1.5" fill="#c90000"/><ellipse cx="432.8" cy="64.5" rx="2.0" ry="1.5" fill="#ff1700"/><ellipse cx="415.6" cy="61.6" rx="2.0" ry="1.5" fill="#ca0000"/><ellipse cx="455.9" cy="70.9" rx="2.0" ry="1.5" fill="#ff9000"/><ellipse cx="412.0" cy="106.1" rx="2.0" ry="1.5" fill="#ff9300"/><ellipse cx="354.8" cy="105.4" rx="2.0" ry="1.5" fill="#ba0000"/><ellipse cx="399.8" cy="106.9" rx="2.0" ry="1.5" fill="#ff6d00"/><ellipse cx="445.2" cy="67.7" rx="2.0" ry="1.5" fill="#ff6000"/><ellipse cx="465.2" cy="98.0" rx="2.0" ry="1.5" fill="#c2ff3d"/><ellipse cx="477.2" cy="90.3" rx="2.0" ry="1.5" fill="#b9ff46"/><ellipse cx="474.6" cy="80.1" rx="2.0" ry="1.5" fill="#f2ff0d"/><ellipse cx="477.1" cy="82.0" rx="2.0" ry="1.5" fill="#dbff24"/><ellipse cx="428.3" cy="106.1" rx="2.0" ry="1.5" fill="#ffdf00"/><ellipse cx="372.5" cy="107.2" rx="2.0" ry="1.5" fill="#ff1200"/><ellipse cx="381.4" cy="107.7" rx="2.0" ry="1.5" fill="#ff3800"/><ellipse cx="480.3" cy="85.8" rx="2.0" ry="1.5" fill="#b7ff48"/><ellipse cx="474.8" cy="95.4" rx="2.0" ry="1.5" fill="#9eff61"/><ellipse cx="481.0" cy="90.7" rx="2.0" ry="1.5" fill="#98ff67"/><ellipse cx="459.5" cy="72.1" rx="2.0" ry="1.5" fill="#ffbd00"/><ellipse cx="406.8" cy="108.2" rx="2.0" ry="1.5" fill="#ffa100"/><ellipse cx="448.0" cy="104.6" rx="2.0" ry="1.5" fill="#d2ff2d"/><ellipse cx="395.4" cy="60.5" rx="2.0" ry="1.5" fill="#950000"/><ellipse cx="402.1" cy="61.4" rx="2.0" ry="1.5" fill="#b60000"/><ellipse cx="481.3" cy="83.8" rx="2.0" ry="1.5" fill="#b1ff4e"/><ellipse cx="433.5" cy="107.2" rx="2.0" ry="1.5" fill="#f5ff0a"/><ellipse cx="426.7" cy="107.8" rx="2.0" ry="1.5" fill="#fff200"/><ellipse cx="448.5" cy="105.4" rx="2.0" ry="1.5" fill="#c3ff3c"/><ellipse cx="456.5" cy="104.1" rx="2.0" ry="1.5" fill="#abff54"/><ellipse cx="474.2" cy="98.9" rx="2.0" ry="1.5" fill="#7eff81"/><ellipse cx="461.3" cy="72.7" rx="2.0" ry="1.5" fill="#ffd600"/><ellipse cx="471.2" cy="100.7" rx="2.0" ry="1.5" fill="#7eff81"/><ellipse cx="443.5" cy="68.0" rx="2.0" ry="1.5" fill="#ff7f00"/><ellipse cx="454.7" cy="105.3" rx="2.0" ry="1.5" fill="#a3ff5c"/><ellipse cx="432.3" cy="65.9" rx="2.0" ry="1.5" fill="#ff4c00"/><ellipse cx="479.8" cy="97.3" rx="2.0" ry="1.5" fill="#69ff96"/><ellipse cx="411.3" cy="109.6" rx="2.0" ry="1.5" fill="#ffcc00"/><ellipse cx="466.6" cy="74.5" rx="2.0" ry="1.5" fill="#fff900"/><ellipse cx="388.9" cy="109.8" rx="2.0" ry="1.5" fill="#ff7b00"/><ellipse cx="334.2" cy="104.9" rx="2.0" ry="1.5" fill="#940000"/><ellipse cx="411.6" cy="63.3" rx="2.0" ry="1.5" fill="#f70000"/><ellipse cx="487.4" cy="90.8" rx="2.0" ry="1.5" fill="#65ff9a"/><ellipse cx="481.8" cy="81.7" rx="2.0" ry="1.5" fill="#a3ff5c"/><ellipse cx="486.9" cy="86.4" rx="2.0" ry="1.5" fill="#78ff87"/><ellipse cx="384.4" cy="110.3" rx="2.0" ry="1.5" fill="#ff7700"/><ellipse cx="342.2" cy="106.6" rx="2.0" ry="1.5" fill="#c70000"/><ellipse cx="372.0" cy="109.8" rx="2.0" ry="1.5" fill="#ff4900"/><ellipse cx="381.0" cy="61.8" rx="2.0" ry="1.5" fill="#890000"/><ellipse cx="408.8" cy="63.8" rx="2.0" ry="1.5" fill="#ff0000"/><ellipse cx="477.6" cy="102.3" rx="2.0" ry="1.5" fill="#43ffbc"/><ellipse cx="447.7" cy="69.6" rx="2.0" ry="1.5" fill="#ffb000"/><ellipse cx="487.1" cy="97.8" rx="2.0" ry="1.5" fill="#33ffcc"/><ellipse cx="467.3" cy="106.0" rx="2.0" ry="1.5" fill="#53ffac"/><ellipse cx="491.6" cy="89.6" rx="2.0" ry="1.5" fill="#45ffba"/><ellipse cx="431.9" cy="67.0" rx="2.0" ry="1.5" fill="#ff6e00"/><ellipse cx="483.2" cy="81.4" rx="2.0" ry="1.5" fill="#8aff75"/><ellipse cx="343.1" cy="107.3" rx="2.0" ry="1.5" fill="#dd0000"/><ellipse cx="478.7" cy="79.0" rx="2.0" ry="1.5" fill="#a5ff5a"/><ellipse cx="362.3" cy="109.8" rx="2.0" ry="1.5" fill="#ff3300"/><ellipse cx="457.9" cy="108.4" rx="2.0" ry="1.5" fill="#67ff98"/><ellipse cx="413.9" cy="112.1" rx="2.0" ry="1.5" fill="#faff05"/><ellipse cx="394.6" cy="63.5" rx="2.0" ry="1.5" fill="#d40000"/><ellipse cx="416.3" cy="65.3" rx="2.0" ry="1.5" fill="#ff3200"/><ellipse cx="489.1" cy="98.9" rx="2.0" ry="1.5" fill="#1affe5"/><ellipse cx="474.9" cy="77.4" rx="2.0" ry="1.5" fill="#b5ff4a"/><ellipse cx="330.5" cy="105.5" rx="2.0" ry="1.5" fill="#ac0000"/><ellipse cx="428.0" cy="112.0" rx="2.0" ry="1.5" fill="#c1ff3e"/><ellipse cx="425.4" cy="23.9" rx="2.0" ry="1.5" fill="#920000"/><ellipse cx="371.6" cy="111.1" rx="2.0" ry="1.5" fill="#ff6500"/><ellipse cx="445.6" cy="69.7" rx="2.0" ry="1.5" fill="#ffb800"/><ellipse cx="466.4" cy="74.6" rx="2.0" ry="1.5" fill="#ddff22"/><ellipse cx="482.7" cy="80.6" rx="2.0" ry="1.5" fill="#81ff7e"/><ellipse cx="388.3" cy="112.4" rx="2.0" ry="1.5" fill="#ffaf00"/><ellipse cx="394.6" cy="64.2" rx="2.0" ry="1.5" fill="#e40000"/><ellipse cx="494.6" cy="96.8" rx="2.0" ry="1.5" fill="#04fffb"/><ellipse cx="345.8" cy="108.5" rx="2.0" ry="1.5" fill="#ff0000"/><ellipse cx="430.4" cy="67.6" rx="2.0" ry="1.5" fill="#ff7f00"/><ellipse cx="474.8" cy="106.8" rx="2.0" ry="1.5" fill="#1effe1"/><ellipse cx="340.6" cy="107.7" rx="2.0" ry="1.5" fill="#e90000"/><ellipse cx="443.6" cy="111.8" rx="2.0" ry="1.5" fill="#7cff83"/><ellipse cx="412.9" cy="113.3" rx="2.0" ry="1.5" fill="#e9ff16"/><ellipse cx="344.8" cy="108.5" rx="2.0" ry="1.5" fill="#fe0000"/><ellipse cx="495.3" cy="89.0" rx="2.0" ry="1.5" fill="#23ffdc"/><ellipse cx="460.9" cy="73.3" rx="2.0" ry="1.5" fill="#eeff11"/><ellipse cx="401.7" cy="113.4" rx="2.0" ry="1.5" fill="#ffef00"/><ellipse cx="496.9" cy="91.5" rx="2.0" ry="1.5" fill="#0ffff0"/><ellipse cx="453.7" cy="71.8" rx="2.0" ry="1.5" fill="#fff000"/><ellipse cx="460.3" cy="110.5" rx="2.0" ry="1.5" fill="#3dffc2"/><ellipse cx="429.1" cy="25.2" rx="2.0" ry="1.5" fill="#b90000"/><ellipse cx="379.5" cy="64.5" rx="2.0" ry="1.5" fill="#b80000"/><ellipse cx="489.5" cy="83.5" rx="2.0" ry="1.5" fill="#4bffb4"/><ellipse cx="413.4" cy="66.3" rx="2.0" ry="1.5" fill="#ff4400"/><ellipse cx="486.6" cy="81.9" rx="2.0" ry="1.5" fill="#5bffa4"/><ellipse cx="434.6" cy="68.7" rx="2.0" ry="1.5" fill="#ffa100"/><ellipse cx="497.7" cy="97.5" rx="2.0" ry="1.5" fill="#00e5ff"/><ellipse cx="383.6" cy="113.3" rx="2.0" ry="1.5" fill="#ffb600"/><ellipse cx="418.6" cy="22.9" rx="2.0" ry="1.5" fill="#8e0000"/><ellipse cx="328.0" cy="105.7" rx="2.0" ry="1.5" fill="#c00000"/><ellipse cx="379.7" cy="113.2" rx="2.0" ry="1.5" fill="#ffa800"/><ellipse cx="474.6" cy="109.3" rx="2.0" ry="1.5" fill="#00fdff"/><ellipse cx="323.1" cy="104.5" rx="2.0" ry="1.5" fill="#ac0000"/><ellipse cx="373.2" cy="65.4" rx="2.0" ry="1.5" fill="#b30000"/><ellipse cx="500.5" cy="91.3" rx="2.0" ry="1.5" fill="#00ecff"/><ellipse cx="391.9" cy="65.9" rx="2.0" ry="1.5" fill="#fe0000"/><ellipse cx="497.4" cy="87.8" rx="2.0" ry="1.5" fill="#09fff6"/><ellipse cx="355.6" cy="111.1" rx="2.0" ry="1.5" fill="#ff4d00"/><ellipse cx="461.9" cy="74.1" rx="2.0" ry="1.5" fill="#ccff33"/><ellipse cx="474.8" cy="110.2" rx="2.0" ry="1.5" fill="#00efff"/><ellipse cx="432.8" cy="26.5" rx="2.0" ry="1.5" fill="#e20000"/><ellipse cx="496.1" cy="103.8" rx="2.0" ry="1.5" fill="#00b9ff"/><ellipse cx="427.4" cy="115.5" rx="2.0" ry="1.5" fill="#87ff78"/><ellipse cx="481.4" cy="79.6" rx="2.0" ry="1.5" fill="#63ff9c"/><ellipse cx="404.1" cy="115.6" rx="2.0" ry="1.5" fill="#dcff23"/><ellipse cx="458.3" cy="113.7" rx="2.0" ry="1.5" fill="#17ffe8"/><ellipse cx="371.2" cy="66.4" rx="2.0" ry="1.5" fill="#be0000"/><ellipse cx="467.3" cy="75.6" rx="2.0" ry="1.5" fill="#a8ff57"/><ellipse cx="493.1" cy="84.3" rx="2.0" ry="1.5" fill="#1dffe2"/><ellipse cx="326.7" cy="105.8" rx="2.0" ry="1.5" fill="#d20000"/><ellipse cx="413.8" cy="116.0" rx="2.0" ry="1.5" fill="#b1ff4e"/><ellipse cx="504.5" cy="95.2" rx="2.0" ry="1.5" fill="#00bcff"/><ellipse cx="431.9" cy="115.9" rx="2.0" ry="1.5" fill="#6dff92"/><ellipse cx="491.4" cy="107.2" rx="2.0" ry="1.5" fill="#00b3ff"/><ellipse cx="483.3" cy="109.8" rx="2.0" ry="1.5" fill="#00c5ff"/><ellipse cx="497.6" cy="104.5" rx="2.0" ry="1.5" fill="#00a8ff"/><ellipse cx="419.8" cy="116.4" rx="2.0" ry="1.5" fill="#94ff6b"/><ellipse cx="437.3" cy="28.0" rx="2.0" ry="1.5" fill="#ff0d00"/><ellipse cx="458.8" cy="114.6" rx="2.0" ry="1.5" fill="#06fff9"/><ellipse cx="506.1" cy="95.4" rx="2.0" ry="1.5" fill="#00adff"/><ellipse cx="415.6" cy="68.5" rx="2.0" ry="1.5" fill="#ff7c00"/><ellipse cx="340.4" cy="109.2" rx="2.0" ry="1.5" fill="#ff2000"/><ellipse cx="390.2" cy="115.7" rx="2.0" ry="1.5" fill="#fffb00"/><ellipse cx="438.4" cy="116.3" rx="2.0" ry="1.5" fill="#49ffb6"/><ellipse cx="359.1" cy="66.7" rx="2.0" ry="1.5" fill="#9e0000"/><ellipse cx="453.3" cy="73.1" rx="2.0" ry="1.5" fill="#dcff23"/><ellipse cx="431.8" cy="26.7" rx="2.0" ry="1.5" fill="#f40000"/><ellipse cx="426.1" cy="25.4" rx="2.0" ry="1.5" fill="#da0000"/><ellipse cx="432.8" cy="70.3" rx="2.0" ry="1.5" fill="#ffc900"/><ellipse cx="499.0" cy="86.9" rx="2.0" ry="1.5" fill="#00ebff"/><ellipse cx="346.7" cy="110.6" rx="2.0" ry="1.5" fill="#ff4300"/><ellipse cx="351.2" cy="111.4" rx="2.0" ry="1.5" fill="#ff5900"/><ellipse cx="447.5" cy="72.3" rx="2.0" ry="1.5" fill="#f2ff0d"/><ellipse cx="460.6" cy="115.2" rx="2.0" ry="1.5" fill="#00f3ff"/><ellipse cx="506.6" cy="100.9" rx="2.0" ry="1.5" fill="#0088ff"/><ellipse cx="377.1" cy="115.0" rx="2.0" ry="1.5" fill="#ffcf00"/><ellipse cx="506.6" cy="92.7" rx="2.0" ry="1.5" fill="#00aeff"/><ellipse cx="410.0" cy="68.6" rx="2.0" ry="1.5" fill="#ff7000"/><ellipse cx="330.5" cy="107.1" rx="2.0" ry="1.5" fill="#f90000"/><ellipse cx="469.0" cy="114.5" rx="2.0" ry="1.5" fill="#00d3ff"/><ellipse cx="401.4" cy="68.4" rx="2.0" ry="1.5" fill="#ff5200"/><ellipse cx="493.1" cy="83.7" rx="2.0" ry="1.5" fill="#08fff7"/><ellipse cx="414.8" cy="23.8" rx="2.0" ry="1.5" fill="#b30000"/><ellipse cx="392.6" cy="68.4" rx="2.0" ry="1.5" fill="#ff3300"/><ellipse cx="509.0" cy="100.4" rx="2.0" ry="1.5" fill="#007aff"/><ellipse cx="333.2" cy="107.9" rx="2.0" ry="1.5" fill="#ff1000"/><ellipse cx="445.9" cy="117.3" rx="2.0" ry="1.5" fill="#17ffe8"/><ellipse cx="483.6" cy="80.4" rx="2.0" ry="1.5" fill="#37ffc8"/><ellipse cx="360.7" cy="113.4" rx="2.0" ry="1.5" fill="#ff9300"/><ellipse cx="354.6" cy="112.5" rx="2.0" ry="1.5" fill="#ff7800"/><ellipse cx="409.3" cy="23.2" rx="2.0" ry="1.5" fill="#a00000"/><ellipse cx="489.5" cy="82.3" rx="2.0" ry="1.5" fill="#16ffe9"/><ellipse cx="503.9" cy="88.9" rx="2.0" ry="1.5" fill="#00beff"/><ellipse cx="436.8" cy="28.3" rx="2.0" ry="1.5" fill="#ff2600"/><ellipse cx="487.3" cy="112.7" rx="2.0" ry="1.5" fill="#0089ff"/><ellipse cx="506.9" cy="105.3" rx="2.0" ry="1.5" fill="#0061ff"/><ellipse cx="478.5" cy="114.7" rx="2.0" ry="1.5" fill="#009eff"/><ellipse cx="469.8" cy="77.0" rx="2.0" ry="1.5" fill="#72ff8d"/><ellipse cx="495.1" cy="110.9" rx="2.0" ry="1.5" fill="#0071ff"/><ellipse cx="442.9" cy="29.9" rx="2.0" ry="1.5" fill="#ff4a00"/><ellipse cx="385.9" cy="117.0" rx="2.0" ry="1.5" fill="#eeff11"/><ellipse cx="511.2" cy="94.1" rx="2.0" ry="1.5" fill="#007fff"/><ellipse cx="454.5" cy="118.0" rx="2.0" ry="1.5" fill="#00e3ff"/><ellipse cx="431.4" cy="71.6" rx="2.0" ry="1.5" fill="#ffe800"/><ellipse cx="512.1" cy="103.0" rx="2.0" ry="1.5" fill="#004eff"/><ellipse cx="388.9" cy="69.8" rx="2.0" ry="1.5" fill="#ff4000"/><ellipse cx="393.0" cy="117.8" rx="2.0" ry="1.5" fill="#cbff34"/><ellipse cx="412.2" cy="119.0" rx="2.0" ry="1.5" fill="#7cff83"/><ellipse cx="404.1" cy="23.3" rx="2.0" ry="1.5" fill="#9e0000"/><ellipse cx="451.8" cy="74.2" rx="2.0" ry="1.5" fill="#b9ff46"/><ellipse cx="337.3" cy="109.3" rx="2.0" ry="1.5" fill="#ff3b00"/><ellipse cx="368.6" cy="69.4" rx="2.0" ry="1.5" fill="#f40000"/><ellipse cx="468.1" cy="77.0" rx="2.0" ry="1.5" fill="#6dff92"/><ellipse cx="513.8" cy="96.3" rx="2.0" ry="1.5" fill="#0064ff"/><ellipse cx="513.7" cy="102.2" rx="2.0" ry="1.5" fill="#0048ff"/><ellipse cx="493.6" cy="83.7" rx="2.0" ry="1.5" fill="#00eaff"/><ellipse cx="419.4" cy="25.6" rx="2.0" ry="1.5" fill="#e80000"/><ellipse cx="513.8" cy="95.1" rx="2.0" ry="1.5" fill="#0064ff"/><ellipse cx="504.6" cy="109.9" rx="2.0" ry="1.5" fill="#0040ff"/><ellipse cx="356.5" cy="69.1" rx="2.0" ry="1.5" fill="#cd0000"/><ellipse cx="437.3" cy="29.0" rx="2.0" ry="1.5" fill="#ff4300"/><ellipse cx="441.6" cy="119.9" rx="2.0" ry="1.5" fill="#00fcff"/><ellipse cx="426.5" cy="26.9" rx="2.0" ry="1.5" fill="#ff1100"/><ellipse cx="515.9" cy="102.5" rx="2.0" ry="1.5" fill="#0035ff"/><ellipse cx="400.2" cy="119.2" rx="2.0" ry="1.5" fill="#9aff65"/><ellipse cx="452.6" cy="75.0" rx="2.0" ry="1.5" fill="#a3ff5c"/><ellipse cx="470.0" cy="118.5" rx="2.0" ry="1.5" fill="#0092ff"/><ellipse cx="514.9" cy="106.0" rx="2.0" ry="1.5" fill="#0021ff"/><ellipse cx="502.8" cy="112.4" rx="2.0" ry="1.5" fill="#0030ff"/><ellipse cx="441.9" cy="30.3" rx="2.0" ry="1.5" fill="#ff6400"/><ellipse cx="449.3" cy="32.1" rx="2.0" ry="1.5" fill="#ff8900"/><ellipse cx="415.6" cy="120.5" rx="2.0" ry="1.5" fill="#52ffad"/><ellipse cx="516.4" cy="95.4" rx="2.0" ry="1.5" fill="#004aff"/><ellipse cx="427.8" cy="120.9" rx="2.0" ry="1.5" fill="#21ffde"/><ellipse cx="369.0" cy="116.3" rx="2.0" ry="1.5" fill="#ffeb00"/><ellipse cx="436.8" cy="73.5" rx="2.0" ry="1.5" fill="#ddff22"/><ellipse cx="410.5" cy="71.9" rx="2.0" ry="1.5" fill="#ffb700"/><ellipse cx="382.3" cy="118.2" rx="2.0" ry="1.5" fill="#d7ff28"/><ellipse cx="415.7" cy="120.8" rx="2.0" ry="1.5" fill="#4bffb4"/><ellipse cx="480.4" cy="118.3" rx="2.0" ry="1.5" fill="#0061ff"/><ellipse cx="511.5" cy="110.1" rx="2.0" ry="1.5" fill="#0012ff"/><ellipse cx="449.7" cy="32.3" rx="2.0" ry="1.5" fill="#ff9200"/><ellipse cx="476.5" cy="79.5" rx="2.0" ry="1.5" fill="#27ffd8"/><ellipse cx="363.9" cy="70.7" rx="2.0" ry="1.5" fill="#ff0400"/><ellipse cx="334.9" cy="67.5" rx="2.0" ry="1.5" fill="#870000"/><ellipse cx="406.0" cy="72.2" rx="2.0" ry="1.5" fill="#ffad00"/><ellipse cx="367.4" cy="71.1" rx="2.0" ry="1.5" fill="#ff1700"/><ellipse cx="333.4" cy="67.4" rx="2.0" ry="1.5" fill="#850000"/><ellipse cx="349.2" cy="112.9" rx="2.0" ry="1.5" fill="#ff9900"/><ellipse cx="343.8" cy="68.9" rx="2.0" ry="1.5" fill="#b50000"/><ellipse cx="452.8" cy="33.2" rx="2.0" ry="1.5" fill="#ffaa00"/><ellipse cx="520.1" cy="97.2" rx="2.0" ry="1.5" fill="#0025ff"/><ellipse cx="454.8" cy="76.2" rx="2.0" ry="1.5" fill="#7fff80"/><ellipse cx="394.7" cy="24.4" rx="2.0" ry="1.5" fill="#a70000"/><ellipse cx="495.1" cy="84.3" rx="2.0" ry="1.5" fill="#00bdff"/><ellipse cx="521.2" cy="98.2" rx="2.0" ry="1.5" fill="#0019ff"/><ellipse cx="522.0" cy="104.1" rx="2.0" ry="1.5" fill="#0000f9"/><ellipse cx="345.4" cy="112.1" rx="2.0" ry="1.5" fill="#ff9000"/><ellipse cx="465.8" cy="78.0" rx="2.0" ry="1.5" fill="#48ffb7"/><ellipse cx="390.6" cy="119.9" rx="2.0" ry="1.5" fill="#9eff61"/><ellipse cx="429.7" cy="74.0" rx="2.0" ry="1.5" fill="#e3ff1c"/><ellipse cx="436.1" cy="122.4" rx="2.0" ry="1.5" fill="#00e4ff"/><ellipse cx="392.5" cy="72.9" rx="2.0" ry="1.5" fill="#ff8a00"/><ellipse cx="506.0" cy="88.0" rx="2.0" ry="1.5" fill="#007eff"/><ellipse cx="498.7" cy="116.7" rx="2.0" ry="1.5" fill="#0012ff"/><ellipse cx="370.1" cy="72.0" rx="2.0" ry="1.5" fill="#ff3200"/><ellipse cx="493.5" cy="117.9" rx="2.0" ry="1.5" fill="#001fff"/><ellipse cx="517.4" cy="110.1" rx="2.0" ry="1.5" fill="#0000e9"/><ellipse cx="450.7" cy="122.5" rx="2.0" ry="1.5" fill="#00a9ff"/><ellipse cx="425.5" cy="28.2" rx="2.0" ry="1.5" fill="#ff3700"/><ellipse cx="439.2" cy="122.8" rx="2.0" ry="1.5" fill="#00d2ff"/><ellipse cx="404.1" cy="25.8" rx="2.0" ry="1.5" fill="#dc0000"/><ellipse cx="347.3" cy="112.7" rx="2.0" ry="1.5" fill="#ffa100"/><ellipse cx="482.0" cy="120.2" rx="2.0" ry="1.5" fill="#003bff"/><ellipse cx="476.3" cy="80.1" rx="2.0" ry="1.5" fill="#0dfff2"/><ellipse cx="506.3" cy="88.1" rx="2.0" ry="1.5" fill="#0073ff"/><ellipse cx="498.8" cy="85.6" rx="2.0" ry="1.5" fill="#009bff"/><ellipse cx="379.7" cy="73.2" rx="2.0" ry="1.5" fill="#ff6600"/><ellipse cx="392.7" cy="120.9" rx="2.0" ry="1.5" fill="#82ff7d"/><ellipse cx="506.0" cy="116.7" rx="2.0" ry="1.5" fill="#0000e7"/><ellipse cx="357.8" cy="115.4" rx="2.0" ry="1.5" fill="#ffdf00"/><ellipse cx="410.8" cy="74.2" rx="2.0" ry="1.5" fill="#ffe500"/><ellipse cx="495.2" cy="119.3" rx="2.0" ry="1.5" fill="#0004ff"/><ellipse cx="489.5" cy="83.2" rx="2.0" ry="1.5" fill="#00c3ff"/><ellipse cx="435.1" cy="123.6" rx="2.0" ry="1.5" fill="#00d1ff"/><ellipse cx="414.6" cy="27.4" rx="2.0" ry="1.5" fill="#ff1900"/><ellipse cx="522.4" cy="110.9" rx="2.0" ry="1.5" fill="#0000bf"/><ellipse cx="362.5" cy="116.6" rx="2.0" ry="1.5" fill="#fffc00"/><ellipse cx="360.7" cy="72.3" rx="2.0" ry="1.5" fill="#ff2500"/><ellipse cx="523.1" cy="110.8" rx="2.0" ry="1.5" fill="#0000bb"/><ellipse cx="456.0" cy="77.6" rx="2.0" ry="1.5" fill="#57ffa8"/><ellipse cx="428.2" cy="75.3" rx="2.0" ry="1.5" fill="#cbff34"/><ellipse cx="524.1" cy="97.0" rx="2.0" ry="1.5" fill="#0000f7"/><ellipse cx="351.6" cy="114.2" rx="2.0" ry="1.5" fill="#ffca00"/><ellipse cx="436.8" cy="75.9" rx="2.0" ry="1.5" fill="#a7ff58"/><ellipse cx="511.5" cy="90.0" rx="2.0" ry="1.5" fill="#0047ff"/><ellipse cx="459.8" cy="35.6" rx="2.0" ry="1.5" fill="#fff200"/><ellipse cx="504.3" cy="118.6" rx="2.0" ry="1.5" fill="#0000d9"/><ellipse cx="497.2" cy="120.1" rx="2.0" ry="1.5" fill="#0000ed"/><ellipse cx="417.2" cy="123.7" rx="2.0" ry="1.5" fill="#09fff6"/><ellipse cx="402.6" cy="75.1" rx="2.0" ry="1.5" fill="#ffd900"/><ellipse cx="440.5" cy="124.6" rx="2.0" ry="1.5" fill="#00aaff"/><ellipse cx="528.8" cy="101.0" rx="2.0" ry="1.5" fill="#0000ca"/><ellipse cx="411.5" cy="75.3" rx="2.0" ry="1.5" fill="#fffe00"/><ellipse cx="452.1" cy="33.9" rx="2.0" ry="1.5" fill="#ffd300"/><ellipse cx="330.9" cy="68.5" rx="2.0" ry="1.5" fill="#ad0000"/><ellipse cx="458.1" cy="78.4" rx="2.0" ry="1.5" fill="#40ffbf"/><ellipse cx="375.2" cy="26.0" rx="2.0" ry="1.5" fill="#8c0000"/><ellipse cx="461.0" cy="36.1" rx="2.0" ry="1.5" fill="#fcff03"/><ellipse cx="446.8" cy="125.0" rx="2.0" ry="1.5" fill="#008bff"/><ellipse cx="367.8" cy="73.8" rx="2.0" ry="1.5" fill="#ff5500"/><ellipse cx="530.7" cy="105.5" rx="2.0" ry="1.5" fill="#0000a9"/><ellipse cx="520.3" cy="93.7" rx="2.0" ry="1.5" fill="#0009ff"/><ellipse cx="346.6" cy="71.3" rx="2.0" ry="1.5" fill="#f90000"/><ellipse cx="511.5" cy="118.1" rx="2.0" ry="1.5" fill="#0000b5"/><ellipse cx="416.8" cy="28.6" rx="2.0" ry="1.5" fill="#ff3b00"/><ellipse cx="354.1" cy="115.1" rx="2.0" ry="1.5" fill="#ffe700"/><ellipse cx="401.0" cy="27.4" rx="2.0" ry="1.5" fill="#f90000"/><ellipse cx="439.9" cy="77.0" rx="2.0" ry="1.5" fill="#86ff79"/><ellipse cx="457.7" cy="125.1" rx="2.0" ry="1.5" fill="#005eff"/><ellipse cx="402.4" cy="123.2" rx="2.0" ry="1.5" fill="#37ffc8"/><ellipse cx="519.0" cy="116.2" rx="2.0" ry="1.5" fill="#00009d"/><ellipse cx="531.0" cy="108.9" rx="2.0" ry="1.5" fill="#000091"/><ellipse cx="532.3" cy="105.9" rx="2.0" ry="1.5" fill="#000099"/><ellipse cx="487.6" cy="83.5" rx="2.0" ry="1.5" fill="#00adff"/><ellipse cx="527.1" cy="97.2" rx="2.0" ry="1.5" fill="#0000d4"/><ellipse cx="371.9" cy="119.2" rx="2.0" ry="1.5" fill="#b8ff47"/><ellipse cx="515.4" cy="91.3" rx="2.0" ry="1.5" fill="#001dff"/><ellipse cx="439.0" cy="31.9" rx="2.0" ry="1.5" fill="#ffa700"/><ellipse cx="470.6" cy="80.7" rx="2.0" ry="1.5" fill="#00f6ff"/><ellipse cx="466.1" cy="125.5" rx="2.0" ry="1.5" fill="#0032ff"/><ellipse cx="364.4" cy="117.8" rx="2.0" ry="1.5" fill="#d7ff28"/><ellipse cx="475.1" cy="81.5" rx="2.0" ry="1.5" fill="#00dfff"/><ellipse cx="465.3" cy="37.5" rx="2.0" ry="1.5" fill="#d4ff2b"/><ellipse cx="384.4" cy="75.9" rx="2.0" ry="1.5" fill="#ffae00"/><ellipse cx="377.0" cy="75.5" rx="2.0" ry="1.5" fill="#ff9200"/><ellipse cx="450.0" cy="34.2" rx="2.0" ry="1.5" fill="#ffe400"/><ellipse cx="461.0" cy="126.2" rx="2.0" ry="1.5" fill="#003cff"/><ellipse cx="357.3" cy="116.2" rx="2.0" ry="1.5" fill="#f3ff0c"/><ellipse cx="475.7" cy="81.8" rx="2.0" ry="1.5" fill="#00d6ff"/><ellipse cx="384.4" cy="27.8" rx="2.0" ry="1.5" fill="#cf0000"/><ellipse cx="400.9" cy="28.5" rx="2.0" ry="1.5" fill="#ff1300"/><ellipse cx="389.8" cy="122.6" rx="2.0" ry="1.5" fill="#58ffa7"/><ellipse cx="368.7" cy="75.0" rx="2.0" ry="1.5" fill="#ff7500"/><ellipse cx="462.7" cy="37.0" rx="2.0" ry="1.5" fill="#d7ff28"/><ellipse cx="466.4" cy="38.0" rx="2.0" ry="1.5" fill="#c4ff3b"/><ellipse cx="315.5" cy="65.3" rx="2.0" ry="1.5" fill="#830000"/><ellipse cx="512.9" cy="90.3" rx="2.0" ry="1.5" fill="#0018ff"/><ellipse cx="362.3" cy="28.5" rx="2.0" ry="1.5" fill="#860000"/><ellipse cx="535.3" cy="102.3" rx="2.0" ry="1.5" fill="#000089"/><ellipse cx="382.4" cy="76.7" rx="2.0" ry="1.5" fill="#ffbb00"/><ellipse cx="330.4" cy="69.4" rx="2.0" ry="1.5" fill="#d30000"/><ellipse cx="482.6" cy="126.1" rx="2.0" ry="1.5" fill="#0000dc"/><ellipse cx="442.7" cy="127.3" rx="2.0" ry="1.5" fill="#006eff"/><ellipse cx="368.7" cy="119.2" rx="2.0" ry="1.5" fill="#adff52"/><ellipse cx="345.5" cy="72.4" rx="2.0" ry="1.5" fill="#ff1c00"/><ellipse cx="412.4" cy="78.0" rx="2.0" ry="1.5" fill="#c9ff36"/><ellipse cx="477.3" cy="82.6" rx="2.0" ry="1.5" fill="#00bbff"/><ellipse cx="485.9" cy="84.0" rx="2.0" ry="1.5" fill="#0094ff"/><ellipse cx="416.9" cy="30.5" rx="2.0" ry="1.5" fill="#ff6800"/><ellipse cx="442.2" cy="79.1" rx="2.0" ry="1.5" fill="#50ffaf"/><ellipse cx="394.6" cy="124.0" rx="2.0" ry="1.5" fill="#2effd1"/><ellipse cx="431.4" cy="127.3" rx="2.0" ry="1.5" fill="#0091ff"/><ellipse cx="366.2" cy="29.3" rx="2.0" ry="1.5" fill="#a50000"/><ellipse cx="322.8" cy="67.6" rx="2.0" ry="1.5" fill="#b70000"/><ellipse cx="494.3" cy="85.8" rx="2.0" ry="1.5" fill="#0067ff"/><ellipse cx="385.9" cy="122.8" rx="2.0" ry="1.5" fill="#50ffaf"/><ellipse cx="401.6" cy="78.5" rx="2.0" ry="1.5" fill="#e6ff19"/><ellipse cx="471.0" cy="39.5" rx="2.0" ry="1.5" fill="#98ff67"/><ellipse cx="452.3" cy="80.2" rx="2.0" ry="1.5" fill="#1effe1"/><ellipse cx="363.4" cy="118.2" rx="2.0" ry="1.5" fill="#baff45"/><ellipse cx="333.9" cy="70.5" rx="2.0" ry="1.5" fill="#f20000"/><ellipse cx="337.0" cy="71.2" rx="2.0" ry="1.5" fill="#ff0300"/><ellipse cx="528.9" cy="96.4" rx="2.0" ry="1.5" fill="#0000ad"/><ellipse cx="412.9" cy="30.8" rx="2.0" ry="1.5" fill="#ff6500"/><ellipse cx="498.4" cy="125.9" rx="2.0" ry="1.5" fill="#000092"/><ellipse cx="459.2" cy="128.4" rx="2.0" ry="1.5" fill="#001bff"/><ellipse cx="395.0" cy="78.5" rx="2.0" ry="1.5" fill="#faff05"/><ellipse cx="493.7" cy="126.6" rx="2.0" ry="1.5" fill="#0000a0"/><ellipse cx="446.7" cy="34.7" rx="2.0" ry="1.5" fill="#fff900"/><ellipse cx="373.2" cy="120.6" rx="2.0" ry="1.5" fill="#84ff7b"/><ellipse cx="479.3" cy="127.9" rx="2.0" ry="1.5" fill="#0000ce"/><ellipse cx="467.1" cy="128.5" rx="2.0" ry="1.5" fill="#0000f9"/><ellipse cx="466.8" cy="38.6" rx="2.0" ry="1.5" fill="#a5ff5a"/><ellipse cx="403.9" cy="30.5" rx="2.0" ry="1.5" fill="#ff4700"/><ellipse cx="523.9" cy="94.1" rx="2.0" ry="1.5" fill="#0000c3"/><ellipse cx="379.1" cy="122.0" rx="2.0" ry="1.5" fill="#63ff9c"/><ellipse cx="415.9" cy="31.4" rx="2.0" ry="1.5" fill="#ff7b00"/><ellipse cx="429.6" cy="79.7" rx="2.0" ry="1.5" fill="#6aff95"/><ellipse cx="517.4" cy="91.9" rx="2.0" ry="1.5" fill="#0000e2"/><ellipse cx="370.4" cy="76.9" rx="2.0" ry="1.5" fill="#ffa900"/><ellipse cx="454.9" cy="129.2" rx="2.0" ry="1.5" fill="#001cff"/><ellipse cx="395.7" cy="30.6" rx="2.0" ry="1.5" fill="#ff2f00"/><ellipse cx="504.1" cy="88.4" rx="2.0" ry="1.5" fill="#0021ff"/><ellipse cx="529.7" cy="96.3" rx="2.0" ry="1.5" fill="#000099"/><ellipse cx="396.0" cy="125.2" rx="2.0" ry="1.5" fill="#0afff5"/><ellipse cx="436.2" cy="33.9" rx="2.0" ry="1.5" fill="#ffde00"/><ellipse cx="319.2" cy="66.6" rx="2.0" ry="1.5" fill="#be0000"/><ellipse cx="368.2" cy="119.8" rx="2.0" ry="1.5" fill="#89ff76"/><ellipse cx="511.1" cy="90.2" rx="2.0" ry="1.5" fill="#0000f6"/><ellipse cx="412.6" cy="32.1" rx="2.0" ry="1.5" fill="#ff8100"/><ellipse cx="447.3" cy="81.4" rx="2.0" ry="1.5" fill="#10ffef"/><ellipse cx="375.3" cy="31.6" rx="2.0" ry="1.5" fill="#f40000"/><ellipse cx="469.3" cy="39.7" rx="2.0" ry="1.5" fill="#7fff80"/><ellipse cx="441.8" cy="129.9" rx="2.0" ry="1.5" fill="#003cff"/><ellipse cx="477.2" cy="41.6" rx="2.0" ry="1.5" fill="#58ffa7"/><ellipse cx="387.6" cy="79.5" rx="2.0" ry="1.5" fill="#f7ff08"/><ellipse cx="364.9" cy="32.3" rx="2.0" ry="1.5" fill="#d30000"/><ellipse cx="523.9" cy="94.1" rx="2.0" ry="1.5" fill="#0000a9"/><ellipse cx="370.3" cy="77.9" rx="2.0" ry="1.5" fill="#ffc200"/><ellipse cx="411.4" cy="127.9" rx="2.0" ry="1.5" fill="#00b3ff"/><ellipse cx="345.5" cy="34.1" rx="2.0" ry="1.5" fill="#950000"/><ellipse cx="399.4" cy="126.3" rx="2.0" ry="1.5" fill="#00e7ff"/><ellipse cx="409.7" cy="81.1" rx="2.0" ry="1.5" fill="#97ff68"/><ellipse cx="440.2" cy="81.7" rx="2.0" ry="1.5" fill="#20ffdf"/><ellipse cx="421.5" cy="33.3" rx="2.0" ry="1.5" fill="#ffb300"/><ellipse cx="370.9" cy="120.8" rx="2.0" ry="1.5" fill="#6cff93"/><ellipse cx="425.9" cy="33.6" rx="2.0" ry="1.5" fill="#ffc500"/><ellipse cx="479.9" cy="130.4" rx="2.0" ry="1.5" fill="#0000a1"/><ellipse cx="451.1" cy="82.3" rx="2.0" ry="1.5" fill="#00f2ff"/><ellipse cx="391.0" cy="80.2" rx="2.0" ry="1.5" fill="#dfff20"/><ellipse cx="404.2" cy="127.2" rx="2.0" ry="1.5" fill="#00ceff"/><ellipse cx="491.7" cy="86.8" rx="2.0" ry="1.5" fill="#0040ff"/><ellipse cx="416.2" cy="81.7" rx="2.0" ry="1.5" fill="#75ff8a"/><ellipse cx="344.3" cy="73.8" rx="2.0" ry="1.5" fill="#ff5500"/><ellipse cx="445.8" cy="131.0" rx="2.0" ry="1.5" fill="#0018ff"/><ellipse cx="357.1" cy="33.9" rx="2.0" ry="1.5" fill="#ca0000"/><ellipse cx="374.8" cy="79.0" rx="2.0" ry="1.5" fill="#ffe300"/><ellipse cx="343.0" cy="35.9" rx="2.0" ry="1.5" fill="#a30000"/><ellipse cx="306.2" cy="58.0" rx="2.0" ry="1.5" fill="#800000"/><ellipse cx="483.1" cy="131.4" rx="2.0" ry="1.5" fill="#000083"/><ellipse cx="488.3" cy="86.8" rx="2.0" ry="1.5" fill="#0040ff"/><ellipse cx="482.5" cy="43.4" rx="2.0" ry="1.5" fill="#23ffdc"/><ellipse cx="416.9" cy="34.1" rx="2.0" ry="1.5" fill="#ffb900"/><ellipse cx="518.6" cy="92.7" rx="2.0" ry="1.5" fill="#0000ad"/><ellipse cx="463.8" cy="84.2" rx="2.0" ry="1.5" fill="#00a5ff"/><ellipse cx="333.0" cy="38.6" rx="2.0" ry="1.5" fill="#920000"/><ellipse cx="461.5" cy="84.1" rx="2.0" ry="1.5" fill="#00adff"/><ellipse cx="354.2" cy="76.3" rx="2.0" ry="1.5" fill="#ff9600"/><ellipse cx="472.1" cy="85.1" rx="2.0" ry="1.5" fill="#0080ff"/><ellipse cx="386.6" cy="124.9" rx="2.0" ry="1.5" fill="#07fff8"/><ellipse cx="385.4" cy="33.9" rx="2.0" ry="1.5" fill="#ff4700"/><ellipse cx="411.9" cy="34.2" rx="2.0" ry="1.5" fill="#ffad00"/><ellipse cx="358.1" cy="35.5" rx="2.0" ry="1.5" fill="#e70000"/><ellipse cx="313.8" cy="63.0" rx="2.0" ry="1.5" fill="#c30000"/><ellipse cx="451.4" cy="132.5" rx="2.0" ry="1.5" fill="#0000e7"/><ellipse cx="320.8" cy="66.8" rx="2.0" ry="1.5" fill="#f00000"/><ellipse cx="393.5" cy="126.5" rx="2.0" ry="1.5" fill="#00dfff"/><ellipse cx="346.1" cy="74.8" rx="2.0" ry="1.5" fill="#ff7700"/><ellipse cx="329.0" cy="70.0" rx="2.0" ry="1.5" fill="#ff2000"/><ellipse cx="378.6" cy="34.3" rx="2.0" ry="1.5" fill="#ff3200"/><ellipse cx="397.4" cy="127.2" rx="2.0" ry="1.5" fill="#00cbff"/><ellipse cx="466.6" cy="40.3" rx="2.0" ry="1.5" fill="#60ff9f"/><ellipse cx="417.5" cy="130.1" rx="2.0" ry="1.5" fill="#0070ff"/><ellipse cx="308.3" cy="52.8" rx="2.0" ry="1.5" fill="#820000"/><ellipse cx="428.8" cy="35.6" rx="2.0" ry="1.5" fill="#fff900"/><ellipse cx="334.4" cy="71.8" rx="2.0" ry="1.5" fill="#ff4100"/><ellipse cx="377.5" cy="123.0" rx="2.0" ry="1.5" fill="#28ffd7"/><ellipse cx="377.7" cy="123.1" rx="2.0" ry="1.5" fill="#27ffd8"/><ellipse cx="323.7" cy="67.9" rx="2.0" ry="1.5" fill="#ff0600"/><ellipse cx="368.1" cy="35.3" rx="2.0" ry="1.5" fill="#ff1400"/><ellipse cx="491.7" cy="88.0" rx="2.0" ry="1.5" fill="#001cff"/><ellipse cx="474.5" cy="41.9" rx="2.0" ry="1.5" fill="#37ffc8"/><ellipse cx="508.7" cy="90.9" rx="2.0" ry="1.5" fill="#0000cd"/><ellipse cx="498.3" cy="89.0" rx="2.0" ry="1.5" fill="#0000fd"/><ellipse cx="311.7" cy="60.4" rx="2.0" ry="1.5" fill="#b80000"/><ellipse cx="317.4" cy="64.7" rx="2.0" ry="1.5" fill="#e20000"/><ellipse cx="486.3" cy="44.7" rx="2.0" ry="1.5" fill="#00faff"/><ellipse cx="337.5" cy="39.6" rx="2.0" ry="1.5" fill="#b90000"/><ellipse cx="407.7" cy="129.2" rx="2.0" ry="1.5" fill="#0092ff"/><ellipse cx="412.7" cy="83.7" rx="2.0" ry="1.5" fill="#57ffa8"/><ellipse cx="341.4" cy="73.8" rx="2.0" ry="1.5" fill="#ff6d00"/><ellipse cx="475.2" cy="86.4" rx="2.0" ry="1.5" fill="#005aff"/><ellipse cx="458.8" cy="39.4" rx="2.0" ry="1.5" fill="#77ff88"/><ellipse cx="311.5" cy="59.0" rx="2.0" ry="1.5" fill="#b70000"/><ellipse cx="432.8" cy="36.5" rx="2.0" ry="1.5" fill="#e5ff1a"/><ellipse cx="338.0" cy="40.5" rx="2.0" ry="1.5" fill="#c70000"/><ellipse cx="448.7" cy="85.0" rx="2.0" ry="1.5" fill="#00c0ff"/><ellipse cx="321.3" cy="45.6" rx="2.0" ry="1.5" fill="#a00000"/><ellipse cx="386.2" cy="35.5" rx="2.0" ry="1.5" fill="#ff6700"/><ellipse cx="317.5" cy="47.8" rx="2.0" ry="1.5" fill="#9d0000"/><ellipse cx="459.6" cy="134.0" rx="2.0" ry="1.5" fill="#0000ad"/><ellipse cx="488.2" cy="45.4" rx="2.0" ry="1.5" fill="#00e5ff"/><ellipse cx="389.2" cy="82.4" rx="2.0" ry="1.5" fill="#acff53"/><ellipse cx="440.8" cy="37.5" rx="2.0" ry="1.5" fill="#bdff42"/><ellipse cx="419.1" cy="131.1" rx="2.0" ry="1.5" fill="#0054ff"/><ellipse cx="417.5" cy="35.9" rx="2.0" ry="1.5" fill="#ffe200"/><ellipse cx="390.2" cy="35.6" rx="2.0" ry="1.5" fill="#ff7900"/><ellipse cx="407.0" cy="129.6" rx="2.0" ry="1.5" fill="#0085ff"/><ellipse cx="363.1" cy="78.9" rx="2.0" ry="1.5" fill="#ffe300"/><ellipse cx="436.1" cy="133.1" rx="2.0" ry="1.5" fill="#0006ff"/><ellipse cx="430.1" cy="132.6" rx="2.0" ry="1.5" fill="#001fff"/><ellipse cx="446.2" cy="38.3" rx="2.0" ry="1.5" fill="#a1ff5e"/><ellipse cx="350.5" cy="76.4" rx="2.0" ry="1.5" fill="#ffa800"/><ellipse cx="473.7" cy="42.3" rx="2.0" ry="1.5" fill="#25ffda"/><ellipse cx="381.3" cy="124.4" rx="2.0" ry="1.5" fill="#00fdff"/><ellipse cx="462.2" cy="134.8" rx="2.0" ry="1.5" fill="#000095"/><ellipse cx="450.3" cy="134.4" rx="2.0" ry="1.5" fill="#0000c3"/><ellipse cx="516.2" cy="93.1" rx="2.0" ry="1.5" fill="#00008d"/><ellipse cx="355.2" cy="77.6" rx="2.0" ry="1.5" fill="#ffc700"/><ellipse cx="320.3" cy="65.0" rx="2.0" ry="1.5" fill="#ff0800"/><ellipse cx="362.1" cy="38.3" rx="2.0" ry="1.5" fill="#ff2900"/><ellipse cx="413.3" cy="85.1" rx="2.0" ry="1.5" fill="#37ffc8"/><ellipse cx="315.1" cy="54.2" rx="2.0" ry="1.5" fill="#c20000"/><ellipse cx="492.7" cy="46.9" rx="2.0" ry="1.5" fill="#00b9ff"/><ellipse cx="473.8" cy="42.8" rx="2.0" ry="1.5" fill="#13ffec"/><ellipse cx="376.1" cy="81.8" rx="2.0" ry="1.5" fill="#cbff34"/><ellipse cx="323.8" cy="48.7" rx="2.0" ry="1.5" fill="#d10000"/><ellipse cx="324.0" cy="66.7" rx="2.0" ry="1.5" fill="#ff2800"/><ellipse cx="492.6" cy="89.7" rx="2.0" ry="1.5" fill="#0000ea"/><ellipse cx="352.5" cy="40.7" rx="2.0" ry="1.5" fill="#ff1a00"/><ellipse cx="461.2" cy="41.1" rx="2.0" ry="1.5" fill="#45ffba"/><ellipse cx="318.1" cy="60.7" rx="2.0" ry="1.5" fill="#f80000"/><ellipse cx="386.0" cy="126.0" rx="2.0" ry="1.5" fill="#00cdff"/><ellipse cx="332.0" cy="46.0" rx="2.0" ry="1.5" fill="#e80000"/><ellipse cx="431.9" cy="86.8" rx="2.0" ry="1.5" fill="#00d8ff"/><ellipse cx="339.6" cy="44.1" rx="2.0" ry="1.5" fill="#ff0000"/><ellipse cx="465.6" cy="42.0" rx="2.0" ry="1.5" fill="#2affd5"/><ellipse cx="448.0" cy="87.3" rx="2.0" ry="1.5" fill="#0095ff"/><ellipse cx="397.3" cy="85.0" rx="2.0" ry="1.5" fill="#60ff9f"/><ellipse cx="388.0" cy="38.2" rx="2.0" ry="1.5" fill="#ff9f00"/><ellipse cx="321.8" cy="52.5" rx="2.0" ry="1.5" fill="#e70000"/><ellipse cx="420.1" cy="38.2" rx="2.0" ry="1.5" fill="#e6ff19"/><ellipse cx="412.4" cy="38.1" rx="2.0" ry="1.5" fill="#fffd00"/><ellipse cx="338.5" cy="73.2" rx="2.0" ry="1.5" fill="#ff8d00"/><ellipse cx="486.8" cy="45.9" rx="2.0" ry="1.5" fill="#00c0ff"/><ellipse cx="479.3" cy="44.4" rx="2.0" ry="1.5" fill="#00e3ff"/><ellipse cx="438.8" cy="39.4" rx="2.0" ry="1.5" fill="#95ff6a"/><ellipse cx="393.9" cy="128.2" rx="2.0" ry="1.5" fill="#0099ff"/><ellipse cx="413.1" cy="86.7" rx="2.0" ry="1.5" fill="#15ffea"/><ellipse cx="384.7" cy="83.8" rx="2.0" ry="1.5" fill="#8eff71"/><ellipse cx="417.9" cy="87.0" rx="2.0" ry="1.5" fill="#01fffe"/><ellipse cx="467.8" cy="88.5" rx="2.0" ry="1.5" fill="#003cff"/><ellipse cx="498.7" cy="91.4" rx="2.0" ry="1.5" fill="#0000b8"/><ellipse cx="363.1" cy="80.1" rx="2.0" ry="1.5" fill="#efff10"/><ellipse cx="477.2" cy="89.2" rx="2.0" ry="1.5" fill="#0013ff"/><ellipse cx="343.1" cy="74.8" rx="2.0" ry="1.5" fill="#ffac00"/><ellipse cx="412.5" cy="132.0" rx="2.0" ry="1.5" fill="#003cff"/><ellipse cx="432.4" cy="134.8" rx="2.0" ry="1.5" fill="#0000e1"/><ellipse cx="331.6" cy="70.0" rx="2.0" ry="1.5" fill="#ff6c00"/><ellipse cx="448.7" cy="40.7" rx="2.0" ry="1.5" fill="#62ff9d"/><ellipse cx="399.3" cy="129.6" rx="2.0" ry="1.5" fill="#0076ff"/><ellipse cx="346.5" cy="44.5" rx="2.0" ry="1.5" fill="#ff2e00"/><ellipse cx="326.7" cy="52.0" rx="2.0" ry="1.5" fill="#ff0600"/><ellipse cx="473.6" cy="89.3" rx="2.0" ry="1.5" fill="#001aff"/><ellipse cx="468.9" cy="43.2" rx="2.0" ry="1.5" fill="#07fff8"/><ellipse cx="472.4" cy="89.3" rx="2.0" ry="1.5" fill="#001eff"/><ellipse cx="499.4" cy="49.1" rx="2.0" ry="1.5" fill="#0076ff"/><ellipse cx="508.4" cy="93.0" rx="2.0" ry="1.5" fill="#000083"/><ellipse cx="415.3" cy="132.7" rx="2.0" ry="1.5" fill="#0027ff"/><ellipse cx="432.1" cy="135.1" rx="2.0" ry="1.5" fill="#0000db"/><ellipse cx="391.5" cy="127.8" rx="2.0" ry="1.5" fill="#0097ff"/><ellipse cx="323.6" cy="56.4" rx="2.0" ry="1.5" fill="#ff1400"/><ellipse cx="326.0" cy="65.5" rx="2.0" ry="1.5" fill="#ff4a00"/><ellipse cx="323.3" cy="60.8" rx="2.0" ry="1.5" fill="#ff2a00"/><ellipse cx="489.6" cy="91.0" rx="2.0" ry="1.5" fill="#0000cd"/><ellipse cx="346.2" cy="75.9" rx="2.0" ry="1.5" fill="#ffcb00"/><ellipse cx="391.0" cy="40.1" rx="2.0" ry="1.5" fill="#ffcc00"/><ellipse cx="501.5" cy="49.9" rx="2.0" ry="1.5" fill="#005fff"/><ellipse cx="354.1" cy="44.4" rx="2.0" ry="1.5" fill="#ff5800"/><ellipse cx="489.9" cy="47.2" rx="2.0" ry="1.5" fill="#0097ff"/><ellipse cx="398.3" cy="86.5" rx="2.0" ry="1.5" fill="#38ffc7"/><ellipse cx="450.3" cy="89.3" rx="2.0" ry="1.5" fill="#0065ff"/><ellipse cx="360.0" cy="79.9" rx="2.0" ry="1.5" fill="#e6ff19"/><ellipse cx="328.7" cy="54.2" rx="2.0" ry="1.5" fill="#ff2a00"/><ellipse cx="431.2" cy="89.1" rx="2.0" ry="1.5" fill="#00abff"/><ellipse cx="421.5" cy="88.7" rx="2.0" ry="1.5" fill="#00d2ff"/><ellipse cx="445.4" cy="137.2" rx="2.0" ry="1.5" fill="#000090"/><ellipse cx="416.7" cy="40.4" rx="2.0" ry="1.5" fill="#c5ff3a"/><ellipse cx="391.4" cy="41.1" rx="2.0" ry="1.5" fill="#ffde00"/><ellipse cx="327.1" cy="58.6" rx="2.0" ry="1.5" fill="#ff3f00"/><ellipse cx="435.6" cy="89.8" rx="2.0" ry="1.5" fill="#0090ff"/><ellipse cx="356.8" cy="45.2" rx="2.0" ry="1.5" fill="#ff7100"/><ellipse cx="395.6" cy="129.2" rx="2.0" ry="1.5" fill="#006cff"/><ellipse cx="410.1" cy="40.7" rx="2.0" ry="1.5" fill="#d8ff27"/><ellipse cx="329.1" cy="56.3" rx="2.0" ry="1.5" fill="#ff3e00"/><ellipse cx="339.6" cy="50.1" rx="2.0" ry="1.5" fill="#ff4800"/><ellipse cx="439.2" cy="41.5" rx="2.0" ry="1.5" fill="#66ff99"/><ellipse cx="374.5" cy="42.7" rx="2.0" ry="1.5" fill="#ffaa00"/><ellipse cx="378.9" cy="42.4" rx="2.0" ry="1.5" fill="#ffbb00"/><ellipse cx="489.9" cy="47.7" rx="2.0" ry="1.5" fill="#0085ff"/><ellipse cx="350.2" cy="47.2" rx="2.0" ry="1.5" fill="#ff6600"/><ellipse cx="363.4" cy="44.6" rx="2.0" ry="1.5" fill="#ff8b00"/><ellipse cx="396.9" cy="87.1" rx="2.0" ry="1.5" fill="#28ffd7"/><ellipse cx="331.5" cy="66.9" rx="2.0" ry="1.5" fill="#ff8300"/><ellipse cx="435.8" cy="137.0" rx="2.0" ry="1.5" fill="#0000a3"/><ellipse cx="344.5" cy="75.0" rx="2.0" ry="1.5" fill="#ffdc00"/><ellipse cx="329.6" cy="62.3" rx="2.0" ry="1.5" fill="#ff6800"/><ellipse cx="396.3" cy="42.1" rx="2.0" ry="1.5" fill="#f8ff07"/><ellipse cx="364.1" cy="81.3" rx="2.0" ry="1.5" fill="#b8ff47"/><ellipse cx="332.1" cy="57.6" rx="2.0" ry="1.5" fill="#ff5e00"/><ellipse cx="337.7" cy="71.3" rx="2.0" ry="1.5" fill="#ffb500"/><ellipse cx="437.9" cy="91.1" rx="2.0" ry="1.5" fill="#006eff"/><ellipse cx="400.1" cy="130.7" rx="2.0" ry="1.5" fill="#0042ff"/><ellipse cx="416.4" cy="89.8" rx="2.0" ry="1.5" fill="#00c5ff"/><ellipse cx="467.2" cy="91.8" rx="2.0" ry="1.5" fill="#0000f8"/><ellipse cx="369.3" cy="82.8" rx="2.0" ry="1.5" fill="#96ff69"/><ellipse cx="508.5" cy="52.3" rx="2.0" ry="1.5" fill="#0017ff"/><ellipse cx="359.7" cy="80.3" rx="2.0" ry="1.5" fill="#c5ff3a"/><ellipse cx="421.0" cy="135.4" rx="2.0" ry="1.5" fill="#0000d6"/><ellipse cx="373.9" cy="83.9" rx="2.0" ry="1.5" fill="#7dff82"/><ellipse cx="338.4" cy="71.2" rx="2.0" ry="1.5" fill="#ffc000"/><ellipse cx="442.6" cy="43.2" rx="2.0" ry="1.5" fill="#37ffc8"/><ellipse cx="403.5" cy="42.9" rx="2.0" ry="1.5" fill="#ccff33"/><ellipse cx="423.2" cy="42.7" rx="2.0" ry="1.5" fill="#81ff7e"/><ellipse cx="411.9" cy="42.9" rx="2.0" ry="1.5" fill="#a9ff56"/><ellipse cx="334.7" cy="67.0" rx="2.0" ry="1.5" fill="#ffa300"/><ellipse cx="409.2" cy="133.2" rx="2.0" ry="1.5" fill="#0007ff"/><ellipse cx="402.2" cy="131.5" rx="2.0" ry="1.5" fill="#0029ff"/><ellipse cx="478.6" cy="46.8" rx="2.0" ry="1.5" fill="#0099ff"/><ellipse cx="417.3" cy="134.9" rx="2.0" ry="1.5" fill="#0000de"/><ellipse cx="451.1" cy="92.3" rx="2.0" ry="1.5" fill="#0028ff"/><ellipse cx="349.4" cy="51.2" rx="2.0" ry="1.5" fill="#ff9300"/><ellipse cx="356.8" cy="49.2" rx="2.0" ry="1.5" fill="#ffa600"/><ellipse cx="459.0" cy="44.8" rx="2.0" ry="1.5" fill="#00eaff"/><ellipse cx="348.3" cy="76.2" rx="2.0" ry="1.5" fill="#f8ff07"/><ellipse cx="512.0" cy="53.4" rx="2.0" ry="1.5" fill="#0000f7"/><ellipse cx="342.0" cy="54.6" rx="2.0" ry="1.5" fill="#ff8900"/><ellipse cx="506.9" cy="52.1" rx="2.0" ry="1.5" fill="#0011ff"/><ellipse cx="334.5" cy="62.8" rx="2.0" ry="1.5" fill="#ff9400"/><ellipse cx="346.0" cy="75.1" rx="2.0" ry="1.5" fill="#fffa00"/><ellipse cx="418.2" cy="43.3" rx="2.0" ry="1.5" fill="#8aff75"/><ellipse cx="490.5" cy="48.9" rx="2.0" ry="1.5" fill="#005dff"/><ellipse cx="375.5" cy="84.6" rx="2.0" ry="1.5" fill="#65ff9a"/><ellipse cx="350.0" cy="76.8" rx="2.0" ry="1.5" fill="#e7ff18"/><ellipse cx="429.5" cy="137.4" rx="2.0" ry="1.5" fill="#00009a"/><ellipse cx="437.4" cy="92.6" rx="2.0" ry="1.5" fill="#0050ff"/><ellipse cx="337.7" cy="68.2" rx="2.0" ry="1.5" fill="#ffc300"/><ellipse cx="344.6" cy="55.1" rx="2.0" ry="1.5" fill="#ff9f00"/><ellipse cx="480.0" cy="93.9" rx="2.0" ry="1.5" fill="#0000a4"/><ellipse cx="397.0" cy="88.8" rx="2.0" ry="1.5" fill="#00f6ff"/><ellipse cx="422.4" cy="91.8" rx="2.0" ry="1.5" fill="#0088ff"/><ellipse cx="498.2" cy="50.6" rx="2.0" ry="1.5" fill="#002cff"/><ellipse cx="367.9" cy="48.5" rx="2.0" ry="1.5" fill="#ffdc00"/><ellipse cx="479.2" cy="47.7" rx="2.0" ry="1.5" fill="#007fff"/><ellipse cx="449.6" cy="45.0" rx="2.0" ry="1.5" fill="#00fcff"/><ellipse cx="460.2" cy="45.7" rx="2.0" ry="1.5" fill="#00d0ff"/><ellipse cx="364.4" cy="81.9" rx="2.0" ry="1.5" fill="#90ff6f"/><ellipse cx="406.3" cy="132.9" rx="2.0" ry="1.5" fill="#0000fe"/><ellipse cx="484.9" cy="94.4" rx="2.0" ry="1.5" fill="#00008b"/><ellipse cx="355.9" cy="51.6" rx="2.0" ry="1.5" fill="#ffbf00"/><ellipse cx="484.5" cy="48.6" rx="2.0" ry="1.5" fill="#0064ff"/><ellipse cx="341.1" cy="70.6" rx="2.0" ry="1.5" fill="#ffe300"/><ellipse cx="377.3" cy="47.5" rx="2.0" ry="1.5" fill="#ffff00"/><ellipse cx="383.9" cy="46.9" rx="2.0" ry="1.5" fill="#e6ff19"/><ellipse cx="401.8" cy="89.9" rx="2.0" ry="1.5" fill="#00d6ff"/><ellipse cx="492.3" cy="49.9" rx="2.0" ry="1.5" fill="#003dff"/><ellipse cx="392.0" cy="46.1" rx="2.0" ry="1.5" fill="#caff35"/><ellipse cx="514.3" cy="54.4" rx="2.0" ry="1.5" fill="#0000d0"/><ellipse cx="380.7" cy="86.3" rx="2.0" ry="1.5" fill="#33ffcc"/><ellipse cx="446.1" cy="94.1" rx="2.0" ry="1.5" fill="#0016ff"/><ellipse cx="463.7" cy="94.6" rx="2.0" ry="1.5" fill="#0000ce"/><ellipse cx="430.3" cy="93.4" rx="2.0" ry="1.5" fill="#0052ff"/><ellipse cx="362.7" cy="51.7" rx="2.0" ry="1.5" fill="#ffe800"/><ellipse cx="518.7" cy="55.7" rx="2.0" ry="1.5" fill="#0000b3"/><ellipse cx="350.5" cy="76.3" rx="2.0" ry="1.5" fill="#ceff31"/><ellipse cx="380.6" cy="86.5" rx="2.0" ry="1.5" fill="#2affd5"/><ellipse cx="343.7" cy="61.3" rx="2.0" ry="1.5" fill="#ffd300"/><ellipse cx="342.6" cy="63.3" rx="2.0" ry="1.5" fill="#ffd900"/><ellipse cx="419.9" cy="136.7" rx="2.0" ry="1.5" fill="#0000a2"/><ellipse cx="454.7" cy="95.2" rx="2.0" ry="1.5" fill="#0000e1"/><ellipse cx="343.8" cy="69.9" rx="2.0" ry="1.5" fill="#feff01"/><ellipse cx="350.8" cy="57.3" rx="2.0" ry="1.5" fill="#ffdf00"/><ellipse cx="419.7" cy="93.0" rx="2.0" ry="1.5" fill="#0070ff"/><ellipse cx="385.0" cy="87.6" rx="2.0" ry="1.5" fill="#0cfff3"/><ellipse cx="503.9" cy="52.7" rx="2.0" ry="1.5" fill="#0000ed"/><ellipse cx="413.1" cy="135.1" rx="2.0" ry="1.5" fill="#0000bd"/><ellipse cx="459.9" cy="95.8" rx="2.0" ry="1.5" fill="#0000c4"/><ellipse cx="405.1" cy="91.4" rx="2.0" ry="1.5" fill="#00a9ff"/><ellipse cx="521.8" cy="56.7" rx="2.0" ry="1.5" fill="#000093"/><ellipse cx="454.3" cy="47.2" rx="2.0" ry="1.5" fill="#00beff"/><ellipse cx="431.6" cy="46.6" rx="2.0" ry="1.5" fill="#18ffe7"/><ellipse cx="358.6" cy="55.3" rx="2.0" ry="1.5" fill="#fffc00"/><ellipse cx="429.8" cy="94.5" rx="2.0" ry="1.5" fill="#0039ff"/><ellipse cx="348.3" cy="61.2" rx="2.0" ry="1.5" fill="#fff400"/><ellipse cx="412.6" cy="47.4" rx="2.0" ry="1.5" fill="#57ffa8"/><ellipse cx="372.6" cy="52.1" rx="2.0" ry="1.5" fill="#d7ff28"/><ellipse cx="371.5" cy="84.4" rx="2.0" ry="1.5" fill="#42ffbd"/><ellipse cx="359.0" cy="79.7" rx="2.0" ry="1.5" fill="#85ff7a"/><ellipse cx="495.1" cy="51.7" rx="2.0" ry="1.5" fill="#0005ff"/><ellipse cx="520.9" cy="56.7" rx="2.0" ry="1.5" fill="#00008b"/><ellipse cx="373.8" cy="85.1" rx="2.0" ry="1.5" fill="#31ffce"/><ellipse cx="416.0" cy="136.2" rx="2.0" ry="1.5" fill="#00009d"/><ellipse cx="364.2" cy="81.8" rx="2.0" ry="1.5" fill="#63ff9c"/><ellipse cx="350.0" cy="73.4" rx="2.0" ry="1.5" fill="#bfff40"/><ellipse cx="439.3" cy="47.8" rx="2.0" ry="1.5" fill="#00e4ff"/><ellipse cx="388.0" cy="50.7" rx="2.0" ry="1.5" fill="#98ff67"/><ellipse cx="452.5" cy="48.3" rx="2.0" ry="1.5" fill="#00aeff"/><ellipse cx="486.4" cy="51.0" rx="2.0" ry="1.5" fill="#0020ff"/><ellipse cx="426.6" cy="48.0" rx="2.0" ry="1.5" fill="#11ffee"/><ellipse cx="349.1" cy="66.4" rx="2.0" ry="1.5" fill="#ddff22"/><ellipse cx="357.1" cy="59.2" rx="2.0" ry="1.5" fill="#e0ff1f"/><ellipse cx="388.5" cy="89.1" rx="2.0" ry="1.5" fill="#00dbff"/><ellipse cx="352.4" cy="74.6" rx="2.0" ry="1.5" fill="#a8ff57"/><ellipse cx="419.1" cy="48.6" rx="2.0" ry="1.5" fill="#26ffd9"/><ellipse cx="381.6" cy="87.5" rx="2.0" ry="1.5" fill="#00f8ff"/><ellipse cx="476.0" cy="50.3" rx="2.0" ry="1.5" fill="#0042ff"/><ellipse cx="350.1" cy="68.3" rx="2.0" ry="1.5" fill="#caff35"/><ellipse cx="406.1" cy="49.7" rx="2.0" ry="1.5" fill="#4effb1"/><ellipse cx="352.0" cy="73.1" rx="2.0" ry="1.5" fill="#aaff55"/><ellipse cx="441.0" cy="97.0" rx="2.0" ry="1.5" fill="#0000e4"/><ellipse cx="469.8" cy="50.1" rx="2.0" ry="1.5" fill="#0055ff"/><ellipse cx="362.4" cy="58.8" rx="2.0" ry="1.5" fill="#c2ff3d"/><ellipse cx="356.0" cy="62.3" rx="2.0" ry="1.5" fill="#caff35"/><ellipse cx="505.5" cy="54.4" rx="2.0" ry="1.5" fill="#0000b5"/><ellipse cx="392.7" cy="90.5" rx="2.0" ry="1.5" fill="#00b1ff"/><ellipse cx="427.1" cy="96.1" rx="2.0" ry="1.5" fill="#0015ff"/><ellipse cx="361.6" cy="79.8" rx="2.0" ry="1.5" fill="#5affa5"/><ellipse cx="357.9" cy="77.4" rx="2.0" ry="1.5" fill="#73ff8c"/><ellipse cx="386.8" cy="53.4" rx="2.0" ry="1.5" fill="#77ff88"/><ellipse cx="462.9" cy="50.2" rx="2.0" ry="1.5" fill="#0066ff"/><ellipse cx="400.3" cy="51.7" rx="2.0" ry="1.5" fill="#4bffb4"/><ellipse cx="494.0" cy="53.1" rx="2.0" ry="1.5" fill="#0000df"/><ellipse cx="447.1" cy="98.2" rx="2.0" ry="1.5" fill="#0000b9"/><ellipse cx="398.2" cy="91.8" rx="2.0" ry="1.5" fill="#0091ff"/><ellipse cx="388.1" cy="89.6" rx="2.0" ry="1.5" fill="#00beff"/><ellipse cx="363.4" cy="80.4" rx="2.0" ry="1.5" fill="#47ffb8"/><ellipse cx="428.9" cy="50.4" rx="2.0" ry="1.5" fill="#00dcff"/><ellipse cx="366.6" cy="60.1" rx="2.0" ry="1.5" fill="#99ff66"/><ellipse cx="357.3" cy="66.3" rx="2.0" ry="1.5" fill="#9eff61"/><ellipse cx="455.7" cy="99.3" rx="2.0" ry="1.5" fill="#00008a"/><ellipse cx="386.2" cy="55.3" rx="2.0" ry="1.5" fill="#60ff9f"/><ellipse cx="356.7" cy="72.4" rx="2.0" ry="1.5" fill="#7fff80"/><ellipse cx="431.1" cy="51.3" rx="2.0" ry="1.5" fill="#00c3ff"/><ellipse cx="450.3" cy="51.2" rx="2.0" ry="1.5" fill="#007aff"/><ellipse cx="434.3" cy="51.4" rx="2.0" ry="1.5" fill="#00b5ff"/><ellipse cx="408.3" cy="52.9" rx="2.0" ry="1.5" fill="#10ffef"/><ellipse cx="378.4" cy="58.1" rx="2.0" ry="1.5" fill="#69ff96"/><ellipse cx="476.0" cy="52.4" rx="2.0" ry="1.5" fill="#0012ff"/><ellipse cx="363.7" cy="64.0" rx="2.0" ry="1.5" fill="#84ff7b"/><ellipse cx="379.6" cy="87.2" rx="2.0" ry="1.5" fill="#00d8ff"/><ellipse cx="404.0" cy="93.6" rx="2.0" ry="1.5" fill="#005dff"/><ellipse cx="370.8" cy="61.2" rx="2.0" ry="1.5" fill="#72ff8d"/><ellipse cx="389.2" cy="90.2" rx="2.0" ry="1.5" fill="#00a2ff"/><ellipse cx="444.1" cy="99.5" rx="2.0" ry="1.5" fill="#0000a3"/><ellipse cx="369.4" cy="82.7" rx="2.0" ry="1.5" fill="#0dfff2"/><ellipse cx="386.5" cy="57.5" rx="2.0" ry="1.5" fill="#41ffbe"/><ellipse cx="364.6" cy="79.2" rx="2.0" ry="1.5" fill="#2dffd2"/><ellipse cx="362.6" cy="67.8" rx="2.0" ry="1.5" fill="#6aff95"/><ellipse cx="493.4" cy="54.6" rx="2.0" ry="1.5" fill="#0000b8"/><ellipse cx="505.2" cy="56.1" rx="2.0" ry="1.5" fill="#000082"/><ellipse cx="398.5" cy="55.9" rx="2.0" ry="1.5" fill="#16ffe9"/><ellipse cx="362.1" cy="71.5" rx="2.0" ry="1.5" fill="#55ffaa"/><ellipse cx="410.3" cy="95.4" rx="2.0" ry="1.5" fill="#002cff"/><ellipse cx="486.8" cy="54.4" rx="2.0" ry="1.5" fill="#0000c9"/><ellipse cx="459.5" cy="53.0" rx="2.0" ry="1.5" fill="#0036ff"/><ellipse cx="363.6" cy="75.5" rx="2.0" ry="1.5" fill="#36ffc9"/><ellipse cx="399.6" cy="93.3" rx="2.0" ry="1.5" fill="#0054ff"/><ellipse cx="372.5" cy="64.8" rx="2.0" ry="1.5" fill="#41ffbe"/><ellipse cx="370.8" cy="82.3" rx="2.0" ry="1.5" fill="#00f3ff"/><ellipse cx="431.8" cy="53.9" rx="2.0" ry="1.5" fill="#0093ff"/><ellipse cx="390.2" cy="59.2" rx="2.0" ry="1.5" fill="#16ffe9"/><ellipse cx="441.4" cy="100.5" rx="2.0" ry="1.5" fill="#00008f"/><ellipse cx="424.4" cy="98.3" rx="2.0" ry="1.5" fill="#0000d9"/><ellipse cx="390.5" cy="59.5" rx="2.0" ry="1.5" fill="#10ffef"/><ellipse cx="472.8" cy="54.4" rx="2.0" ry="1.5" fill="#0000ef"/><ellipse cx="378.8" cy="86.5" rx="2.0" ry="1.5" fill="#00baff"/><ellipse cx="366.1" cy="74.9" rx="2.0" ry="1.5" fill="#22ffdd"/><ellipse cx="438.1" cy="54.3" rx="2.0" ry="1.5" fill="#0071ff"/><ellipse cx="378.7" cy="86.3" rx="2.0" ry="1.5" fill="#00b8ff"/><ellipse cx="389.6" cy="90.6" rx="2.0" ry="1.5" fill="#0079ff"/><ellipse cx="403.4" cy="57.9" rx="2.0" ry="1.5" fill="#00ddff"/><ellipse cx="376.7" cy="65.5" rx="2.0" ry="1.5" fill="#1dffe2"/><ellipse cx="368.9" cy="74.3" rx="2.0" ry="1.5" fill="#0dfff2"/><ellipse cx="406.6" cy="95.5" rx="2.0" ry="1.5" fill="#0017ff"/><ellipse cx="474.5" cy="55.6" rx="2.0" ry="1.5" fill="#0000d1"/><ellipse cx="395.3" cy="60.9" rx="2.0" ry="1.5" fill="#00e2ff"/><ellipse cx="380.1" cy="66.3" rx="2.0" ry="1.5" fill="#00feff"/><ellipse cx="441.9" cy="55.9" rx="2.0" ry="1.5" fill="#0045ff"/><ellipse cx="486.4" cy="56.6" rx="2.0" ry="1.5" fill="#000098"/><ellipse cx="371.4" cy="77.0" rx="2.0" ry="1.5" fill="#00e9ff"/><ellipse cx="415.7" cy="97.8" rx="2.0" ry="1.5" fill="#0000dd"/><ellipse cx="403.7" cy="95.0" rx="2.0" ry="1.5" fill="#0018ff"/><ellipse cx="387.5" cy="89.7" rx="2.0" ry="1.5" fill="#006eff"/><ellipse cx="429.0" cy="100.4" rx="2.0" ry="1.5" fill="#00009a"/><ellipse cx="402.9" cy="60.9" rx="2.0" ry="1.5" fill="#00b7ff"/><ellipse cx="414.7" cy="97.8" rx="2.0" ry="1.5" fill="#0000db"/><ellipse cx="379.3" cy="85.0" rx="2.0" ry="1.5" fill="#009bff"/><ellipse cx="426.7" cy="58.0" rx="2.0" ry="1.5" fill="#0067ff"/><ellipse cx="407.5" cy="60.6" rx="2.0" ry="1.5" fill="#00a1ff"/><ellipse cx="391.9" cy="91.3" rx="2.0" ry="1.5" fill="#004bff"/><ellipse cx="381.4" cy="86.2" rx="2.0" ry="1.5" fill="#008aff"/><ellipse cx="376.0" cy="73.0" rx="2.0" ry="1.5" fill="#00dcff"/><ellipse cx="397.0" cy="93.2" rx="2.0" ry="1.5" fill="#002bff"/><ellipse cx="375.2" cy="77.6" rx="2.0" ry="1.5" fill="#00c5ff"/><ellipse cx="409.4" cy="61.0" rx="2.0" ry="1.5" fill="#0091ff"/><ellipse cx="445.6" cy="57.5" rx="2.0" ry="1.5" fill="#0019ff"/><ellipse cx="379.8" cy="71.5" rx="2.0" ry="1.5" fill="#00cdff"/><ellipse cx="393.3" cy="65.2" rx="2.0" ry="1.5" fill="#00b7ff"/><ellipse cx="469.8" cy="57.7" rx="2.0" ry="1.5" fill="#0000b6"/><ellipse cx="378.3" cy="82.0" rx="2.0" ry="1.5" fill="#009dff"/><ellipse cx="388.9" cy="89.8" rx="2.0" ry="1.5" fill="#0050ff"/><ellipse cx="439.6" cy="58.5" rx="2.0" ry="1.5" fill="#0023ff"/><ellipse cx="390.8" cy="66.8" rx="2.0" ry="1.5" fill="#00b3ff"/><ellipse cx="407.2" cy="96.4" rx="2.0" ry="1.5" fill="#0000e8"/><ellipse cx="383.0" cy="86.1" rx="2.0" ry="1.5" fill="#0073ff"/><ellipse cx="416.8" cy="98.8" rx="2.0" ry="1.5" fill="#0000b5"/><ellipse cx="456.6" cy="58.2" rx="2.0" ry="1.5" fill="#0000df"/><ellipse cx="406.7" cy="63.2" rx="2.0" ry="1.5" fill="#0082ff"/><ellipse cx="380.8" cy="78.8" rx="2.0" ry="1.5" fill="#0090ff"/><ellipse cx="387.2" cy="71.4" rx="2.0" ry="1.5" fill="#009aff"/><ellipse cx="426.5" cy="61.2" rx="2.0" ry="1.5" fill="#0035ff"/><ellipse cx="407.0" cy="64.5" rx="2.0" ry="1.5" fill="#006fff"/><ellipse cx="382.3" cy="82.4" rx="2.0" ry="1.5" fill="#0075ff"/><ellipse cx="468.0" cy="59.3" rx="2.0" ry="1.5" fill="#00009d"/><ellipse cx="454.6" cy="59.6" rx="2.0" ry="1.5" fill="#0000cd"/><ellipse cx="414.6" cy="63.5" rx="2.0" ry="1.5" fill="#0052ff"/><ellipse cx="392.6" cy="90.6" rx="2.0" ry="1.5" fill="#0020ff"/><ellipse cx="389.9" cy="71.9" rx="2.0" ry="1.5" fill="#0082ff"/><ellipse cx="411.1" cy="65.0" rx="2.0" ry="1.5" fill="#0052ff"/><ellipse cx="463.0" cy="60.1" rx="2.0" ry="1.5" fill="#0000a2"/><ellipse cx="413.9" cy="98.7" rx="2.0" ry="1.5" fill="#0000a4"/><ellipse cx="405.0" cy="95.9" rx="2.0" ry="1.5" fill="#0000d3"/><ellipse cx="396.7" cy="92.3" rx="2.0" ry="1.5" fill="#0000fc"/><ellipse cx="438.9" cy="62.2" rx="2.0" ry="1.5" fill="#0000e9"/><ellipse cx="391.2" cy="74.5" rx="2.0" ry="1.5" fill="#0060ff"/><ellipse cx="387.7" cy="79.0" rx="2.0" ry="1.5" fill="#0056ff"/><ellipse cx="412.3" cy="98.3" rx="2.0" ry="1.5" fill="#00009c"/><ellipse cx="395.8" cy="72.9" rx="2.0" ry="1.5" fill="#0051ff"/><ellipse cx="423.9" cy="65.2" rx="2.0" ry="1.5" fill="#0009ff"/><ellipse cx="402.8" cy="70.8" rx="2.0" ry="1.5" fill="#003aff"/><ellipse cx="418.6" cy="66.9" rx="2.0" ry="1.5" fill="#000eff"/><ellipse cx="390.3" cy="81.7" rx="2.0" ry="1.5" fill="#0031ff"/><ellipse cx="401.0" cy="73.5" rx="2.0" ry="1.5" fill="#0028ff"/><ellipse cx="392.7" cy="82.9" rx="2.0" ry="1.5" fill="#0017ff"/><ellipse cx="395.1" cy="88.3" rx="2.0" ry="1.5" fill="#0000f0"/><ellipse cx="397.9" cy="90.8" rx="2.0" ry="1.5" fill="#0000d9"/><ellipse cx="418.7" cy="69.0" rx="2.0" ry="1.5" fill="#0000f0"/><ellipse cx="441.7" cy="65.3" rx="2.0" ry="1.5" fill="#0000ab"/><ellipse cx="425.9" cy="67.6" rx="2.0" ry="1.5" fill="#0000db"/><ellipse cx="404.2" cy="74.5" rx="2.0" ry="1.5" fill="#0008ff"/><ellipse cx="396.2" cy="87.5" rx="2.0" ry="1.5" fill="#0000e6"/><ellipse cx="426.2" cy="69.2" rx="2.0" ry="1.5" fill="#0000c3"/><ellipse cx="398.9" cy="87.5" rx="2.0" ry="1.5" fill="#0000cc"/><ellipse cx="403.9" cy="78.0" rx="2.0" ry="1.5" fill="#0000e6"/><ellipse cx="402.1" cy="90.5" rx="2.0" ry="1.5" fill="#0000a9"/><ellipse cx="422.9" cy="72.2" rx="2.0" ry="1.5" fill="#0000ae"/><ellipse cx="406.3" cy="93.6" rx="2.0" ry="1.5" fill="#000082"/><ellipse cx="407.2" cy="79.4" rx="2.0" ry="1.5" fill="#0000c1"/><ellipse cx="433.4" cy="70.7" rx="2.0" ry="1.5" fill="#000087"/><ellipse cx="403.4" cy="85.0" rx="2.0" ry="1.5" fill="#0000b1"/><ellipse cx="404.4" cy="83.3" rx="2.0" ry="1.5" fill="#0000b5"/><ellipse cx="421.5" cy="74.6" rx="2.0" ry="1.5" fill="#000098"/><ellipse cx="406.5" cy="89.4" rx="2.0" ry="1.5" fill="#000081"/><ellipse cx="410.7" cy="82.9" rx="2.0" ry="1.5" fill="#000089"/></g><g stroke="#b0b0b0" stroke-width="0.8" fill="none"><line x1="19.2" y1="281.3" x2="19.2" y2="213.1"/><line x1="115.5" y1="311.7" x2="19.2" y2="281.3"/><line x1="115.5" y1="311.7" x2="238.6" y2="288.3"/></g><path d="M19.2 281.3l-2.48 -0.78 M19.2 264.2l-2.48 -0.78 M19.2 247.2l-2.48 -0.78 M19.2 230.2l-2.48 -0.78 M19.2 213.1l-2.48 -0.78 M115.5 311.7l-2.55 0.49 M67.3 296.5l-2.55 0.49 M19.2 281.3l-2.55 0.49 M115.5 311.7l2.48 0.78 M146.3 305.8l2.48 0.78 M177.1 300.0l2.48 0.78 M207.8 294.1l2.48 0.78 M238.6 288.3l2.48 0.78" stroke="#444" stroke-width="0.7" fill="none"/><g><ellipse cx="136.1" cy="250.9" rx="2.0" ry="1.5" fill="#0091ff"/><ellipse cx="142.7" cy="243.9" rx="2.0" ry="1.5" fill="#00ceff"/><ellipse cx="120.0" cy="258.4" rx="2.0" ry="1.5" fill="#0052ff"/><ellipse cx="140.1" cy="252.3" rx="2.0" ry="1.5" fill="#0090ff"/><ellipse cx="146.0" cy="247.2" rx="2.0" ry="1.5" fill="#00bcff"/><ellipse cx="126.9" cy="258.5" rx="2.0" ry="1.5" fill="#005cff"/><ellipse cx="140.2" cy="254.1" rx="2.0" ry="1.5" fill="#0087ff"/><ellipse cx="141.5" cy="238.0" rx="2.0" ry="1.5" fill="#00f8ff"/><ellipse cx="146.7" cy="250.9" rx="2.0" ry="1.5" fill="#00a5ff"/><ellipse cx="148.2" cy="243.7" rx="2.0" ry="1.5" fill="#00dfff"/><ellipse cx="125.1" cy="260.8" rx="2.0" ry="1.5" fill="#004eff"/><ellipse cx="134.9" cy="258.9" rx="2.0" ry="1.5" fill="#0066ff"/><ellipse cx="109.0" cy="263.8" rx="2.0" ry="1.5" fill="#0038ff"/><ellipse cx="151.6" cy="246.6" rx="2.0" ry="1.5" fill="#00cfff"/><ellipse cx="141.3" cy="257.5" rx="2.0" ry="1.5" fill="#0077ff"/><ellipse cx="118.1" cy="263.2" rx="2.0" ry="1.5" fill="#0041ff"/><ellipse cx="152.4" cy="250.8" rx="2.0" ry="1.5" fill="#00b1ff"/><ellipse cx="146.9" cy="239.6" rx="2.0" ry="1.5" fill="#00f8ff"/><ellipse cx="139.1" cy="259.6" rx="2.0" ry="1.5" fill="#0069ff"/><ellipse cx="107.5" cy="265.4" rx="2.0" ry="1.5" fill="#0033ff"/><ellipse cx="155.7" cy="249.7" rx="2.0" ry="1.5" fill="#00c1ff"/><ellipse cx="138.3" cy="235.3" rx="2.0" ry="1.5" fill="#0cfff3"/><ellipse cx="145.6" cy="238.3" rx="2.0" ry="1.5" fill="#02fffd"/><ellipse cx="155.2" cy="252.7" rx="2.0" ry="1.5" fill="#00aaff"/><ellipse cx="143.0" cy="259.7" rx="2.0" ry="1.5" fill="#006fff"/><ellipse cx="155.3" cy="244.6" rx="2.0" ry="1.5" fill="#00e9ff"/><ellipse cx="145.4" cy="238.1" rx="2.0" ry="1.5" fill="#05fffa"/><ellipse cx="152.9" cy="242.1" rx="2.0" ry="1.5" fill="#00f4ff"/><ellipse cx="149.4" cy="258.3" rx="2.0" ry="1.5" fill="#0080ff"/><ellipse cx="115.6" cy="266.1" rx="2.0" ry="1.5" fill="#0038ff"/><ellipse cx="159.3" cy="248.9" rx="2.0" ry="1.5" fill="#00d1ff"/><ellipse cx="140.4" cy="235.9" rx="2.0" ry="1.5" fill="#0efff1"/><ellipse cx="157.8" cy="255.0" rx="2.0" ry="1.5" fill="#00a0ff"/><ellipse cx="98.9" cy="268.9" rx="2.0" ry="1.5" fill="#0022ff"/><ellipse cx="119.5" cy="267.5" rx="2.0" ry="1.5" fill="#0037ff"/><ellipse cx="162.3" cy="253.8" rx="2.0" ry="1.5" fill="#00b2ff"/><ellipse cx="135.1" cy="265.3" rx="2.0" ry="1.5" fill="#004aff"/><ellipse cx="158.3" cy="243.6" rx="2.0" ry="1.5" fill="#00f5ff"/><ellipse cx="160.3" cy="245.1" rx="2.0" ry="1.5" fill="#00f0ff"/><ellipse cx="82.6" cy="269.8" rx="2.0" ry="1.5" fill="#0011ff"/><ellipse cx="88.1" cy="269.8" rx="2.0" ry="1.5" fill="#0016ff"/><ellipse cx="163.0" cy="254.3" rx="2.0" ry="1.5" fill="#00b0ff"/><ellipse cx="157.4" cy="259.6" rx="2.0" ry="1.5" fill="#0086ff"/><ellipse cx="106.3" cy="269.4" rx="2.0" ry="1.5" fill="#0027ff"/><ellipse cx="122.0" cy="268.1" rx="2.0" ry="1.5" fill="#0038ff"/><ellipse cx="145.4" cy="237.5" rx="2.0" ry="1.5" fill="#0ffff0"/><ellipse cx="144.2" cy="264.9" rx="2.0" ry="1.5" fill="#0057ff"/><ellipse cx="130.1" cy="233.3" rx="2.0" ry="1.5" fill="#1fffe0"/><ellipse cx="149.9" cy="263.8" rx="2.0" ry="1.5" fill="#0065ff"/><ellipse cx="165.3" cy="247.7" rx="2.0" ry="1.5" fill="#00e9ff"/><ellipse cx="156.4" cy="261.9" rx="2.0" ry="1.5" fill="#0079ff"/><ellipse cx="166.3" cy="248.4" rx="2.0" ry="1.5" fill="#00e7ff"/><ellipse cx="122.9" cy="269.2" rx="2.0" ry="1.5" fill="#0036ff"/><ellipse cx="155.8" cy="241.3" rx="2.0" ry="1.5" fill="#05fffa"/><ellipse cx="168.6" cy="249.9" rx="2.0" ry="1.5" fill="#00e2ff"/><ellipse cx="167.1" cy="258.3" rx="2.0" ry="1.5" fill="#009eff"/><ellipse cx="155.6" cy="264.1" rx="2.0" ry="1.5" fill="#006cff"/><ellipse cx="107.7" cy="271.4" rx="2.0" ry="1.5" fill="#0023ff"/><ellipse cx="71.0" cy="271.6" rx="2.0" ry="1.5" fill="#0000fa"/><ellipse cx="111.9" cy="271.4" rx="2.0" ry="1.5" fill="#0027ff"/><ellipse cx="139.0" cy="235.9" rx="2.0" ry="1.5" fill="#1cffe3"/><ellipse cx="148.0" cy="238.3" rx="2.0" ry="1.5" fill="#14ffeb"/><ellipse cx="171.9" cy="251.2" rx="2.0" ry="1.5" fill="#00dfff"/><ellipse cx="160.3" cy="264.2" rx="2.0" ry="1.5" fill="#0073ff"/><ellipse cx="171.2" cy="257.8" rx="2.0" ry="1.5" fill="#00aaff"/><ellipse cx="82.7" cy="272.8" rx="2.0" ry="1.5" fill="#0006ff"/><ellipse cx="167.7" cy="246.4" rx="2.0" ry="1.5" fill="#00f7ff"/><ellipse cx="173.3" cy="256.9" rx="2.0" ry="1.5" fill="#00b5ff"/><ellipse cx="126.6" cy="271.4" rx="2.0" ry="1.5" fill="#0033ff"/><ellipse cx="142.1" cy="269.8" rx="2.0" ry="1.5" fill="#0044ff"/><ellipse cx="158.7" cy="241.8" rx="2.0" ry="1.5" fill="#0cfff3"/><ellipse cx="132.2" cy="234.9" rx="2.0" ry="1.5" fill="#26ffd9"/><ellipse cx="121.7" cy="233.1" rx="2.0" ry="1.5" fill="#30ffcf"/><ellipse cx="176.6" cy="256.0" rx="2.0" ry="1.5" fill="#00c3ff"/><ellipse cx="174.9" cy="259.3" rx="2.0" ry="1.5" fill="#00a7ff"/><ellipse cx="159.3" cy="267.1" rx="2.0" ry="1.5" fill="#0064ff"/><ellipse cx="155.0" cy="240.5" rx="2.0" ry="1.5" fill="#11ffee"/><ellipse cx="143.7" cy="237.4" rx="2.0" ry="1.5" fill="#1dffe2"/><ellipse cx="69.1" cy="273.3" rx="2.0" ry="1.5" fill="#0000f0"/><ellipse cx="128.6" cy="272.6" rx="2.0" ry="1.5" fill="#0032ff"/><ellipse cx="114.9" cy="273.6" rx="2.0" ry="1.5" fill="#0023ff"/><ellipse cx="139.1" cy="272.0" rx="2.0" ry="1.5" fill="#003cff"/><ellipse cx="161.2" cy="242.5" rx="2.0" ry="1.5" fill="#0cfff3"/><ellipse cx="115.3" cy="232.8" rx="2.0" ry="1.5" fill="#3fffc0"/><ellipse cx="153.3" cy="270.1" rx="2.0" ry="1.5" fill="#004cff"/><ellipse cx="116.1" cy="233.0" rx="2.0" ry="1.5" fill="#3effc1"/><ellipse cx="103.7" cy="274.9" rx="2.0" ry="1.5" fill="#0016ff"/><ellipse cx="175.9" cy="249.7" rx="2.0" ry="1.5" fill="#00f2ff"/><ellipse cx="180.0" cy="254.7" rx="2.0" ry="1.5" fill="#00d7ff"/><ellipse cx="174.3" cy="263.9" rx="2.0" ry="1.5" fill="#008cff"/><ellipse cx="170.3" cy="246.1" rx="2.0" ry="1.5" fill="#02fffd"/><ellipse cx="179.0" cy="261.2" rx="2.0" ry="1.5" fill="#00a4ff"/><ellipse cx="83.0" cy="275.1" rx="2.0" ry="1.5" fill="#0000fc"/><ellipse cx="140.6" cy="237.2" rx="2.0" ry="1.5" fill="#24ffdb"/><ellipse cx="75.5" cy="274.8" rx="2.0" ry="1.5" fill="#0000f2"/><ellipse cx="149.4" cy="239.2" rx="2.0" ry="1.5" fill="#1cffe3"/><ellipse cx="182.9" cy="256.7" rx="2.0" ry="1.5" fill="#00cdff"/><ellipse cx="125.4" cy="234.8" rx="2.0" ry="1.5" fill="#35ffca"/><ellipse cx="161.5" cy="242.5" rx="2.0" ry="1.5" fill="#11ffee"/><ellipse cx="153.8" cy="272.2" rx="2.0" ry="1.5" fill="#0047ff"/><ellipse cx="62.3" cy="274.5" rx="2.0" ry="1.5" fill="#0000df"/><ellipse cx="176.8" cy="266.3" rx="2.0" ry="1.5" fill="#0083ff"/><ellipse cx="176.8" cy="248.6" rx="2.0" ry="1.5" fill="#00fcff"/><ellipse cx="118.9" cy="276.3" rx="2.0" ry="1.5" fill="#001fff"/><ellipse cx="141.0" cy="274.8" rx="2.0" ry="1.5" fill="#0036ff"/><ellipse cx="135.8" cy="275.5" rx="2.0" ry="1.5" fill="#0030ff"/><ellipse cx="185.0" cy="261.8" rx="2.0" ry="1.5" fill="#00adff"/><ellipse cx="163.9" cy="243.3" rx="2.0" ry="1.5" fill="#12ffed"/><ellipse cx="154.1" cy="240.6" rx="2.0" ry="1.5" fill="#1cffe3"/><ellipse cx="179.5" cy="249.8" rx="2.0" ry="1.5" fill="#00f9ff"/><ellipse cx="165.5" cy="271.3" rx="2.0" ry="1.5" fill="#0059ff"/><ellipse cx="97.0" cy="277.2" rx="2.0" ry="1.5" fill="#0007ff"/><ellipse cx="179.3" cy="267.2" rx="2.0" ry="1.5" fill="#0082ff"/><ellipse cx="187.0" cy="261.8" rx="2.0" ry="1.5" fill="#00b0ff"/><ellipse cx="60.7" cy="275.2" rx="2.0" ry="1.5" fill="#0000d8"/><ellipse cx="108.2" cy="277.6" rx="2.0" ry="1.5" fill="#0012ff"/><ellipse cx="154.7" cy="274.4" rx="2.0" ry="1.5" fill="#0042ff"/><ellipse cx="170.3" cy="271.6" rx="2.0" ry="1.5" fill="#005fff"/><ellipse cx="177.1" cy="248.0" rx="2.0" ry="1.5" fill="#05fffa"/><ellipse cx="187.5" cy="254.3" rx="2.0" ry="1.5" fill="#00ecff"/><ellipse cx="110.5" cy="234.6" rx="2.0" ry="1.5" fill="#55ffaa"/><ellipse cx="126.6" cy="277.8" rx="2.0" ry="1.5" fill="#0022ff"/><ellipse cx="89.7" cy="277.9" rx="2.0" ry="1.5" fill="#0000f9"/><ellipse cx="44.4" cy="273.7" rx="2.0" ry="1.5" fill="#0000be"/><ellipse cx="190.7" cy="262.3" rx="2.0" ry="1.5" fill="#00b5ff"/><ellipse cx="161.7" cy="274.4" rx="2.0" ry="1.5" fill="#0048ff"/><ellipse cx="165.5" cy="243.9" rx="2.0" ry="1.5" fill="#16ffe9"/><ellipse cx="184.8" cy="251.4" rx="2.0" ry="1.5" fill="#00f9ff"/><ellipse cx="113.0" cy="278.8" rx="2.0" ry="1.5" fill="#0013ff"/><ellipse cx="189.1" cy="265.6" rx="2.0" ry="1.5" fill="#009cff"/><ellipse cx="138.3" cy="238.4" rx="2.0" ry="1.5" fill="#30ffcf"/><ellipse cx="157.7" cy="276.0" rx="2.0" ry="1.5" fill="#0041ff"/><ellipse cx="99.5" cy="278.9" rx="2.0" ry="1.5" fill="#0002ff"/><ellipse cx="100.3" cy="234.6" rx="2.0" ry="1.5" fill="#68ff97"/><ellipse cx="77.7" cy="278.0" rx="2.0" ry="1.5" fill="#0000e6"/><ellipse cx="156.8" cy="241.9" rx="2.0" ry="1.5" fill="#20ffdf"/><ellipse cx="125.2" cy="236.8" rx="2.0" ry="1.5" fill="#45ffba"/><ellipse cx="118.1" cy="236.1" rx="2.0" ry="1.5" fill="#50ffaf"/><ellipse cx="137.8" cy="278.5" rx="2.0" ry="1.5" fill="#002aff"/><ellipse cx="169.2" cy="274.5" rx="2.0" ry="1.5" fill="#004fff"/><ellipse cx="190.6" cy="254.6" rx="2.0" ry="1.5" fill="#00f0ff"/><ellipse cx="188.7" cy="268.0" rx="2.0" ry="1.5" fill="#008eff"/><ellipse cx="172.7" cy="246.1" rx="2.0" ry="1.5" fill="#11ffee"/><ellipse cx="179.7" cy="272.1" rx="2.0" ry="1.5" fill="#006bff"/><ellipse cx="151.8" cy="241.0" rx="2.0" ry="1.5" fill="#26ffd9"/><ellipse cx="98.7" cy="279.5" rx="2.0" ry="1.5" fill="#0000fe"/><ellipse cx="100.7" cy="235.2" rx="2.0" ry="1.5" fill="#6aff95"/><ellipse cx="61.9" cy="276.9" rx="2.0" ry="1.5" fill="#0000d0"/><ellipse cx="196.2" cy="263.1" rx="2.0" ry="1.5" fill="#00bcff"/><ellipse cx="192.5" cy="255.1" rx="2.0" ry="1.5" fill="#00f1ff"/><ellipse cx="140.0" cy="239.2" rx="2.0" ry="1.5" fill="#33ffcc"/><ellipse cx="192.5" cy="268.3" rx="2.0" ry="1.5" fill="#0093ff"/><ellipse cx="132.0" cy="280.1" rx="2.0" ry="1.5" fill="#0020ff"/><ellipse cx="118.9" cy="280.5" rx="2.0" ry="1.5" fill="#0014ff"/><ellipse cx="197.2" cy="259.0" rx="2.0" ry="1.5" fill="#00e1ff"/><ellipse cx="136.8" cy="200.7" rx="2.0" ry="1.5" fill="#810000"/><ellipse cx="181.4" cy="274.0" rx="2.0" ry="1.5" fill="#0064ff"/><ellipse cx="152.1" cy="279.3" rx="2.0" ry="1.5" fill="#0034ff"/><ellipse cx="159.4" cy="278.5" rx="2.0" ry="1.5" fill="#003bff"/><ellipse cx="196.3" cy="256.8" rx="2.0" ry="1.5" fill="#00eeff"/><ellipse cx="110.2" cy="236.8" rx="2.0" ry="1.5" fill="#63ff9c"/><ellipse cx="55.6" cy="276.8" rx="2.0" ry="1.5" fill="#0000c2"/><ellipse cx="138.0" cy="239.5" rx="2.0" ry="1.5" fill="#3bffc4"/><ellipse cx="196.5" cy="268.6" rx="2.0" ry="1.5" fill="#0098ff"/><ellipse cx="138.6" cy="201.3" rx="2.0" ry="1.5" fill="#830000"/><ellipse cx="84.2" cy="236.2" rx="2.0" ry="1.5" fill="#88ff77"/><ellipse cx="32.6" cy="272.5" rx="2.0" ry="1.5" fill="#0000a3"/><ellipse cx="65.3" cy="278.3" rx="2.0" ry="1.5" fill="#0000cd"/><ellipse cx="133.1" cy="281.3" rx="2.0" ry="1.5" fill="#001eff"/><ellipse cx="79.5" cy="236.4" rx="2.0" ry="1.5" fill="#8fff70"/><ellipse cx="136.1" cy="281.2" rx="2.0" ry="1.5" fill="#0021ff"/><ellipse cx="135.6" cy="200.6" rx="2.0" ry="1.5" fill="#ac0000"/><ellipse cx="143.8" cy="280.8" rx="2.0" ry="1.5" fill="#0029ff"/><ellipse cx="42.3" cy="274.7" rx="2.0" ry="1.5" fill="#0000ae"/><ellipse cx="201.5" cy="263.6" rx="2.0" ry="1.5" fill="#00c5ff"/><ellipse cx="82.1" cy="280.2" rx="2.0" ry="1.5" fill="#0000e2"/><ellipse cx="175.5" cy="247.0" rx="2.0" ry="1.5" fill="#16ffe9"/><ellipse cx="103.2" cy="237.0" rx="2.0" ry="1.5" fill="#70ff8f"/><ellipse cx="107.2" cy="281.7" rx="2.0" ry="1.5" fill="#0001ff"/><ellipse cx="163.7" cy="244.2" rx="2.0" ry="1.5" fill="#22ffdd"/><ellipse cx="156.8" cy="242.9" rx="2.0" ry="1.5" fill="#28ffd7"/><ellipse cx="202.9" cy="265.2" rx="2.0" ry="1.5" fill="#00bcff"/><ellipse cx="175.2" cy="278.0" rx="2.0" ry="1.5" fill="#004aff"/><ellipse cx="196.2" cy="271.7" rx="2.0" ry="1.5" fill="#0087ff"/><ellipse cx="123.4" cy="238.8" rx="2.0" ry="1.5" fill="#56ffa9"/><ellipse cx="30.4" cy="272.1" rx="2.0" ry="1.5" fill="#000081"/><ellipse cx="158.9" cy="280.7" rx="2.0" ry="1.5" fill="#0035ff"/><ellipse cx="198.9" cy="270.9" rx="2.0" ry="1.5" fill="#0090ff"/><ellipse cx="198.8" cy="256.4" rx="2.0" ry="1.5" fill="#00f5ff"/><ellipse cx="136.5" cy="201.0" rx="2.0" ry="1.5" fill="#cb0000"/><ellipse cx="38.4" cy="274.2" rx="2.0" ry="1.5" fill="#0000a5"/><ellipse cx="108.4" cy="238.0" rx="2.0" ry="1.5" fill="#6cff93"/><ellipse cx="124.4" cy="198.5" rx="2.0" ry="1.5" fill="#ec0000"/><ellipse cx="184.6" cy="249.9" rx="2.0" ry="1.5" fill="#10ffef"/><ellipse cx="62.9" cy="278.8" rx="2.0" ry="1.5" fill="#0000c4"/><ellipse cx="144.6" cy="241.4" rx="2.0" ry="1.5" fill="#3affc5"/><ellipse cx="179.0" cy="248.1" rx="2.0" ry="1.5" fill="#16ffe9"/><ellipse cx="94.5" cy="282.0" rx="2.0" ry="1.5" fill="#0000ec"/><ellipse cx="190.7" cy="252.0" rx="2.0" ry="1.5" fill="#09fff6"/><ellipse cx="109.9" cy="282.9" rx="2.0" ry="1.5" fill="#0000ff"/><ellipse cx="144.7" cy="203.2" rx="2.0" ry="1.5" fill="#800000"/><ellipse cx="116.2" cy="283.1" rx="2.0" ry="1.5" fill="#0007ff"/><ellipse cx="174.8" cy="247.1" rx="2.0" ry="1.5" fill="#1bffe4"/><ellipse cx="204.2" cy="259.7" rx="2.0" ry="1.5" fill="#00ebff"/><ellipse cx="33.8" cy="273.1" rx="2.0" ry="1.5" fill="#000091"/><ellipse cx="183.1" cy="278.2" rx="2.0" ry="1.5" fill="#0053ff"/><ellipse cx="207.1" cy="262.1" rx="2.0" ry="1.5" fill="#00e1ff"/><ellipse cx="140.0" cy="283.5" rx="2.0" ry="1.5" fill="#001eff"/><ellipse cx="146.2" cy="203.7" rx="2.0" ry="1.5" fill="#840000"/><ellipse cx="200.7" cy="273.6" rx="2.0" ry="1.5" fill="#0084ff"/><ellipse cx="159.2" cy="282.5" rx="2.0" ry="1.5" fill="#0031ff"/><ellipse cx="170.6" cy="281.5" rx="2.0" ry="1.5" fill="#003dff"/><ellipse cx="199.1" cy="255.3" rx="2.0" ry="1.5" fill="#01fffe"/><ellipse cx="181.9" cy="279.7" rx="2.0" ry="1.5" fill="#004bff"/><ellipse cx="195.8" cy="253.8" rx="2.0" ry="1.5" fill="#07fff8"/><ellipse cx="121.3" cy="198.7" rx="2.0" ry="1.5" fill="#f10000"/><ellipse cx="65.0" cy="279.8" rx="2.0" ry="1.5" fill="#0000c1"/><ellipse cx="111.1" cy="239.5" rx="2.0" ry="1.5" fill="#70ff8f"/><ellipse cx="160.9" cy="244.6" rx="2.0" ry="1.5" fill="#2bffd4"/><ellipse cx="195.1" cy="277.1" rx="2.0" ry="1.5" fill="#006aff"/><ellipse cx="143.5" cy="242.3" rx="2.0" ry="1.5" fill="#43ffbc"/><ellipse cx="182.5" cy="249.3" rx="2.0" ry="1.5" fill="#18ffe7"/><ellipse cx="87.2" cy="282.7" rx="2.0" ry="1.5" fill="#0000dd"/><ellipse cx="120.3" cy="284.6" rx="2.0" ry="1.5" fill="#0006ff"/><ellipse cx="164.6" cy="245.4" rx="2.0" ry="1.5" fill="#28ffd7"/><ellipse cx="211.0" cy="266.3" rx="2.0" ry="1.5" fill="#00c8ff"/><ellipse cx="201.2" cy="275.4" rx="2.0" ry="1.5" fill="#007cff"/><ellipse cx="171.4" cy="282.7" rx="2.0" ry="1.5" fill="#003aff"/><ellipse cx="173.6" cy="247.3" rx="2.0" ry="1.5" fill="#22ffdd"/><ellipse cx="39.2" cy="274.9" rx="2.0" ry="1.5" fill="#000083"/><ellipse cx="69.8" cy="239.4" rx="2.0" ry="1.5" fill="#a9ff56"/><ellipse cx="136.6" cy="201.8" rx="2.0" ry="1.5" fill="#ea0000"/><ellipse cx="129.9" cy="241.5" rx="2.0" ry="1.5" fill="#5affa5"/><ellipse cx="93.8" cy="283.8" rx="2.0" ry="1.5" fill="#0000e2"/><ellipse cx="39.8" cy="275.0" rx="2.0" ry="1.5" fill="#000085"/><ellipse cx="21.5" cy="268.0" rx="2.0" ry="1.5" fill="#000080"/><ellipse cx="200.1" cy="277.6" rx="2.0" ry="1.5" fill="#006fff"/><ellipse cx="208.6" cy="273.8" rx="2.0" ry="1.5" fill="#0091ff"/><ellipse cx="178.4" cy="282.5" rx="2.0" ry="1.5" fill="#0041ff"/><ellipse cx="142.1" cy="203.1" rx="2.0" ry="1.5" fill="#e70000"/><ellipse cx="178.2" cy="248.5" rx="2.0" ry="1.5" fill="#1fffe0"/><ellipse cx="59.5" cy="239.0" rx="2.0" ry="1.5" fill="#b8ff47"/><ellipse cx="143.1" cy="285.6" rx="2.0" ry="1.5" fill="#001bff"/><ellipse cx="83.7" cy="240.4" rx="2.0" ry="1.5" fill="#9aff65"/><ellipse cx="140.1" cy="202.8" rx="2.0" ry="1.5" fill="#e80000"/><ellipse cx="147.9" cy="204.5" rx="2.0" ry="1.5" fill="#bc0000"/><ellipse cx="70.7" cy="281.6" rx="2.0" ry="1.5" fill="#0000c2"/><ellipse cx="208.2" cy="259.0" rx="2.0" ry="1.5" fill="#00f8ff"/><ellipse cx="214.4" cy="264.3" rx="2.0" ry="1.5" fill="#00e2ff"/><ellipse cx="153.6" cy="206.1" rx="2.0" ry="1.5" fill="#820000"/><ellipse cx="213.1" cy="262.4" rx="2.0" ry="1.5" fill="#00ecff"/><ellipse cx="42.7" cy="275.9" rx="2.0" ry="1.5" fill="#00008d"/><ellipse cx="113.4" cy="241.3" rx="2.0" ry="1.5" fill="#75ff8a"/><ellipse cx="213.8" cy="271.9" rx="2.0" ry="1.5" fill="#00a6ff"/><ellipse cx="144.4" cy="243.4" rx="2.0" ry="1.5" fill="#49ffb6"/><ellipse cx="152.8" cy="205.9" rx="2.0" ry="1.5" fill="#8b0000"/><ellipse cx="128.4" cy="242.1" rx="2.0" ry="1.5" fill="#60ff9f"/><ellipse cx="42.9" cy="276.0" rx="2.0" ry="1.5" fill="#000088"/><ellipse cx="104.9" cy="285.6" rx="2.0" ry="1.5" fill="#0000eb"/><ellipse cx="203.0" cy="256.0" rx="2.0" ry="1.5" fill="#07fff8"/><ellipse cx="44.9" cy="276.6" rx="2.0" ry="1.5" fill="#00009c"/><ellipse cx="208.6" cy="258.6" rx="2.0" ry="1.5" fill="#00fdff"/><ellipse cx="202.7" cy="279.0" rx="2.0" ry="1.5" fill="#006cff"/><ellipse cx="72.2" cy="240.7" rx="2.0" ry="1.5" fill="#acff53"/><ellipse cx="113.8" cy="241.8" rx="2.0" ry="1.5" fill="#76ff89"/><ellipse cx="184.9" cy="250.4" rx="2.0" ry="1.5" fill="#1cffe3"/><ellipse cx="216.6" cy="271.4" rx="2.0" ry="1.5" fill="#00afff"/><ellipse cx="25.5" cy="269.3" rx="2.0" ry="1.5" fill="#000080"/><ellipse cx="131.0" cy="201.5" rx="2.0" ry="1.5" fill="#f00000"/><ellipse cx="148.6" cy="286.7" rx="2.0" ry="1.5" fill="#001dff"/><ellipse cx="144.8" cy="286.9" rx="2.0" ry="1.5" fill="#0019ff"/><ellipse cx="120.0" cy="286.7" rx="2.0" ry="1.5" fill="#0000fc"/><ellipse cx="217.4" cy="265.1" rx="2.0" ry="1.5" fill="#00e4ff"/><ellipse cx="177.5" cy="284.7" rx="2.0" ry="1.5" fill="#003aff"/><ellipse cx="156.7" cy="207.0" rx="2.0" ry="1.5" fill="#850000"/><ellipse cx="48.8" cy="277.7" rx="2.0" ry="1.5" fill="#0000a1"/><ellipse cx="216.6" cy="263.3" rx="2.0" ry="1.5" fill="#00edff"/><ellipse cx="190.4" cy="251.9" rx="2.0" ry="1.5" fill="#19ffe6"/><ellipse cx="206.8" cy="279.0" rx="2.0" ry="1.5" fill="#0073ff"/><ellipse cx="208.0" cy="257.9" rx="2.0" ry="1.5" fill="#03fffc"/><ellipse cx="65.7" cy="240.7" rx="2.0" ry="1.5" fill="#b6ff49"/><ellipse cx="110.3" cy="199.2" rx="2.0" ry="1.5" fill="#f90000"/><ellipse cx="194.4" cy="253.0" rx="2.0" ry="1.5" fill="#16ffe9"/><ellipse cx="211.8" cy="277.7" rx="2.0" ry="1.5" fill="#0081ff"/><ellipse cx="82.5" cy="242.0" rx="2.0" ry="1.5" fill="#a3ff5c"/><ellipse cx="132.9" cy="287.6" rx="2.0" ry="1.5" fill="#000aff"/><ellipse cx="189.9" cy="251.8" rx="2.0" ry="1.5" fill="#1bffe4"/><ellipse cx="56.4" cy="279.7" rx="2.0" ry="1.5" fill="#0000a8"/><ellipse cx="119.3" cy="243.0" rx="2.0" ry="1.5" fill="#74ff8b"/><ellipse cx="159.0" cy="207.8" rx="2.0" ry="1.5" fill="#850000"/><ellipse cx="185.7" cy="250.8" rx="2.0" ry="1.5" fill="#1fffe0"/><ellipse cx="99.7" cy="242.7" rx="2.0" ry="1.5" fill="#8fff70"/><ellipse cx="84.4" cy="242.3" rx="2.0" ry="1.5" fill="#a2ff5d"/><ellipse cx="128.5" cy="201.7" rx="2.0" ry="1.5" fill="#f40000"/><ellipse cx="175.5" cy="286.4" rx="2.0" ry="1.5" fill="#0034ff"/><ellipse cx="59.9" cy="240.7" rx="2.0" ry="1.5" fill="#c1ff3e"/><ellipse cx="151.7" cy="245.5" rx="2.0" ry="1.5" fill="#48ffb7"/><ellipse cx="219.2" cy="275.1" rx="2.0" ry="1.5" fill="#009cff"/><ellipse cx="145.3" cy="245.1" rx="2.0" ry="1.5" fill="#52ffad"/><ellipse cx="29.7" cy="270.2" rx="2.0" ry="1.5" fill="#000080"/><ellipse cx="74.8" cy="283.5" rx="2.0" ry="1.5" fill="#0000bc"/><ellipse cx="70.3" cy="282.8" rx="2.0" ry="1.5" fill="#0000b5"/><ellipse cx="98.2" cy="286.5" rx="2.0" ry="1.5" fill="#0000db"/><ellipse cx="222.4" cy="266.7" rx="2.0" ry="1.5" fill="#00e4ff"/><ellipse cx="50.7" cy="278.4" rx="2.0" ry="1.5" fill="#000092"/><ellipse cx="88.9" cy="243.1" rx="2.0" ry="1.5" fill="#9fff60"/><ellipse cx="220.7" cy="264.7" rx="2.0" ry="1.5" fill="#00edff"/><ellipse cx="54.5" cy="279.4" rx="2.0" ry="1.5" fill="#0000a2"/><ellipse cx="88.2" cy="285.5" rx="2.0" ry="1.5" fill="#0000cd"/><ellipse cx="104.7" cy="243.5" rx="2.0" ry="1.5" fill="#8cff73"/><ellipse cx="154.0" cy="206.7" rx="2.0" ry="1.5" fill="#e00000"/><ellipse cx="137.5" cy="203.5" rx="2.0" ry="1.5" fill="#f00000"/><ellipse cx="109.7" cy="200.1" rx="2.0" ry="1.5" fill="#fa0000"/><ellipse cx="129.2" cy="288.7" rx="2.0" ry="1.5" fill="#0001ff"/><ellipse cx="124.0" cy="244.1" rx="2.0" ry="1.5" fill="#72ff8d"/><ellipse cx="208.8" cy="281.6" rx="2.0" ry="1.5" fill="#0069ff"/><ellipse cx="186.5" cy="286.3" rx="2.0" ry="1.5" fill="#003eff"/><ellipse cx="224.4" cy="271.5" rx="2.0" ry="1.5" fill="#00c0ff"/><ellipse cx="59.4" cy="280.7" rx="2.0" ry="1.5" fill="#0000a7"/><ellipse cx="94.2" cy="199.3" rx="2.0" ry="1.5" fill="#fe0000"/><ellipse cx="200.1" cy="284.2" rx="2.0" ry="1.5" fill="#0050ff"/><ellipse cx="131.8" cy="244.7" rx="2.0" ry="1.5" fill="#68ff97"/><ellipse cx="213.4" cy="259.5" rx="2.0" ry="1.5" fill="#04fffb"/><ellipse cx="52.2" cy="278.9" rx="2.0" ry="1.5" fill="#000080"/><ellipse cx="218.8" cy="278.7" rx="2.0" ry="1.5" fill="#0087ff"/><ellipse cx="213.7" cy="281.0" rx="2.0" ry="1.5" fill="#0074ff"/><ellipse cx="145.7" cy="289.5" rx="2.0" ry="1.5" fill="#0012ff"/><ellipse cx="128.8" cy="202.6" rx="2.0" ry="1.5" fill="#f60000"/><ellipse cx="32.9" cy="271.1" rx="2.0" ry="1.5" fill="#000080"/><ellipse cx="152.6" cy="289.6" rx="2.0" ry="1.5" fill="#0018ff"/><ellipse cx="62.0" cy="242.0" rx="2.0" ry="1.5" fill="#c5ff3a"/><ellipse cx="224.8" cy="266.4" rx="2.0" ry="1.5" fill="#00eaff"/><ellipse cx="112.6" cy="288.6" rx="2.0" ry="1.5" fill="#0000e8"/><ellipse cx="165.5" cy="209.8" rx="2.0" ry="1.5" fill="#830000"/><ellipse cx="224.0" cy="277.0" rx="2.0" ry="1.5" fill="#009aff"/><ellipse cx="160.8" cy="247.7" rx="2.0" ry="1.5" fill="#43ffbc"/><ellipse cx="227.3" cy="268.7" rx="2.0" ry="1.5" fill="#00e0ff"/><ellipse cx="149.0" cy="246.6" rx="2.0" ry="1.5" fill="#54ffab"/><ellipse cx="185.6" cy="288.0" rx="2.0" ry="1.5" fill="#0038ff"/><ellipse cx="175.8" cy="289.0" rx="2.0" ry="1.5" fill="#002dff"/><ellipse cx="39.5" cy="239.1" rx="2.0" ry="1.5" fill="#f2ff0d"/><ellipse cx="229.2" cy="271.3" rx="2.0" ry="1.5" fill="#00ceff"/><ellipse cx="165.4" cy="248.6" rx="2.0" ry="1.5" fill="#3fffc0"/><ellipse cx="155.5" cy="290.5" rx="2.0" ry="1.5" fill="#0018ff"/><ellipse cx="160.8" cy="208.8" rx="2.0" ry="1.5" fill="#d70000"/><ellipse cx="158.9" cy="290.6" rx="2.0" ry="1.5" fill="#001bff"/><ellipse cx="57.0" cy="280.4" rx="2.0" ry="1.5" fill="#000088"/><ellipse cx="222.1" cy="262.9" rx="2.0" ry="1.5" fill="#00fcff"/><ellipse cx="72.2" cy="243.8" rx="2.0" ry="1.5" fill="#bcff43"/><ellipse cx="206.6" cy="256.8" rx="2.0" ry="1.5" fill="#14ffeb"/><ellipse cx="227.1" cy="278.3" rx="2.0" ry="1.5" fill="#0098ff"/><ellipse cx="129.4" cy="246.1" rx="2.0" ry="1.5" fill="#73ff8c"/><ellipse cx="212.5" cy="258.7" rx="2.0" ry="1.5" fill="#0dfff2"/><ellipse cx="210.4" cy="285.2" rx="2.0" ry="1.5" fill="#005aff"/><ellipse cx="169.2" cy="211.0" rx="2.0" ry="1.5" fill="#850000"/><ellipse cx="64.5" cy="243.3" rx="2.0" ry="1.5" fill="#c8ff37"/><ellipse cx="191.2" cy="288.9" rx="2.0" ry="1.5" fill="#003bff"/><ellipse cx="193.5" cy="253.6" rx="2.0" ry="1.5" fill="#21ffde"/><ellipse cx="174.4" cy="250.2" rx="2.0" ry="1.5" fill="#35ffca"/><ellipse cx="109.7" cy="246.1" rx="2.0" ry="1.5" fill="#90ff6f"/><ellipse cx="147.8" cy="206.4" rx="2.0" ry="1.5" fill="#ef0000"/><ellipse cx="138.1" cy="204.9" rx="2.0" ry="1.5" fill="#f40000"/><ellipse cx="80.7" cy="245.0" rx="2.0" ry="1.5" fill="#b4ff4b"/><ellipse cx="141.0" cy="205.4" rx="2.0" ry="1.5" fill="#f30000"/><ellipse cx="141.3" cy="247.1" rx="2.0" ry="1.5" fill="#65ff9a"/><ellipse cx="81.7" cy="286.1" rx="2.0" ry="1.5" fill="#0000b8"/><ellipse cx="174.6" cy="250.4" rx="2.0" ry="1.5" fill="#36ffc9"/><ellipse cx="227.1" cy="265.2" rx="2.0" ry="1.5" fill="#00f6ff"/><ellipse cx="233.0" cy="272.2" rx="2.0" ry="1.5" fill="#00d0ff"/><ellipse cx="169.2" cy="211.1" rx="2.0" ry="1.5" fill="#950000"/><ellipse cx="148.8" cy="247.7" rx="2.0" ry="1.5" fill="#5cffa3"/><ellipse cx="145.3" cy="206.2" rx="2.0" ry="1.5" fill="#f10000"/><ellipse cx="92.1" cy="201.6" rx="2.0" ry="1.5" fill="#ff0200"/><ellipse cx="183.2" cy="251.9" rx="2.0" ry="1.5" fill="#2cffd3"/><ellipse cx="232.7" cy="276.4" rx="2.0" ry="1.5" fill="#00afff"/><ellipse cx="75.5" cy="285.1" rx="2.0" ry="1.5" fill="#0000af"/><ellipse cx="60.5" cy="281.6" rx="2.0" ry="1.5" fill="#000084"/><ellipse cx="211.3" cy="286.5" rx="2.0" ry="1.5" fill="#0055ff"/><ellipse cx="131.5" cy="291.6" rx="2.0" ry="1.5" fill="#0000f7"/><ellipse cx="98.2" cy="246.6" rx="2.0" ry="1.5" fill="#a1ff5e"/><ellipse cx="173.4" cy="212.3" rx="2.0" ry="1.5" fill="#800000"/><ellipse cx="86.6" cy="287.2" rx="2.0" ry="1.5" fill="#0000bc"/><ellipse cx="83.7" cy="245.8" rx="2.0" ry="1.5" fill="#b3ff4c"/><ellipse cx="231.3" cy="267.3" rx="2.0" ry="1.5" fill="#00f1ff"/><ellipse cx="131.0" cy="247.4" rx="2.0" ry="1.5" fill="#77ff88"/><ellipse cx="41.6" cy="240.3" rx="2.0" ry="1.5" fill="#fdff02"/><ellipse cx="62.9" cy="282.3" rx="2.0" ry="1.5" fill="#00008e"/><ellipse cx="204.4" cy="288.9" rx="2.0" ry="1.5" fill="#0045ff"/><ellipse cx="97.0" cy="289.0" rx="2.0" ry="1.5" fill="#0000c9"/><ellipse cx="229.2" cy="281.8" rx="2.0" ry="1.5" fill="#0089ff"/><ellipse cx="52.0" cy="242.4" rx="2.0" ry="1.5" fill="#e7ff18"/><ellipse cx="67.2" cy="283.5" rx="2.0" ry="1.5" fill="#0000a2"/><ellipse cx="105.7" cy="290.2" rx="2.0" ry="1.5" fill="#0000d3"/><ellipse cx="92.5" cy="202.7" rx="2.0" ry="1.5" fill="#ff0200"/><ellipse cx="119.5" cy="291.7" rx="2.0" ry="1.5" fill="#0000e3"/><ellipse cx="206.1" cy="257.0" rx="2.0" ry="1.5" fill="#1bffe4"/><ellipse cx="93.2" cy="288.7" rx="2.0" ry="1.5" fill="#0000c1"/><ellipse cx="101.3" cy="203.1" rx="2.0" ry="1.5" fill="#ff0000"/><ellipse cx="147.0" cy="248.8" rx="2.0" ry="1.5" fill="#65ff9a"/><ellipse cx="185.7" cy="292.0" rx="2.0" ry="1.5" fill="#002eff"/><ellipse cx="118.3" cy="291.7" rx="2.0" ry="1.5" fill="#0000e1"/><ellipse cx="188.9" cy="253.5" rx="2.0" ry="1.5" fill="#2bffd4"/><ellipse cx="211.9" cy="288.7" rx="2.0" ry="1.5" fill="#004cff"/><ellipse cx="233.2" cy="267.2" rx="2.0" ry="1.5" fill="#00f5ff"/><ellipse cx="100.1" cy="247.8" rx="2.0" ry="1.5" fill="#a4ff5b"/><ellipse cx="154.2" cy="208.5" rx="2.0" ry="1.5" fill="#ef0000"/><ellipse cx="155.7" cy="293.6" rx="2.0" ry="1.5" fill="#000fff"/><ellipse cx="41.8" cy="240.8" rx="2.0" ry="1.5" fill="#fff800"/><ellipse cx="215.7" cy="259.7" rx="2.0" ry="1.5" fill="#13ffec"/><ellipse cx="172.7" cy="212.3" rx="2.0" ry="1.5" fill="#bb0000"/><ellipse cx="71.4" cy="203.7" rx="2.0" ry="1.5" fill="#ff3200"/><ellipse cx="66.2" cy="283.4" rx="2.0" ry="1.5" fill="#000087"/><ellipse cx="110.8" cy="291.3" rx="2.0" ry="1.5" fill="#0000d6"/><ellipse cx="30.2" cy="237.9" rx="2.0" ry="1.5" fill="#ffda00"/><ellipse cx="151.9" cy="208.3" rx="2.0" ry="1.5" fill="#f10000"/><ellipse cx="168.1" cy="211.3" rx="2.0" ry="1.5" fill="#e70000"/><ellipse cx="178.1" cy="213.8" rx="2.0" ry="1.5" fill="#850000"/><ellipse cx="221.6" cy="261.6" rx="2.0" ry="1.5" fill="#0efff1"/><ellipse cx="207.9" cy="290.7" rx="2.0" ry="1.5" fill="#0044ff"/><ellipse cx="126.7" cy="293.0" rx="2.0" ry="1.5" fill="#0000e8"/><ellipse cx="211.5" cy="258.5" rx="2.0" ry="1.5" fill="#19ffe6"/><ellipse cx="61.7" cy="244.7" rx="2.0" ry="1.5" fill="#dcff23"/><ellipse cx="171.6" cy="251.7" rx="2.0" ry="1.5" fill="#47ffb8"/><ellipse cx="167.7" cy="294.2" rx="2.0" ry="1.5" fill="#0018ff"/><ellipse cx="170.8" cy="294.2" rx="2.0" ry="1.5" fill="#001bff"/><ellipse cx="194.2" cy="254.9" rx="2.0" ry="1.5" fill="#29ffd6"/><ellipse cx="155.5" cy="294.4" rx="2.0" ry="1.5" fill="#000cff"/><ellipse cx="83.1" cy="247.4" rx="2.0" ry="1.5" fill="#bdff42"/><ellipse cx="179.8" cy="214.3" rx="2.0" ry="1.5" fill="#850000"/><ellipse cx="141.2" cy="207.4" rx="2.0" ry="1.5" fill="#f70000"/><ellipse cx="186.2" cy="253.9" rx="2.0" ry="1.5" fill="#34ffcb"/><ellipse cx="75.1" cy="204.9" rx="2.0" ry="1.5" fill="#ff3300"/><ellipse cx="230.8" cy="264.9" rx="2.0" ry="1.5" fill="#06fff9"/><ellipse cx="133.2" cy="294.2" rx="2.0" ry="1.5" fill="#0000ed"/><ellipse cx="105.8" cy="249.5" rx="2.0" ry="1.5" fill="#a3ff5c"/><ellipse cx="223.8" cy="262.2" rx="2.0" ry="1.5" fill="#10ffef"/><ellipse cx="236.4" cy="267.6" rx="2.0" ry="1.5" fill="#00fbff"/><ellipse cx="129.8" cy="250.1" rx="2.0" ry="1.5" fill="#86ff79"/><ellipse cx="94.4" cy="205.0" rx="2.0" ry="1.5" fill="#ff0400"/><ellipse cx="99.4" cy="205.1" rx="2.0" ry="1.5" fill="#ff0300"/><ellipse cx="105.2" cy="249.7" rx="2.0" ry="1.5" fill="#a5ff5a"/><ellipse cx="32.8" cy="238.8" rx="2.0" ry="1.5" fill="#ffd700"/><ellipse cx="190.1" cy="294.6" rx="2.0" ry="1.5" fill="#002bff"/><ellipse cx="183.4" cy="215.5" rx="2.0" ry="1.5" fill="#840000"/><ellipse cx="172.5" cy="295.5" rx="2.0" ry="1.5" fill="#0019ff"/><ellipse cx="155.1" cy="295.5" rx="2.0" ry="1.5" fill="#0007ff"/><ellipse cx="72.6" cy="285.4" rx="2.0" ry="1.5" fill="#00008d"/><ellipse cx="181.0" cy="295.2" rx="2.0" ry="1.5" fill="#0021ff"/><ellipse cx="73.2" cy="285.5" rx="2.0" ry="1.5" fill="#000095"/><ellipse cx="84.3" cy="205.5" rx="2.0" ry="1.5" fill="#ff1a00"/><ellipse cx="212.8" cy="259.2" rx="2.0" ry="1.5" fill="#1dffe2"/><ellipse cx="139.4" cy="295.3" rx="2.0" ry="1.5" fill="#0000f1"/><ellipse cx="168.7" cy="212.2" rx="2.0" ry="1.5" fill="#eb0000"/><ellipse cx="193.5" cy="255.6" rx="2.0" ry="1.5" fill="#2fffd0"/><ellipse cx="77.0" cy="206.2" rx="2.0" ry="1.5" fill="#ff3a00"/><ellipse cx="131.2" cy="294.9" rx="2.0" ry="1.5" fill="#0000e6"/><ellipse cx="35.5" cy="239.6" rx="2.0" ry="1.5" fill="#ffd700"/><ellipse cx="45.5" cy="242.4" rx="2.0" ry="1.5" fill="#ffec00"/><ellipse cx="232.5" cy="265.2" rx="2.0" ry="1.5" fill="#09fff6"/><ellipse cx="171.9" cy="253.1" rx="2.0" ry="1.5" fill="#50ffaf"/><ellipse cx="61.4" cy="245.6" rx="2.0" ry="1.5" fill="#ecff13"/><ellipse cx="157.8" cy="210.5" rx="2.0" ry="1.5" fill="#f20000"/><ellipse cx="186.4" cy="216.4" rx="2.0" ry="1.5" fill="#830000"/><ellipse cx="118.6" cy="206.7" rx="2.0" ry="1.5" fill="#fe0000"/><ellipse cx="98.3" cy="291.2" rx="2.0" ry="1.5" fill="#0000ba"/><ellipse cx="53.5" cy="244.2" rx="2.0" ry="1.5" fill="#fffe00"/><ellipse cx="101.5" cy="206.3" rx="2.0" ry="1.5" fill="#ff0300"/><ellipse cx="205.3" cy="257.9" rx="2.0" ry="1.5" fill="#26ffd9"/><ellipse cx="80.8" cy="287.7" rx="2.0" ry="1.5" fill="#0000a3"/><ellipse cx="75.8" cy="286.4" rx="2.0" ry="1.5" fill="#000087"/><ellipse cx="66.7" cy="246.7" rx="2.0" ry="1.5" fill="#e3ff1c"/><ellipse cx="147.5" cy="296.4" rx="2.0" ry="1.5" fill="#0000f8"/><ellipse cx="145.5" cy="209.2" rx="2.0" ry="1.5" fill="#f70000"/><ellipse cx="104.7" cy="206.6" rx="2.0" ry="1.5" fill="#ff0200"/><ellipse cx="51.9" cy="209.5" rx="2.0" ry="1.5" fill="#ff5700"/><ellipse cx="105.7" cy="292.6" rx="2.0" ry="1.5" fill="#0000c1"/><ellipse cx="130.7" cy="295.5" rx="2.0" ry="1.5" fill="#0000e2"/><ellipse cx="175.8" cy="214.0" rx="2.0" ry="1.5" fill="#e80000"/><ellipse cx="92.4" cy="206.9" rx="2.0" ry="1.5" fill="#ff0e00"/><ellipse cx="158.7" cy="252.8" rx="2.0" ry="1.5" fill="#66ff99"/><ellipse cx="180.1" cy="254.6" rx="2.0" ry="1.5" fill="#48ffb7"/><ellipse cx="39.7" cy="241.0" rx="2.0" ry="1.5" fill="#ffd800"/><ellipse cx="35.8" cy="239.7" rx="2.0" ry="1.5" fill="#ffd400"/><ellipse cx="154.8" cy="252.7" rx="2.0" ry="1.5" fill="#6cff93"/><ellipse cx="155.8" cy="297.2" rx="2.0" ry="1.5" fill="#0000ff"/><ellipse cx="46.1" cy="242.8" rx="2.0" ry="1.5" fill="#ffe300"/><ellipse cx="134.3" cy="252.3" rx="2.0" ry="1.5" fill="#89ff76"/><ellipse cx="109.5" cy="207.3" rx="2.0" ry="1.5" fill="#ff0200"/><ellipse cx="185.2" cy="255.3" rx="2.0" ry="1.5" fill="#42ffbd"/><ellipse cx="85.0" cy="288.9" rx="2.0" ry="1.5" fill="#0000a5"/><ellipse cx="157.8" cy="211.1" rx="2.0" ry="1.5" fill="#f40000"/><ellipse cx="104.4" cy="251.4" rx="2.0" ry="1.5" fill="#afff50"/><ellipse cx="186.4" cy="216.6" rx="2.0" ry="1.5" fill="#ab0000"/><ellipse cx="144.6" cy="252.6" rx="2.0" ry="1.5" fill="#7cff83"/><ellipse cx="190.1" cy="217.6" rx="2.0" ry="1.5" fill="#850000"/><ellipse cx="182.0" cy="297.6" rx="2.0" ry="1.5" fill="#001cff"/><ellipse cx="57.8" cy="210.0" rx="2.0" ry="1.5" fill="#ff5500"/><ellipse cx="74.2" cy="248.5" rx="2.0" ry="1.5" fill="#dbff24"/><ellipse cx="79.8" cy="287.7" rx="2.0" ry="1.5" fill="#000083"/><ellipse cx="82.3" cy="288.4" rx="2.0" ry="1.5" fill="#00009f"/><ellipse cx="19.3" cy="229.1" rx="2.0" ry="1.5" fill="#ffa900"/><ellipse cx="20.4" cy="230.6" rx="2.0" ry="1.5" fill="#ffb400"/><ellipse cx="187.6" cy="256.0" rx="2.0" ry="1.5" fill="#42ffbd"/><ellipse cx="124.1" cy="253.0" rx="2.0" ry="1.5" fill="#99ff66"/><ellipse cx="58.9" cy="210.6" rx="2.0" ry="1.5" fill="#ff5500"/><ellipse cx="128.3" cy="253.2" rx="2.0" ry="1.5" fill="#95ff6a"/><ellipse cx="157.2" cy="298.2" rx="2.0" ry="1.5" fill="#0000fd"/><ellipse cx="22.6" cy="232.1" rx="2.0" ry="1.5" fill="#ffb800"/><ellipse cx="30.8" cy="237.4" rx="2.0" ry="1.5" fill="#ffc800"/><ellipse cx="109.7" cy="294.1" rx="2.0" ry="1.5" fill="#0000c0"/><ellipse cx="106.4" cy="252.3" rx="2.0" ry="1.5" fill="#b0ff4f"/><ellipse cx="172.0" cy="298.6" rx="2.0" ry="1.5" fill="#0010ff"/><ellipse cx="166.4" cy="254.4" rx="2.0" ry="1.5" fill="#62ff9d"/><ellipse cx="36.6" cy="215.5" rx="2.0" ry="1.5" fill="#ff6200"/><ellipse cx="80.2" cy="249.8" rx="2.0" ry="1.5" fill="#d3ff2c"/><ellipse cx="115.3" cy="208.6" rx="2.0" ry="1.5" fill="#ff0100"/><ellipse cx="213.2" cy="260.3" rx="2.0" ry="1.5" fill="#25ffda"/><ellipse cx="132.6" cy="297.1" rx="2.0" ry="1.5" fill="#0000dc"/><ellipse cx="119.8" cy="209.0" rx="2.0" ry="1.5" fill="#ff0000"/><ellipse cx="26.0" cy="234.1" rx="2.0" ry="1.5" fill="#ffbc00"/><ellipse cx="112.9" cy="294.8" rx="2.0" ry="1.5" fill="#0000c2"/><ellipse cx="100.8" cy="292.8" rx="2.0" ry="1.5" fill="#0000b1"/><ellipse cx="89.0" cy="209.2" rx="2.0" ry="1.5" fill="#ff3100"/><ellipse cx="68.8" cy="248.2" rx="2.0" ry="1.5" fill="#f0ff0f"/><ellipse cx="65.2" cy="247.6" rx="2.0" ry="1.5" fill="#f9ff06"/><ellipse cx="224.2" cy="262.8" rx="2.0" ry="1.5" fill="#1dffe2"/><ellipse cx="84.0" cy="289.0" rx="2.0" ry="1.5" fill="#000083"/><ellipse cx="123.6" cy="296.4" rx="2.0" ry="1.5" fill="#0000cf"/><ellipse cx="50.8" cy="213.5" rx="2.0" ry="1.5" fill="#ff5b00"/><ellipse cx="82.9" cy="250.6" rx="2.0" ry="1.5" fill="#d3ff2c"/><ellipse cx="23.6" cy="229.7" rx="2.0" ry="1.5" fill="#ff9e00"/><ellipse cx="186.4" cy="217.1" rx="2.0" ry="1.5" fill="#e70000"/><ellipse cx="175.6" cy="215.0" rx="2.0" ry="1.5" fill="#ee0000"/><ellipse cx="95.1" cy="291.8" rx="2.0" ry="1.5" fill="#0000a9"/><ellipse cx="164.3" cy="299.6" rx="2.0" ry="1.5" fill="#0001ff"/><ellipse cx="62.8" cy="212.1" rx="2.0" ry="1.5" fill="#ff5600"/><ellipse cx="106.9" cy="253.3" rx="2.0" ry="1.5" fill="#b4ff4b"/><ellipse cx="44.2" cy="215.5" rx="2.0" ry="1.5" fill="#ff6000"/><ellipse cx="85.6" cy="251.1" rx="2.0" ry="1.5" fill="#d0ff2f"/><ellipse cx="112.8" cy="253.7" rx="2.0" ry="1.5" fill="#adff52"/><ellipse cx="204.1" cy="259.2" rx="2.0" ry="1.5" fill="#31ffce"/><ellipse cx="79.8" cy="210.5" rx="2.0" ry="1.5" fill="#ff4e00"/><ellipse cx="27.9" cy="222.5" rx="2.0" ry="1.5" fill="#ff6e00"/><ellipse cx="214.5" cy="261.0" rx="2.0" ry="1.5" fill="#27ffd8"/><ellipse cx="197.9" cy="220.0" rx="2.0" ry="1.5" fill="#840000"/><ellipse cx="29.4" cy="222.2" rx="2.0" ry="1.5" fill="#ff6d00"/><ellipse cx="203.6" cy="259.3" rx="2.0" ry="1.5" fill="#33ffcc"/><ellipse cx="194.0" cy="258.1" rx="2.0" ry="1.5" fill="#42ffbd"/><ellipse cx="86.9" cy="289.9" rx="2.0" ry="1.5" fill="#000083"/><ellipse cx="190.9" cy="257.8" rx="2.0" ry="1.5" fill="#47ffb8"/><ellipse cx="132.7" cy="210.9" rx="2.0" ry="1.5" fill="#fd0000"/><ellipse cx="40.7" cy="241.0" rx="2.0" ry="1.5" fill="#ffcd00"/><ellipse cx="134.5" cy="255.3" rx="2.0" ry="1.5" fill="#95ff6a"/><ellipse cx="157.9" cy="213.0" rx="2.0" ry="1.5" fill="#f70000"/><ellipse cx="26.8" cy="227.8" rx="2.0" ry="1.5" fill="#ff7b00"/><ellipse cx="46.6" cy="243.1" rx="2.0" ry="1.5" fill="#ffd300"/><ellipse cx="44.4" cy="242.3" rx="2.0" ry="1.5" fill="#ffd000"/><ellipse cx="35.3" cy="238.2" rx="2.0" ry="1.5" fill="#ffc300"/><ellipse cx="95.4" cy="210.9" rx="2.0" ry="1.5" fill="#ff2e00"/><ellipse cx="65.9" cy="213.3" rx="2.0" ry="1.5" fill="#ff5600"/><ellipse cx="191.3" cy="218.6" rx="2.0" ry="1.5" fill="#e60000"/><ellipse cx="100.3" cy="293.4" rx="2.0" ry="1.5" fill="#0000aa"/><ellipse cx="91.3" cy="211.2" rx="2.0" ry="1.5" fill="#ff3e00"/><ellipse cx="200.8" cy="221.0" rx="2.0" ry="1.5" fill="#840000"/><ellipse cx="151.4" cy="256.0" rx="2.0" ry="1.5" fill="#81ff7e"/><ellipse cx="30.4" cy="224.9" rx="2.0" ry="1.5" fill="#ff7000"/><ellipse cx="34.3" cy="237.4" rx="2.0" ry="1.5" fill="#ffc000"/><ellipse cx="193.4" cy="219.1" rx="2.0" ry="1.5" fill="#e60000"/><ellipse cx="100.1" cy="211.2" rx="2.0" ry="1.5" fill="#ff2200"/><ellipse cx="51.3" cy="216.6" rx="2.0" ry="1.5" fill="#ff5e00"/><ellipse cx="150.9" cy="212.8" rx="2.0" ry="1.5" fill="#fa0000"/><ellipse cx="203.3" cy="221.7" rx="2.0" ry="1.5" fill="#800000"/><ellipse cx="134.5" cy="256.4" rx="2.0" ry="1.5" fill="#9aff65"/><ellipse cx="29.9" cy="230.3" rx="2.0" ry="1.5" fill="#ff8d00"/><ellipse cx="164.2" cy="214.4" rx="2.0" ry="1.5" fill="#f60000"/><ellipse cx="158.9" cy="256.7" rx="2.0" ry="1.5" fill="#7aff85"/><ellipse cx="161.8" cy="214.2" rx="2.0" ry="1.5" fill="#f70000"/><ellipse cx="118.0" cy="211.5" rx="2.0" ry="1.5" fill="#ff0300"/><ellipse cx="90.4" cy="252.9" rx="2.0" ry="1.5" fill="#d3ff2c"/><ellipse cx="91.3" cy="253.1" rx="2.0" ry="1.5" fill="#d1ff2e"/><ellipse cx="70.6" cy="249.7" rx="2.0" ry="1.5" fill="#fffe00"/><ellipse cx="102.3" cy="294.1" rx="2.0" ry="1.5" fill="#0000a9"/><ellipse cx="71.9" cy="249.9" rx="2.0" ry="1.5" fill="#feff01"/><ellipse cx="92.8" cy="291.7" rx="2.0" ry="1.5" fill="#000086"/><ellipse cx="53.9" cy="217.4" rx="2.0" ry="1.5" fill="#ff5e00"/><ellipse cx="149.3" cy="300.8" rx="2.0" ry="1.5" fill="#0000e5"/><ellipse cx="137.3" cy="299.8" rx="2.0" ry="1.5" fill="#0000d5"/><ellipse cx="109.6" cy="295.7" rx="2.0" ry="1.5" fill="#0000b0"/><ellipse cx="41.0" cy="240.4" rx="2.0" ry="1.5" fill="#ffc600"/><ellipse cx="51.5" cy="244.7" rx="2.0" ry="1.5" fill="#ffd300"/><ellipse cx="165.8" cy="257.6" rx="2.0" ry="1.5" fill="#73ff8c"/><ellipse cx="73.3" cy="214.6" rx="2.0" ry="1.5" fill="#ff5500"/><ellipse cx="167.7" cy="215.4" rx="2.0" ry="1.5" fill="#f60000"/><ellipse cx="33.1" cy="232.9" rx="2.0" ry="1.5" fill="#ffa100"/><ellipse cx="117.3" cy="212.3" rx="2.0" ry="1.5" fill="#ff0400"/><ellipse cx="127.2" cy="298.8" rx="2.0" ry="1.5" fill="#0000c6"/><ellipse cx="37.0" cy="225.0" rx="2.0" ry="1.5" fill="#ff6e00"/><ellipse cx="43.1" cy="241.1" rx="2.0" ry="1.5" fill="#ffc700"/><ellipse cx="110.2" cy="296.0" rx="2.0" ry="1.5" fill="#0000af"/><ellipse cx="107.8" cy="212.5" rx="2.0" ry="1.5" fill="#ff1600"/><ellipse cx="119.4" cy="256.5" rx="2.0" ry="1.5" fill="#b1ff4e"/><ellipse cx="170.4" cy="258.1" rx="2.0" ry="1.5" fill="#6fff90"/><ellipse cx="142.5" cy="213.3" rx="2.0" ry="1.5" fill="#fd0000"/><ellipse cx="100.0" cy="254.8" rx="2.0" ry="1.5" fill="#caff35"/><ellipse cx="61.9" cy="217.0" rx="2.0" ry="1.5" fill="#ff5b00"/><ellipse cx="198.2" cy="260.4" rx="2.0" ry="1.5" fill="#49ffb6"/><ellipse cx="124.8" cy="213.0" rx="2.0" ry="1.5" fill="#ff0200"/><ellipse cx="172.2" cy="258.6" rx="2.0" ry="1.5" fill="#6eff91"/><ellipse cx="208.9" cy="223.5" rx="2.0" ry="1.5" fill="#800000"/><ellipse cx="118.9" cy="257.0" rx="2.0" ry="1.5" fill="#b4ff4b"/><ellipse cx="38.3" cy="227.2" rx="2.0" ry="1.5" fill="#ff7000"/><ellipse cx="137.0" cy="258.2" rx="2.0" ry="1.5" fill="#9eff61"/><ellipse cx="68.2" cy="217.0" rx="2.0" ry="1.5" fill="#ff5900"/><ellipse cx="98.5" cy="293.6" rx="2.0" ry="1.5" fill="#00008d"/><ellipse cx="158.0" cy="302.7" rx="2.0" ry="1.5" fill="#0000e9"/><ellipse cx="37.5" cy="230.1" rx="2.0" ry="1.5" fill="#ff7400"/><ellipse cx="79.6" cy="252.2" rx="2.0" ry="1.5" fill="#faff05"/><ellipse cx="66.7" cy="217.8" rx="2.0" ry="1.5" fill="#ff5a00"/><ellipse cx="130.3" cy="213.8" rx="2.0" ry="1.5" fill="#ff0200"/><ellipse cx="182.8" cy="259.8" rx="2.0" ry="1.5" fill="#63ff9c"/><ellipse cx="41.2" cy="226.4" rx="2.0" ry="1.5" fill="#ff6e00"/><ellipse cx="183.0" cy="218.4" rx="2.0" ry="1.5" fill="#f20000"/><ellipse cx="193.3" cy="220.1" rx="2.0" ry="1.5" fill="#ec0000"/><ellipse cx="211.1" cy="224.2" rx="2.0" ry="1.5" fill="#820000"/><ellipse cx="72.4" cy="250.7" rx="2.0" ry="1.5" fill="#fff000"/><ellipse cx="121.3" cy="213.9" rx="2.0" ry="1.5" fill="#ff0400"/><ellipse cx="81.3" cy="252.6" rx="2.0" ry="1.5" fill="#f8ff07"/><ellipse cx="50.6" cy="243.9" rx="2.0" ry="1.5" fill="#ffca00"/><ellipse cx="142.9" cy="301.8" rx="2.0" ry="1.5" fill="#0000d4"/><ellipse cx="174.1" cy="259.6" rx="2.0" ry="1.5" fill="#70ff8f"/><ellipse cx="89.6" cy="215.3" rx="2.0" ry="1.5" fill="#ff5000"/><ellipse cx="54.7" cy="221.3" rx="2.0" ry="1.5" fill="#ff6200"/><ellipse cx="109.3" cy="256.8" rx="2.0" ry="1.5" fill="#c4ff3b"/><ellipse cx="200.5" cy="221.7" rx="2.0" ry="1.5" fill="#e70000"/><ellipse cx="140.4" cy="259.1" rx="2.0" ry="1.5" fill="#9dff62"/><ellipse cx="39.6" cy="235.2" rx="2.0" ry="1.5" fill="#ffa400"/><ellipse cx="211.9" cy="224.5" rx="2.0" ry="1.5" fill="#850000"/><ellipse cx="98.2" cy="215.0" rx="2.0" ry="1.5" fill="#ff4d00"/><ellipse cx="100.8" cy="294.3" rx="2.0" ry="1.5" fill="#000081"/><ellipse cx="193.5" cy="220.4" rx="2.0" ry="1.5" fill="#ed0000"/><ellipse cx="78.3" cy="217.0" rx="2.0" ry="1.5" fill="#ff5600"/><ellipse cx="108.0" cy="296.2" rx="2.0" ry="1.5" fill="#0000a4"/><ellipse cx="50.7" cy="223.9" rx="2.0" ry="1.5" fill="#ff6700"/><ellipse cx="90.7" cy="216.0" rx="2.0" ry="1.5" fill="#ff5000"/><ellipse cx="134.1" cy="301.2" rx="2.0" ry="1.5" fill="#0000c5"/><ellipse cx="56.0" cy="245.8" rx="2.0" ry="1.5" fill="#ffce00"/><ellipse cx="98.8" cy="256.0" rx="2.0" ry="1.5" fill="#d8ff27"/><ellipse cx="131.1" cy="300.8" rx="2.0" ry="1.5" fill="#0000c0"/><ellipse cx="165.6" cy="216.9" rx="2.0" ry="1.5" fill="#f90000"/><ellipse cx="145.4" cy="260.0" rx="2.0" ry="1.5" fill="#9aff65"/><ellipse cx="197.6" cy="261.9" rx="2.0" ry="1.5" fill="#54ffab"/><ellipse cx="61.4" cy="247.8" rx="2.0" ry="1.5" fill="#ffd400"/><ellipse cx="53.2" cy="244.6" rx="2.0" ry="1.5" fill="#ffc900"/><ellipse cx="124.2" cy="299.8" rx="2.0" ry="1.5" fill="#0000b6"/><ellipse cx="42.0" cy="234.4" rx="2.0" ry="1.5" fill="#ff9000"/><ellipse cx="124.4" cy="299.8" rx="2.0" ry="1.5" fill="#0000b6"/><ellipse cx="45.4" cy="228.3" rx="2.0" ry="1.5" fill="#ff6e00"/><ellipse cx="52.7" cy="244.2" rx="2.0" ry="1.5" fill="#ffc700"/><ellipse cx="183.6" cy="219.3" rx="2.0" ry="1.5" fill="#f40000"/><ellipse cx="212.2" cy="224.7" rx="2.0" ry="1.5" fill="#ac0000"/><ellipse cx="44.5" cy="238.2" rx="2.0" ry="1.5" fill="#ffb400"/><ellipse cx="215.8" cy="225.7" rx="2.0" ry="1.5" fill="#850000"/><ellipse cx="152.9" cy="216.4" rx="2.0" ry="1.5" fill="#fd0000"/><ellipse cx="122.9" cy="215.6" rx="2.0" ry="1.5" fill="#ff0500"/><ellipse cx="63.9" cy="221.5" rx="2.0" ry="1.5" fill="#ff5f00"/><ellipse cx="144.0" cy="216.0" rx="2.0" ry="1.5" fill="#ff0000"/><ellipse cx="193.3" cy="262.0" rx="2.0" ry="1.5" fill="#5dffa2"/><ellipse cx="191.5" cy="261.9" rx="2.0" ry="1.5" fill="#60ff9f"/><ellipse cx="105.4" cy="295.7" rx="2.0" ry="1.5" fill="#000081"/><ellipse cx="89.1" cy="254.9" rx="2.0" ry="1.5" fill="#f4ff0b"/><ellipse cx="45.7" cy="238.4" rx="2.0" ry="1.5" fill="#ffb400"/><ellipse cx="118.0" cy="216.1" rx="2.0" ry="1.5" fill="#ff1a00"/><ellipse cx="184.9" cy="261.8" rx="2.0" ry="1.5" fill="#6aff95"/><ellipse cx="45.3" cy="236.7" rx="2.0" ry="1.5" fill="#ffa000"/><ellipse cx="132.9" cy="216.2" rx="2.0" ry="1.5" fill="#ff0300"/><ellipse cx="153.1" cy="261.3" rx="2.0" ry="1.5" fill="#96ff69"/><ellipse cx="132.6" cy="260.4" rx="2.0" ry="1.5" fill="#afff50"/><ellipse cx="117.0" cy="259.1" rx="2.0" ry="1.5" fill="#c3ff3c"/><ellipse cx="122.9" cy="259.6" rx="2.0" ry="1.5" fill="#bbff44"/><ellipse cx="188.5" cy="220.5" rx="2.0" ry="1.5" fill="#f30000"/><ellipse cx="191.9" cy="221.0" rx="2.0" ry="1.5" fill="#f10000"/><ellipse cx="145.4" cy="303.6" rx="2.0" ry="1.5" fill="#0000cd"/><ellipse cx="157.8" cy="261.6" rx="2.0" ry="1.5" fill="#91ff6e"/><ellipse cx="67.0" cy="249.6" rx="2.0" ry="1.5" fill="#ffd500"/><ellipse cx="85.5" cy="219.2" rx="2.0" ry="1.5" fill="#ff5600"/><ellipse cx="48.2" cy="231.5" rx="2.0" ry="1.5" fill="#ff7200"/><ellipse cx="168.1" cy="218.4" rx="2.0" ry="1.5" fill="#fa0000"/><ellipse cx="60.5" cy="224.8" rx="2.0" ry="1.5" fill="#ff6400"/><ellipse cx="79.5" cy="253.1" rx="2.0" ry="1.5" fill="#ffea00"/><ellipse cx="73.7" cy="221.5" rx="2.0" ry="1.5" fill="#ff5c00"/><ellipse cx="47.2" cy="235.6" rx="2.0" ry="1.5" fill="#ff8b00"/><ellipse cx="165.9" cy="218.4" rx="2.0" ry="1.5" fill="#fa0000"/><ellipse cx="111.1" cy="297.5" rx="2.0" ry="1.5" fill="#00009f"/><ellipse cx="193.2" cy="263.0" rx="2.0" ry="1.5" fill="#63ff9c"/><ellipse cx="53.7" cy="228.5" rx="2.0" ry="1.5" fill="#ff6b00"/><ellipse cx="110.3" cy="297.3" rx="2.0" ry="1.5" fill="#00008f"/><ellipse cx="151.3" cy="217.7" rx="2.0" ry="1.5" fill="#fe0000"/><ellipse cx="123.3" cy="217.4" rx="2.0" ry="1.5" fill="#ff1600"/><ellipse cx="222.7" cy="227.9" rx="2.0" ry="1.5" fill="#800000"/><ellipse cx="131.2" cy="217.6" rx="2.0" ry="1.5" fill="#ff0500"/><ellipse cx="60.0" cy="227.2" rx="2.0" ry="1.5" fill="#ff6700"/><ellipse cx="50.4" cy="237.9" rx="2.0" ry="1.5" fill="#ff9a00"/><ellipse cx="102.8" cy="258.1" rx="2.0" ry="1.5" fill="#e3ff1c"/><ellipse cx="191.6" cy="221.8" rx="2.0" ry="1.5" fill="#f40000"/><ellipse cx="112.8" cy="298.1" rx="2.0" ry="1.5" fill="#000092"/><ellipse cx="152.7" cy="218.3" rx="2.0" ry="1.5" fill="#fe0000"/><ellipse cx="62.2" cy="247.5" rx="2.0" ry="1.5" fill="#ffc900"/><ellipse cx="91.4" cy="220.3" rx="2.0" ry="1.5" fill="#ff5500"/><ellipse cx="51.9" cy="239.5" rx="2.0" ry="1.5" fill="#ffa900"/><ellipse cx="53.3" cy="240.8" rx="2.0" ry="1.5" fill="#ffb400"/><ellipse cx="225.0" cy="228.6" rx="2.0" ry="1.5" fill="#830000"/><ellipse cx="105.9" cy="219.4" rx="2.0" ry="1.5" fill="#ff4f00"/><ellipse cx="164.3" cy="219.3" rx="2.0" ry="1.5" fill="#fc0000"/><ellipse cx="80.9" cy="222.7" rx="2.0" ry="1.5" fill="#ff5b00"/><ellipse cx="67.1" cy="249.3" rx="2.0" ry="1.5" fill="#ffcd00"/><ellipse cx="205.7" cy="224.4" rx="2.0" ry="1.5" fill="#ed0000"/><ellipse cx="69.7" cy="225.8" rx="2.0" ry="1.5" fill="#ff6200"/><ellipse cx="158.7" cy="263.7" rx="2.0" ry="1.5" fill="#99ff66"/><ellipse cx="59.1" cy="245.1" rx="2.0" ry="1.5" fill="#ffbf00"/><ellipse cx="54.9" cy="241.3" rx="2.0" ry="1.5" fill="#ffb300"/><ellipse cx="207.3" cy="224.8" rx="2.0" ry="1.5" fill="#ed0000"/><ellipse cx="217.7" cy="226.9" rx="2.0" ry="1.5" fill="#e60000"/><ellipse cx="84.6" cy="254.9" rx="2.0" ry="1.5" fill="#ffe600"/><ellipse cx="62.6" cy="229.8" rx="2.0" ry="1.5" fill="#ff6900"/><ellipse cx="223.7" cy="228.4" rx="2.0" ry="1.5" fill="#b60000"/><ellipse cx="73.7" cy="251.7" rx="2.0" ry="1.5" fill="#ffd200"/><ellipse cx="90.6" cy="222.5" rx="2.0" ry="1.5" fill="#ff5700"/><ellipse cx="120.7" cy="300.4" rx="2.0" ry="1.5" fill="#0000a1"/><ellipse cx="193.1" cy="222.9" rx="2.0" ry="1.5" fill="#f60000"/><ellipse cx="105.6" cy="259.4" rx="2.0" ry="1.5" fill="#e9ff16"/><ellipse cx="89.3" cy="256.1" rx="2.0" ry="1.5" fill="#ffee00"/><ellipse cx="79.8" cy="224.8" rx="2.0" ry="1.5" fill="#ff5e00"/><ellipse cx="151.4" cy="264.2" rx="2.0" ry="1.5" fill="#a5ff5a"/><ellipse cx="123.6" cy="262.0" rx="2.0" ry="1.5" fill="#c8ff37"/><ellipse cx="56.6" cy="240.2" rx="2.0" ry="1.5" fill="#ff9e00"/><ellipse cx="130.9" cy="219.8" rx="2.0" ry="1.5" fill="#ff1600"/><ellipse cx="101.9" cy="221.9" rx="2.0" ry="1.5" fill="#ff5300"/><ellipse cx="125.9" cy="301.8" rx="2.0" ry="1.5" fill="#0000a5"/><ellipse cx="113.9" cy="261.0" rx="2.0" ry="1.5" fill="#daff25"/><ellipse cx="159.4" cy="265.0" rx="2.0" ry="1.5" fill="#9dff62"/><ellipse cx="67.6" cy="248.8" rx="2.0" ry="1.5" fill="#ffc600"/><ellipse cx="74.2" cy="251.7" rx="2.0" ry="1.5" fill="#ffcf00"/><ellipse cx="124.5" cy="301.5" rx="2.0" ry="1.5" fill="#0000a2"/><ellipse cx="63.1" cy="246.0" rx="2.0" ry="1.5" fill="#ffbd00"/><ellipse cx="120.3" cy="300.5" rx="2.0" ry="1.5" fill="#000084"/><ellipse cx="63.3" cy="232.9" rx="2.0" ry="1.5" fill="#ff6d00"/><ellipse cx="59.8" cy="241.6" rx="2.0" ry="1.5" fill="#ffa400"/><ellipse cx="126.7" cy="263.1" rx="2.0" ry="1.5" fill="#c9ff36"/><ellipse cx="114.7" cy="221.9" rx="2.0" ry="1.5" fill="#ff4f00"/><ellipse cx="69.2" cy="230.8" rx="2.0" ry="1.5" fill="#ff6800"/><ellipse cx="125.3" cy="221.4" rx="2.0" ry="1.5" fill="#ff3900"/><ellipse cx="103.2" cy="223.1" rx="2.0" ry="1.5" fill="#ff5400"/><ellipse cx="88.8" cy="225.3" rx="2.0" ry="1.5" fill="#ff5b00"/><ellipse cx="216.9" cy="227.5" rx="2.0" ry="1.5" fill="#eb0000"/><ellipse cx="80.3" cy="227.2" rx="2.0" ry="1.5" fill="#ff6000"/><ellipse cx="137.7" cy="221.1" rx="2.0" ry="1.5" fill="#ff0d00"/><ellipse cx="123.2" cy="301.3" rx="2.0" ry="1.5" fill="#00008f"/><ellipse cx="156.1" cy="221.5" rx="2.0" ry="1.5" fill="#ff0100"/><ellipse cx="114.2" cy="222.6" rx="2.0" ry="1.5" fill="#ff5000"/><ellipse cx="93.6" cy="257.6" rx="2.0" ry="1.5" fill="#ffe900"/><ellipse cx="119.8" cy="262.6" rx="2.0" ry="1.5" fill="#d7ff28"/><ellipse cx="132.3" cy="264.2" rx="2.0" ry="1.5" fill="#c5ff3a"/><ellipse cx="189.8" cy="223.9" rx="2.0" ry="1.5" fill="#f80000"/><ellipse cx="73.1" cy="230.6" rx="2.0" ry="1.5" fill="#ff6600"/><ellipse cx="75.6" cy="251.9" rx="2.0" ry="1.5" fill="#ffcb00"/><ellipse cx="68.1" cy="247.7" rx="2.0" ry="1.5" fill="#ffbe00"/><ellipse cx="103.2" cy="259.9" rx="2.0" ry="1.5" fill="#fffe00"/><ellipse cx="196.2" cy="224.7" rx="2.0" ry="1.5" fill="#f70000"/><ellipse cx="64.6" cy="243.9" rx="2.0" ry="1.5" fill="#ffb000"/><ellipse cx="142.5" cy="222.0" rx="2.0" ry="1.5" fill="#ff0700"/><ellipse cx="63.8" cy="240.9" rx="2.0" ry="1.5" fill="#ff8c00"/><ellipse cx="162.1" cy="266.9" rx="2.0" ry="1.5" fill="#a2ff5d"/><ellipse cx="134.4" cy="265.2" rx="2.0" ry="1.5" fill="#c7ff38"/><ellipse cx="176.6" cy="223.7" rx="2.0" ry="1.5" fill="#fc0000"/><ellipse cx="116.2" cy="224.2" rx="2.0" ry="1.5" fill="#ff5100"/><ellipse cx="93.2" cy="227.5" rx="2.0" ry="1.5" fill="#ff5c00"/><ellipse cx="79.5" cy="253.1" rx="2.0" ry="1.5" fill="#ffcb00"/><ellipse cx="139.5" cy="266.0" rx="2.0" ry="1.5" fill="#c2ff3d"/><ellipse cx="67.3" cy="242.8" rx="2.0" ry="1.5" fill="#ff9600"/><ellipse cx="82.1" cy="254.1" rx="2.0" ry="1.5" fill="#ffce00"/><ellipse cx="73.2" cy="234.7" rx="2.0" ry="1.5" fill="#ff6b00"/><ellipse cx="175.5" cy="224.1" rx="2.0" ry="1.5" fill="#fd0000"/><ellipse cx="156.5" cy="223.5" rx="2.0" ry="1.5" fill="#ff0300"/><ellipse cx="105.3" cy="260.9" rx="2.0" ry="1.5" fill="#fff600"/><ellipse cx="73.7" cy="235.3" rx="2.0" ry="1.5" fill="#ff6c00"/><ellipse cx="146.2" cy="267.0" rx="2.0" ry="1.5" fill="#bbff44"/><ellipse cx="150.8" cy="267.4" rx="2.0" ry="1.5" fill="#b6ff49"/><ellipse cx="161.9" cy="223.8" rx="2.0" ry="1.5" fill="#ff0200"/><ellipse cx="71.4" cy="247.4" rx="2.0" ry="1.5" fill="#ffb700"/><ellipse cx="69.8" cy="244.9" rx="2.0" ry="1.5" fill="#ffa600"/><ellipse cx="73.7" cy="248.9" rx="2.0" ry="1.5" fill="#ffbb00"/><ellipse cx="158.8" cy="268.3" rx="2.0" ry="1.5" fill="#adff52"/><ellipse cx="123.6" cy="225.2" rx="2.0" ry="1.5" fill="#ff4f00"/><ellipse cx="88.6" cy="230.8" rx="2.0" ry="1.5" fill="#ff6100"/><ellipse cx="95.3" cy="258.5" rx="2.0" ry="1.5" fill="#ffd800"/><ellipse cx="144.8" cy="224.6" rx="2.0" ry="1.5" fill="#ff1a00"/><ellipse cx="75.7" cy="249.7" rx="2.0" ry="1.5" fill="#ffbc00"/><ellipse cx="201.5" cy="227.1" rx="2.0" ry="1.5" fill="#f80000"/><ellipse cx="117.4" cy="263.8" rx="2.0" ry="1.5" fill="#f3ff0c"/><ellipse cx="195.7" cy="226.6" rx="2.0" ry="1.5" fill="#f90000"/><ellipse cx="88.0" cy="256.0" rx="2.0" ry="1.5" fill="#ffcf00"/><ellipse cx="108.3" cy="262.0" rx="2.0" ry="1.5" fill="#fff200"/><ellipse cx="73.0" cy="244.8" rx="2.0" ry="1.5" fill="#ff9800"/><ellipse cx="91.0" cy="231.6" rx="2.0" ry="1.5" fill="#ff6100"/><ellipse cx="116.1" cy="227.1" rx="2.0" ry="1.5" fill="#ff5400"/><ellipse cx="88.6" cy="256.2" rx="2.0" ry="1.5" fill="#ffce00"/><ellipse cx="118.6" cy="264.2" rx="2.0" ry="1.5" fill="#f4ff0b"/><ellipse cx="132.6" cy="225.9" rx="2.0" ry="1.5" fill="#ff4d00"/><ellipse cx="78.8" cy="237.2" rx="2.0" ry="1.5" fill="#ff6c00"/><ellipse cx="99.1" cy="230.5" rx="2.0" ry="1.5" fill="#ff5d00"/><ellipse cx="83.4" cy="235.7" rx="2.0" ry="1.5" fill="#ff6900"/><ellipse cx="202.4" cy="228.0" rx="2.0" ry="1.5" fill="#f80000"/><ellipse cx="148.2" cy="268.9" rx="2.0" ry="1.5" fill="#c3ff3c"/><ellipse cx="194.6" cy="227.6" rx="2.0" ry="1.5" fill="#fb0000"/><ellipse cx="85.2" cy="254.1" rx="2.0" ry="1.5" fill="#ffc400"/><ellipse cx="77.3" cy="243.0" rx="2.0" ry="1.5" fill="#ff7500"/><ellipse cx="83.7" cy="237.5" rx="2.0" ry="1.5" fill="#ff6b00"/><ellipse cx="142.4" cy="226.8" rx="2.0" ry="1.5" fill="#ff3a00"/><ellipse cx="117.6" cy="228.9" rx="2.0" ry="1.5" fill="#ff5500"/><ellipse cx="170.0" cy="226.7" rx="2.0" ry="1.5" fill="#ff0200"/><ellipse cx="95.5" cy="233.8" rx="2.0" ry="1.5" fill="#ff6200"/><ellipse cx="100.5" cy="260.2" rx="2.0" ry="1.5" fill="#ffd600"/><ellipse cx="181.8" cy="227.3" rx="2.0" ry="1.5" fill="#fe0000"/><ellipse cx="82.6" cy="251.7" rx="2.0" ry="1.5" fill="#ffbb00"/><ellipse cx="80.4" cy="249.5" rx="2.0" ry="1.5" fill="#ffb400"/><ellipse cx="116.3" cy="264.4" rx="2.0" ry="1.5" fill="#fff700"/><ellipse cx="172.7" cy="227.1" rx="2.0" ry="1.5" fill="#ff0200"/><ellipse cx="133.5" cy="267.5" rx="2.0" ry="1.5" fill="#dfff20"/><ellipse cx="126.0" cy="228.7" rx="2.0" ry="1.5" fill="#ff5200"/><ellipse cx="140.1" cy="228.0" rx="2.0" ry="1.5" fill="#ff4d00"/><ellipse cx="152.0" cy="227.5" rx="2.0" ry="1.5" fill="#ff2100"/><ellipse cx="91.3" cy="256.5" rx="2.0" ry="1.5" fill="#ffc800"/><ellipse cx="93.3" cy="257.3" rx="2.0" ry="1.5" fill="#ffca00"/><ellipse cx="82.6" cy="243.0" rx="2.0" ry="1.5" fill="#ff7300"/><ellipse cx="90.6" cy="237.5" rx="2.0" ry="1.5" fill="#ff6800"/><ellipse cx="121.8" cy="265.8" rx="2.0" ry="1.5" fill="#fffe00"/><ellipse cx="92.8" cy="256.9" rx="2.0" ry="1.5" fill="#ffc700"/><ellipse cx="83.5" cy="244.4" rx="2.0" ry="1.5" fill="#ff7400"/><ellipse cx="100.5" cy="234.9" rx="2.0" ry="1.5" fill="#ff6100"/><ellipse cx="105.2" cy="261.7" rx="2.0" ry="1.5" fill="#ffd600"/><ellipse cx="105.7" cy="234.4" rx="2.0" ry="1.5" fill="#ff5f00"/><ellipse cx="92.5" cy="239.0" rx="2.0" ry="1.5" fill="#ff6900"/><ellipse cx="187.6" cy="229.3" rx="2.0" ry="1.5" fill="#fe0000"/><ellipse cx="85.7" cy="248.0" rx="2.0" ry="1.5" fill="#ff8d00"/><ellipse cx="120.2" cy="232.3" rx="2.0" ry="1.5" fill="#ff5800"/><ellipse cx="145.4" cy="229.7" rx="2.0" ry="1.5" fill="#ff4d00"/><ellipse cx="93.9" cy="256.8" rx="2.0" ry="1.5" fill="#ffc300"/><ellipse cx="93.3" cy="240.0" rx="2.0" ry="1.5" fill="#ff6a00"/><ellipse cx="127.5" cy="232.0" rx="2.0" ry="1.5" fill="#ff5500"/><ellipse cx="107.2" cy="262.3" rx="2.0" ry="1.5" fill="#ffd300"/><ellipse cx="150.1" cy="230.4" rx="2.0" ry="1.5" fill="#ff4500"/><ellipse cx="117.1" cy="265.3" rx="2.0" ry="1.5" fill="#ffe000"/><ellipse cx="88.9" cy="250.1" rx="2.0" ry="1.5" fill="#ff9b00"/><ellipse cx="109.4" cy="236.0" rx="2.0" ry="1.5" fill="#ff6000"/><ellipse cx="161.8" cy="230.1" rx="2.0" ry="1.5" fill="#ff1c00"/><ellipse cx="138.0" cy="231.5" rx="2.0" ry="1.5" fill="#ff5100"/><ellipse cx="97.9" cy="240.1" rx="2.0" ry="1.5" fill="#ff6800"/><ellipse cx="101.9" cy="238.8" rx="2.0" ry="1.5" fill="#ff6500"/><ellipse cx="96.6" cy="257.3" rx="2.0" ry="1.5" fill="#ffc100"/><ellipse cx="128.1" cy="233.2" rx="2.0" ry="1.5" fill="#ff5600"/><ellipse cx="121.7" cy="266.6" rx="2.0" ry="1.5" fill="#ffe300"/><ellipse cx="101.2" cy="259.1" rx="2.0" ry="1.5" fill="#ffc400"/><ellipse cx="160.3" cy="231.8" rx="2.0" ry="1.5" fill="#ff3300"/><ellipse cx="102.4" cy="241.6" rx="2.0" ry="1.5" fill="#ff6800"/><ellipse cx="95.0" cy="247.5" rx="2.0" ry="1.5" fill="#ff7300"/><ellipse cx="107.0" cy="261.7" rx="2.0" ry="1.5" fill="#ffca00"/><ellipse cx="125.7" cy="267.8" rx="2.0" ry="1.5" fill="#ffe700"/><ellipse cx="112.7" cy="264.0" rx="2.0" ry="1.5" fill="#ffd100"/><ellipse cx="102.7" cy="242.7" rx="2.0" ry="1.5" fill="#ff6a00"/><ellipse cx="163.2" cy="232.4" rx="2.0" ry="1.5" fill="#ff2f00"/><ellipse cx="110.6" cy="239.6" rx="2.0" ry="1.5" fill="#ff6300"/><ellipse cx="138.8" cy="234.4" rx="2.0" ry="1.5" fill="#ff5400"/><ellipse cx="96.8" cy="249.6" rx="2.0" ry="1.5" fill="#ff7700"/><ellipse cx="112.5" cy="240.1" rx="2.0" ry="1.5" fill="#ff6300"/><ellipse cx="124.6" cy="237.3" rx="2.0" ry="1.5" fill="#ff5c00"/><ellipse cx="98.1" cy="250.8" rx="2.0" ry="1.5" fill="#ff8100"/><ellipse cx="142.3" cy="234.9" rx="2.0" ry="1.5" fill="#ff5300"/><ellipse cx="99.8" cy="254.7" rx="2.0" ry="1.5" fill="#ffac00"/><ellipse cx="100.7" cy="248.1" rx="2.0" ry="1.5" fill="#ff7200"/><ellipse cx="162.8" cy="233.7" rx="2.0" ry="1.5" fill="#ff3e00"/><ellipse cx="104.0" cy="258.8" rx="2.0" ry="1.5" fill="#ffbc00"/><ellipse cx="113.7" cy="263.9" rx="2.0" ry="1.5" fill="#ffcc00"/><ellipse cx="118.0" cy="265.6" rx="2.0" ry="1.5" fill="#ffd000"/><ellipse cx="108.5" cy="244.9" rx="2.0" ry="1.5" fill="#ff6a00"/><ellipse cx="101.9" cy="253.6" rx="2.0" ry="1.5" fill="#ff9300"/><ellipse cx="153.3" cy="235.4" rx="2.0" ry="1.5" fill="#ff5000"/><ellipse cx="140.5" cy="236.9" rx="2.0" ry="1.5" fill="#ff5600"/><ellipse cx="157.4" cy="235.4" rx="2.0" ry="1.5" fill="#ff4f00"/><ellipse cx="104.1" cy="256.5" rx="2.0" ry="1.5" fill="#ffb200"/><ellipse cx="119.0" cy="241.7" rx="2.0" ry="1.5" fill="#ff6300"/><ellipse cx="109.5" cy="247.1" rx="2.0" ry="1.5" fill="#ff6c00"/><ellipse cx="113.4" cy="262.9" rx="2.0" ry="1.5" fill="#ffc300"/><ellipse cx="107.5" cy="257.9" rx="2.0" ry="1.5" fill="#ffb300"/><ellipse cx="120.6" cy="243.6" rx="2.0" ry="1.5" fill="#ff6400"/><ellipse cx="107.2" cy="252.6" rx="2.0" ry="1.5" fill="#ff7500"/><ellipse cx="109.2" cy="250.5" rx="2.0" ry="1.5" fill="#ff7100"/><ellipse cx="110.6" cy="252.0" rx="2.0" ry="1.5" fill="#ff7300"/><ellipse cx="111.6" cy="251.5" rx="2.0" ry="1.5" fill="#ff7200"/><ellipse cx="127.1" cy="243.6" rx="2.0" ry="1.5" fill="#ff6200"/><ellipse cx="124.1" cy="244.9" rx="2.0" ry="1.5" fill="#ff6400"/><ellipse cx="113.6" cy="259.9" rx="2.0" ry="1.5" fill="#ffb400"/><ellipse cx="112.4" cy="254.7" rx="2.0" ry="1.5" fill="#ff7900"/><ellipse cx="118.1" cy="249.9" rx="2.0" ry="1.5" fill="#ff6d00"/><ellipse cx="114.4" cy="257.0" rx="2.0" ry="1.5" fill="#ff8d00"/><ellipse cx="135.7" cy="243.9" rx="2.0" ry="1.5" fill="#ff5f00"/><ellipse cx="120.6" cy="250.5" rx="2.0" ry="1.5" fill="#ff6c00"/></g><g stroke="#b0b0b0" stroke-width="0.8" fill="none"><line x1="314.8" y1="282.2" x2="314.8" y2="211.2"/><line x1="404.9" y1="315.5" x2="314.8" y2="282.2"/><line x1="404.9" y1="315.5" x2="521.0" y2="290.1"/></g><path d="M314.8 282.2l-2.44 -0.90 M314.8 264.4l-2.44 -0.90 M314.8 246.7l-2.44 -0.90 M314.8 228.9l-2.44 -0.90 M314.8 211.2l-2.44 -0.90 M404.9 315.5l-2.54 0.56 M359.8 298.9l-2.54 0.56 M314.8 282.2l-2.54 0.56 M404.9 315.5l2.44 0.90 M433.9 309.1l2.44 0.90 M462.9 302.8l2.44 0.90 M492.0 296.4l2.44 0.90 M521.0 290.1l2.44 0.90" stroke="#444" stroke-width="0.7" fill="none"/><g><ellipse cx="425.0" cy="249.6" rx="2.0" ry="1.5" fill="#8e0000"/><ellipse cx="431.2" cy="242.3" rx="2.0" ry="1.5" fill="#8b0000"/><ellipse cx="409.9" cy="257.5" rx="2.0" ry="1.5" fill="#820000"/><ellipse cx="428.8" cy="251.1" rx="2.0" ry="1.5" fill="#ba0000"/><ellipse cx="434.4" cy="245.8" rx="2.0" ry="1.5" fill="#bb0000"/><ellipse cx="416.3" cy="257.6" rx="2.0" ry="1.5" fill="#ad0000"/><ellipse cx="428.9" cy="253.1" rx="2.0" ry="1.5" fill="#ce0000"/><ellipse cx="430.1" cy="236.1" rx="2.0" ry="1.5" fill="#820000"/><ellipse cx="435.0" cy="249.7" rx="2.0" ry="1.5" fill="#de0000"/><ellipse cx="436.5" cy="242.2" rx="2.0" ry="1.5" fill="#c00000"/><ellipse cx="414.6" cy="260.2" rx="2.0" ry="1.5" fill="#c40000"/><ellipse cx="423.8" cy="258.1" rx="2.0" ry="1.5" fill="#e50000"/><ellipse cx="399.5" cy="263.3" rx="2.0" ry="1.5" fill="#980000"/><ellipse cx="439.6" cy="245.2" rx="2.0" ry="1.5" fill="#e90000"/><ellipse cx="429.9" cy="256.7" rx="2.0" ry="1.5" fill="#fd0000"/><ellipse cx="408.0" cy="262.7" rx="2.0" ry="1.5" fill="#bf0000"/><ellipse cx="440.3" cy="249.6" rx="2.0" ry="1.5" fill="#ff0b00"/><ellipse cx="435.2" cy="237.9" rx="2.0" ry="1.5" fill="#bd0000"/><ellipse cx="427.8" cy="259.0" rx="2.0" ry="1.5" fill="#ff0b00"/><ellipse cx="398.0" cy="265.0" rx="2.0" ry="1.5" fill="#ab0000"/><ellipse cx="443.4" cy="248.5" rx="2.0" ry="1.5" fill="#ff1f00"/><ellipse cx="427.1" cy="233.4" rx="2.0" ry="1.5" fill="#8f0000"/><ellipse cx="433.9" cy="236.5" rx="2.0" ry="1.5" fill="#be0000"/><ellipse cx="442.9" cy="251.7" rx="2.0" ry="1.5" fill="#ff3100"/><ellipse cx="431.4" cy="259.0" rx="2.0" ry="1.5" fill="#ff2500"/><ellipse cx="443.0" cy="243.2" rx="2.0" ry="1.5" fill="#ff0a00"/><ellipse cx="433.8" cy="236.3" rx="2.0" ry="1.5" fill="#c20000"/><ellipse cx="440.8" cy="240.5" rx="2.0" ry="1.5" fill="#f70000"/><ellipse cx="437.5" cy="257.6" rx="2.0" ry="1.5" fill="#ff3f00"/><ellipse cx="405.7" cy="265.8" rx="2.0" ry="1.5" fill="#e20000"/><ellipse cx="446.8" cy="247.7" rx="2.0" ry="1.5" fill="#ff3b00"/><ellipse cx="429.1" cy="234.1" rx="2.0" ry="1.5" fill="#ad0000"/><ellipse cx="445.4" cy="254.2" rx="2.0" ry="1.5" fill="#ff5a00"/><ellipse cx="389.9" cy="268.8" rx="2.0" ry="1.5" fill="#c00000"/><ellipse cx="409.3" cy="267.3" rx="2.0" ry="1.5" fill="#ff0e00"/><ellipse cx="449.6" cy="253.0" rx="2.0" ry="1.5" fill="#ff7300"/><ellipse cx="424.0" cy="265.0" rx="2.0" ry="1.5" fill="#ff4200"/><ellipse cx="445.8" cy="242.2" rx="2.0" ry="1.5" fill="#ff3200"/><ellipse cx="447.8" cy="243.8" rx="2.0" ry="1.5" fill="#ff4200"/><ellipse cx="374.6" cy="269.7" rx="2.0" ry="1.5" fill="#8c0000"/><ellipse cx="379.8" cy="269.7" rx="2.0" ry="1.5" fill="#a20000"/><ellipse cx="450.3" cy="253.5" rx="2.0" ry="1.5" fill="#ff7d00"/><ellipse cx="445.0" cy="259.0" rx="2.0" ry="1.5" fill="#ff8600"/><ellipse cx="396.9" cy="269.3" rx="2.0" ry="1.5" fill="#ec0000"/><ellipse cx="411.6" cy="267.9" rx="2.0" ry="1.5" fill="#ff2500"/><ellipse cx="433.7" cy="235.8" rx="2.0" ry="1.5" fill="#e70000"/><ellipse cx="432.5" cy="264.6" rx="2.0" ry="1.5" fill="#ff7200"/><ellipse cx="419.4" cy="231.4" rx="2.0" ry="1.5" fill="#980000"/><ellipse cx="437.9" cy="263.5" rx="2.0" ry="1.5" fill="#ff8800"/><ellipse cx="452.4" cy="246.6" rx="2.0" ry="1.5" fill="#ff7400"/><ellipse cx="444.0" cy="261.5" rx="2.0" ry="1.5" fill="#ff9900"/><ellipse cx="453.4" cy="247.4" rx="2.0" ry="1.5" fill="#ff7f00"/><ellipse cx="412.5" cy="269.2" rx="2.0" ry="1.5" fill="#ff3d00"/><ellipse cx="443.5" cy="239.8" rx="2.0" ry="1.5" fill="#ff3200"/><ellipse cx="455.5" cy="248.9" rx="2.0" ry="1.5" fill="#ff9800"/><ellipse cx="454.0" cy="257.7" rx="2.0" ry="1.5" fill="#ffbf00"/><ellipse cx="443.3" cy="263.9" rx="2.0" ry="1.5" fill="#ffb100"/><ellipse cx="398.1" cy="271.5" rx="2.0" ry="1.5" fill="#ff1800"/><ellipse cx="363.6" cy="271.7" rx="2.0" ry="1.5" fill="#880000"/><ellipse cx="402.1" cy="271.5" rx="2.0" ry="1.5" fill="#ff2d00"/><ellipse cx="427.8" cy="234.1" rx="2.0" ry="1.5" fill="#e30000"/><ellipse cx="436.1" cy="236.7" rx="2.0" ry="1.5" fill="#ff1800"/><ellipse cx="458.6" cy="250.3" rx="2.0" ry="1.5" fill="#ffbb00"/><ellipse cx="447.7" cy="264.0" rx="2.0" ry="1.5" fill="#ffd000"/><ellipse cx="457.9" cy="257.3" rx="2.0" ry="1.5" fill="#ffdb00"/><ellipse cx="374.6" cy="273.0" rx="2.0" ry="1.5" fill="#cc0000"/><ellipse cx="454.7" cy="245.3" rx="2.0" ry="1.5" fill="#ff9800"/><ellipse cx="459.9" cy="256.3" rx="2.0" ry="1.5" fill="#ffe500"/><ellipse cx="415.9" cy="271.6" rx="2.0" ry="1.5" fill="#ff7600"/><ellipse cx="430.5" cy="270.0" rx="2.0" ry="1.5" fill="#ffb000"/><ellipse cx="446.2" cy="240.4" rx="2.0" ry="1.5" fill="#ff6700"/><ellipse cx="421.3" cy="233.1" rx="2.0" ry="1.5" fill="#da0000"/><ellipse cx="411.4" cy="231.3" rx="2.0" ry="1.5" fill="#a90000"/><ellipse cx="463.0" cy="255.4" rx="2.0" ry="1.5" fill="#fffa00"/><ellipse cx="461.3" cy="259.0" rx="2.0" ry="1.5" fill="#f9ff06"/><ellipse cx="446.7" cy="267.1" rx="2.0" ry="1.5" fill="#fff000"/><ellipse cx="442.7" cy="239.1" rx="2.0" ry="1.5" fill="#ff5600"/><ellipse cx="432.2" cy="235.8" rx="2.0" ry="1.5" fill="#ff1a00"/><ellipse cx="361.8" cy="273.5" rx="2.0" ry="1.5" fill="#a90000"/><ellipse cx="417.8" cy="272.9" rx="2.0" ry="1.5" fill="#ff9500"/><ellipse cx="404.9" cy="273.9" rx="2.0" ry="1.5" fill="#ff6400"/><ellipse cx="427.7" cy="272.2" rx="2.0" ry="1.5" fill="#ffc200"/><ellipse cx="448.5" cy="241.3" rx="2.0" ry="1.5" fill="#ff8400"/><ellipse cx="405.4" cy="231.0" rx="2.0" ry="1.5" fill="#9e0000"/><ellipse cx="441.1" cy="270.3" rx="2.0" ry="1.5" fill="#fff600"/><ellipse cx="406.2" cy="231.2" rx="2.0" ry="1.5" fill="#a30000"/><ellipse cx="394.4" cy="275.3" rx="2.0" ry="1.5" fill="#ff4b00"/><ellipse cx="462.3" cy="248.8" rx="2.0" ry="1.5" fill="#ffe900"/><ellipse cx="466.2" cy="254.1" rx="2.0" ry="1.5" fill="#eaff15"/><ellipse cx="460.8" cy="263.8" rx="2.0" ry="1.5" fill="#d0ff2f"/><ellipse cx="457.0" cy="245.1" rx="2.0" ry="1.5" fill="#ffc400"/><ellipse cx="465.2" cy="261.0" rx="2.0" ry="1.5" fill="#c8ff37"/><ellipse cx="374.8" cy="275.5" rx="2.0" ry="1.5" fill="#ff0100"/><ellipse cx="429.2" cy="235.6" rx="2.0" ry="1.5" fill="#ff2400"/><ellipse cx="367.8" cy="275.2" rx="2.0" ry="1.5" fill="#e30000"/><ellipse cx="437.4" cy="237.7" rx="2.0" ry="1.5" fill="#ff5300"/><ellipse cx="468.9" cy="256.3" rx="2.0" ry="1.5" fill="#c7ff38"/><ellipse cx="414.9" cy="233.1" rx="2.0" ry="1.5" fill="#e10000"/><ellipse cx="448.8" cy="241.3" rx="2.0" ry="1.5" fill="#ff9a00"/><ellipse cx="441.5" cy="272.5" rx="2.0" ry="1.5" fill="#e7ff18"/><ellipse cx="355.4" cy="274.9" rx="2.0" ry="1.5" fill="#b80000"/><ellipse cx="463.1" cy="266.4" rx="2.0" ry="1.5" fill="#a4ff5b"/><ellipse cx="463.1" cy="247.7" rx="2.0" ry="1.5" fill="#feff01"/><ellipse cx="408.6" cy="276.9" rx="2.0" ry="1.5" fill="#ffa900"/><ellipse cx="429.4" cy="275.4" rx="2.0" ry="1.5" fill="#fffc00"/><ellipse cx="424.5" cy="276.1" rx="2.0" ry="1.5" fill="#ffec00"/><ellipse cx="470.8" cy="261.6" rx="2.0" ry="1.5" fill="#95ff6a"/><ellipse cx="451.1" cy="242.2" rx="2.0" ry="1.5" fill="#ffb800"/><ellipse cx="441.9" cy="239.3" rx="2.0" ry="1.5" fill="#ff8300"/><ellipse cx="465.7" cy="249.0" rx="2.0" ry="1.5" fill="#e6ff19"/><ellipse cx="452.5" cy="271.6" rx="2.0" ry="1.5" fill="#aeff51"/><ellipse cx="388.0" cy="277.8" rx="2.0" ry="1.5" fill="#ff6100"/><ellipse cx="465.4" cy="267.4" rx="2.0" ry="1.5" fill="#88ff77"/><ellipse cx="472.7" cy="261.7" rx="2.0" ry="1.5" fill="#84ff7b"/><ellipse cx="353.9" cy="275.7" rx="2.0" ry="1.5" fill="#ca0000"/><ellipse cx="398.5" cy="278.2" rx="2.0" ry="1.5" fill="#ff9400"/><ellipse cx="442.3" cy="275.0" rx="2.0" ry="1.5" fill="#bfff40"/><ellipse cx="457.0" cy="272.0" rx="2.0" ry="1.5" fill="#8bff74"/><ellipse cx="463.4" cy="247.2" rx="2.0" ry="1.5" fill="#eaff15"/><ellipse cx="473.2" cy="253.9" rx="2.0" ry="1.5" fill="#9dff62"/><ellipse cx="400.8" cy="233.0" rx="2.0" ry="1.5" fill="#c90000"/><ellipse cx="415.8" cy="278.5" rx="2.0" ry="1.5" fill="#ffe800"/><ellipse cx="381.2" cy="278.6" rx="2.0" ry="1.5" fill="#ff5900"/><ellipse cx="338.6" cy="274.1" rx="2.0" ry="1.5" fill="#8f0000"/><ellipse cx="476.2" cy="262.3" rx="2.0" ry="1.5" fill="#62ff9d"/><ellipse cx="448.9" cy="275.0" rx="2.0" ry="1.5" fill="#97ff68"/><ellipse cx="452.6" cy="242.9" rx="2.0" ry="1.5" fill="#ffdb00"/><ellipse cx="470.6" cy="250.8" rx="2.0" ry="1.5" fill="#aeff51"/><ellipse cx="403.0" cy="279.5" rx="2.0" ry="1.5" fill="#ffc100"/><ellipse cx="474.7" cy="265.8" rx="2.0" ry="1.5" fill="#52ffad"/><ellipse cx="426.9" cy="237.0" rx="2.0" ry="1.5" fill="#ff5900"/><ellipse cx="445.1" cy="276.7" rx="2.0" ry="1.5" fill="#94ff6b"/><ellipse cx="390.3" cy="279.7" rx="2.0" ry="1.5" fill="#ff9100"/><ellipse cx="391.3" cy="233.0" rx="2.0" ry="1.5" fill="#b00000"/><ellipse cx="369.9" cy="278.7" rx="2.0" ry="1.5" fill="#ff3700"/><ellipse cx="444.4" cy="240.7" rx="2.0" ry="1.5" fill="#ffb800"/><ellipse cx="414.7" cy="235.3" rx="2.0" ry="1.5" fill="#ff2100"/><ellipse cx="408.0" cy="234.6" rx="2.0" ry="1.5" fill="#ff0300"/><ellipse cx="426.4" cy="279.3" rx="2.0" ry="1.5" fill="#d2ff2d"/><ellipse cx="455.9" cy="275.2" rx="2.0" ry="1.5" fill="#69ff96"/><ellipse cx="476.1" cy="254.2" rx="2.0" ry="1.5" fill="#7aff85"/><ellipse cx="474.2" cy="268.3" rx="2.0" ry="1.5" fill="#3dffc2"/><ellipse cx="459.3" cy="245.2" rx="2.0" ry="1.5" fill="#ecff13"/><ellipse cx="465.8" cy="272.6" rx="2.0" ry="1.5" fill="#4affb5"/><ellipse cx="439.7" cy="239.8" rx="2.0" ry="1.5" fill="#ffa600"/><ellipse cx="389.5" cy="280.4" rx="2.0" ry="1.5" fill="#ff9b00"/><ellipse cx="391.6" cy="233.6" rx="2.0" ry="1.5" fill="#be0000"/><ellipse cx="355.0" cy="277.5" rx="2.0" ry="1.5" fill="#fc0000"/><ellipse cx="481.3" cy="263.2" rx="2.0" ry="1.5" fill="#2effd1"/><ellipse cx="477.9" cy="254.7" rx="2.0" ry="1.5" fill="#66ff99"/><ellipse cx="428.6" cy="238.0" rx="2.0" ry="1.5" fill="#ff7700"/><ellipse cx="477.8" cy="268.7" rx="2.0" ry="1.5" fill="#1effe1"/><ellipse cx="420.9" cy="281.1" rx="2.0" ry="1.5" fill="#d0ff2f"/><ellipse cx="408.6" cy="281.4" rx="2.0" ry="1.5" fill="#fffd00"/><ellipse cx="482.2" cy="258.9" rx="2.0" ry="1.5" fill="#38ffc7"/><ellipse cx="425.7" cy="197.5" rx="2.0" ry="1.5" fill="#ac0000"/><ellipse cx="467.3" cy="274.7" rx="2.0" ry="1.5" fill="#25ffda"/><ellipse cx="439.8" cy="280.2" rx="2.0" ry="1.5" fill="#7eff81"/><ellipse cx="446.6" cy="279.4" rx="2.0" ry="1.5" fill="#63ff9c"/><ellipse cx="481.5" cy="256.6" rx="2.0" ry="1.5" fill="#40ffbf"/><ellipse cx="400.5" cy="235.4" rx="2.0" ry="1.5" fill="#ff0200"/><ellipse cx="349.0" cy="277.5" rx="2.0" ry="1.5" fill="#f70000"/><ellipse cx="426.6" cy="238.3" rx="2.0" ry="1.5" fill="#ff8100"/><ellipse cx="481.5" cy="269.0" rx="2.0" ry="1.5" fill="#00fcff"/><ellipse cx="427.4" cy="198.1" rx="2.0" ry="1.5" fill="#c10000"/><ellipse cx="376.1" cy="234.8" rx="2.0" ry="1.5" fill="#9c0000"/><ellipse cx="327.4" cy="272.9" rx="2.0" ry="1.5" fill="#8a0000"/><ellipse cx="358.2" cy="279.1" rx="2.0" ry="1.5" fill="#ff2b00"/><ellipse cx="421.9" cy="282.3" rx="2.0" ry="1.5" fill="#b4ff4b"/><ellipse cx="371.7" cy="235.0" rx="2.0" ry="1.5" fill="#8d0000"/><ellipse cx="424.7" cy="282.2" rx="2.0" ry="1.5" fill="#a8ff57"/><ellipse cx="424.6" cy="197.3" rx="2.0" ry="1.5" fill="#b50000"/><ellipse cx="432.0" cy="281.9" rx="2.0" ry="1.5" fill="#8bff74"/><ellipse cx="336.6" cy="275.3" rx="2.0" ry="1.5" fill="#c00000"/><ellipse cx="486.3" cy="263.8" rx="2.0" ry="1.5" fill="#00fcff"/><ellipse cx="374.0" cy="281.1" rx="2.0" ry="1.5" fill="#ff7c00"/><ellipse cx="461.9" cy="246.3" rx="2.0" ry="1.5" fill="#b8ff47"/><ellipse cx="393.9" cy="235.7" rx="2.0" ry="1.5" fill="#f30000"/><ellipse cx="397.5" cy="282.8" rx="2.0" ry="1.5" fill="#ffea00"/><ellipse cx="450.8" cy="243.3" rx="2.0" ry="1.5" fill="#f3ff0c"/><ellipse cx="444.3" cy="242.0" rx="2.0" ry="1.5" fill="#ffed00"/><ellipse cx="487.6" cy="265.5" rx="2.0" ry="1.5" fill="#00e6ff"/><ellipse cx="461.5" cy="278.9" rx="2.0" ry="1.5" fill="#13ffec"/><ellipse cx="481.2" cy="272.3" rx="2.0" ry="1.5" fill="#00deff"/><ellipse cx="413.0" cy="237.5" rx="2.0" ry="1.5" fill="#ff5600"/><ellipse cx="325.4" cy="272.5" rx="2.0" ry="1.5" fill="#910000"/><ellipse cx="446.2" cy="281.8" rx="2.0" ry="1.5" fill="#41ffbe"/><ellipse cx="483.8" cy="271.5" rx="2.0" ry="1.5" fill="#00d3ff"/><ellipse cx="483.8" cy="256.2" rx="2.0" ry="1.5" fill="#1fffe0"/><ellipse cx="425.4" cy="197.8" rx="2.0" ry="1.5" fill="#cb0000"/><ellipse cx="332.8" cy="274.7" rx="2.0" ry="1.5" fill="#bd0000"/><ellipse cx="398.9" cy="236.8" rx="2.0" ry="1.5" fill="#ff1c00"/><ellipse cx="414.0" cy="195.1" rx="2.0" ry="1.5" fill="#900000"/><ellipse cx="470.4" cy="249.3" rx="2.0" ry="1.5" fill="#74ff8b"/><ellipse cx="355.9" cy="279.7" rx="2.0" ry="1.5" fill="#ff3b00"/><ellipse cx="432.9" cy="240.4" rx="2.0" ry="1.5" fill="#ffc000"/><ellipse cx="465.2" cy="247.5" rx="2.0" ry="1.5" fill="#93ff6c"/><ellipse cx="385.6" cy="283.1" rx="2.0" ry="1.5" fill="#ffcb00"/><ellipse cx="476.1" cy="251.6" rx="2.0" ry="1.5" fill="#4effb1"/><ellipse cx="400.0" cy="284.0" rx="2.0" ry="1.5" fill="#f1ff0e"/><ellipse cx="433.1" cy="200.2" rx="2.0" ry="1.5" fill="#ff0000"/><ellipse cx="406.0" cy="284.3" rx="2.0" ry="1.5" fill="#d4ff2b"/><ellipse cx="461.2" cy="246.4" rx="2.0" ry="1.5" fill="#a4ff5b"/><ellipse cx="488.8" cy="259.7" rx="2.0" ry="1.5" fill="#00ecff"/><ellipse cx="328.6" cy="273.7" rx="2.0" ry="1.5" fill="#b00000"/><ellipse cx="468.9" cy="279.2" rx="2.0" ry="1.5" fill="#00e0ff"/><ellipse cx="491.5" cy="262.3" rx="2.0" ry="1.5" fill="#00ceff"/><ellipse cx="428.4" cy="284.8" rx="2.0" ry="1.5" fill="#6aff95"/><ellipse cx="434.5" cy="200.7" rx="2.0" ry="1.5" fill="#ff1400"/><ellipse cx="485.4" cy="274.4" rx="2.0" ry="1.5" fill="#00a9ff"/><ellipse cx="446.4" cy="283.7" rx="2.0" ry="1.5" fill="#21ffde"/><ellipse cx="457.1" cy="282.6" rx="2.0" ry="1.5" fill="#00f5ff"/><ellipse cx="484.0" cy="255.1" rx="2.0" ry="1.5" fill="#0bfff4"/><ellipse cx="467.8" cy="280.8" rx="2.0" ry="1.5" fill="#00d0ff"/><ellipse cx="481.0" cy="253.5" rx="2.0" ry="1.5" fill="#1effe1"/><ellipse cx="411.1" cy="195.4" rx="2.0" ry="1.5" fill="#9c0000"/><ellipse cx="357.9" cy="280.8" rx="2.0" ry="1.5" fill="#ff5f00"/><ellipse cx="401.3" cy="238.4" rx="2.0" ry="1.5" fill="#ff4800"/><ellipse cx="448.1" cy="243.9" rx="2.0" ry="1.5" fill="#d5ff2a"/><ellipse cx="480.2" cy="278.1" rx="2.0" ry="1.5" fill="#00a3ff"/><ellipse cx="431.7" cy="241.4" rx="2.0" ry="1.5" fill="#ffdb00"/><ellipse cx="468.5" cy="248.8" rx="2.0" ry="1.5" fill="#64ff9b"/><ellipse cx="378.7" cy="283.9" rx="2.0" ry="1.5" fill="#ffcb00"/><ellipse cx="409.8" cy="285.9" rx="2.0" ry="1.5" fill="#a5ff5a"/><ellipse cx="451.6" cy="244.7" rx="2.0" ry="1.5" fill="#beff41"/><ellipse cx="495.2" cy="266.7" rx="2.0" ry="1.5" fill="#0099ff"/><ellipse cx="485.9" cy="276.3" rx="2.0" ry="1.5" fill="#0091ff"/><ellipse cx="457.9" cy="284.0" rx="2.0" ry="1.5" fill="#00dcff"/><ellipse cx="460.0" cy="246.8" rx="2.0" ry="1.5" fill="#89ff76"/><ellipse cx="333.6" cy="275.6" rx="2.0" ry="1.5" fill="#ed0000"/><ellipse cx="362.5" cy="238.2" rx="2.0" ry="1.5" fill="#b10000"/><ellipse cx="425.4" cy="198.8" rx="2.0" ry="1.5" fill="#f90000"/><ellipse cx="419.0" cy="240.5" rx="2.0" ry="1.5" fill="#ffac00"/><ellipse cx="384.9" cy="285.1" rx="2.0" ry="1.5" fill="#fff700"/><ellipse cx="334.1" cy="275.8" rx="2.0" ry="1.5" fill="#f30000"/><ellipse cx="317.0" cy="268.4" rx="2.0" ry="1.5" fill="#870000"/><ellipse cx="484.9" cy="278.6" rx="2.0" ry="1.5" fill="#007dff"/><ellipse cx="492.9" cy="274.7" rx="2.0" ry="1.5" fill="#006eff"/><ellipse cx="464.4" cy="283.8" rx="2.0" ry="1.5" fill="#00b9ff"/><ellipse cx="430.6" cy="200.1" rx="2.0" ry="1.5" fill="#ff1c00"/><ellipse cx="464.4" cy="248.0" rx="2.0" ry="1.5" fill="#69ff96"/><ellipse cx="352.8" cy="237.8" rx="2.0" ry="1.5" fill="#8c0000"/><ellipse cx="431.3" cy="287.1" rx="2.0" ry="1.5" fill="#33ffcc"/><ellipse cx="375.6" cy="239.4" rx="2.0" ry="1.5" fill="#f60000"/><ellipse cx="428.8" cy="199.8" rx="2.0" ry="1.5" fill="#ff1700"/><ellipse cx="436.1" cy="201.6" rx="2.0" ry="1.5" fill="#ff3f00"/><ellipse cx="363.2" cy="282.7" rx="2.0" ry="1.5" fill="#ff9800"/><ellipse cx="492.6" cy="259.1" rx="2.0" ry="1.5" fill="#00b6ff"/><ellipse cx="498.4" cy="264.7" rx="2.0" ry="1.5" fill="#0080ff"/><ellipse cx="441.4" cy="203.3" rx="2.0" ry="1.5" fill="#ff6000"/><ellipse cx="497.1" cy="262.7" rx="2.0" ry="1.5" fill="#008eff"/><ellipse cx="336.8" cy="276.7" rx="2.0" ry="1.5" fill="#ff1000"/><ellipse cx="403.5" cy="240.4" rx="2.0" ry="1.5" fill="#ff7800"/><ellipse cx="497.8" cy="272.7" rx="2.0" ry="1.5" fill="#0059ff"/><ellipse cx="432.6" cy="242.6" rx="2.0" ry="1.5" fill="#fffe00"/><ellipse cx="440.7" cy="203.1" rx="2.0" ry="1.5" fill="#ff5f00"/><ellipse cx="417.6" cy="241.2" rx="2.0" ry="1.5" fill="#ffb900"/><ellipse cx="337.1" cy="276.8" rx="2.0" ry="1.5" fill="#ff1400"/><ellipse cx="395.3" cy="287.0" rx="2.0" ry="1.5" fill="#bfff40"/><ellipse cx="487.7" cy="256.0" rx="2.0" ry="1.5" fill="#00d0ff"/><ellipse cx="338.9" cy="277.5" rx="2.0" ry="1.5" fill="#ff2300"/><ellipse cx="492.9" cy="258.7" rx="2.0" ry="1.5" fill="#00abff"/><ellipse cx="487.3" cy="280.2" rx="2.0" ry="1.5" fill="#0059ff"/><ellipse cx="364.7" cy="239.7" rx="2.0" ry="1.5" fill="#d70000"/><ellipse cx="403.8" cy="240.9" rx="2.0" ry="1.5" fill="#ff8400"/><ellipse cx="470.6" cy="250.0" rx="2.0" ry="1.5" fill="#33ffcc"/><ellipse cx="500.4" cy="272.3" rx="2.0" ry="1.5" fill="#0047ff"/><ellipse cx="320.7" cy="269.7" rx="2.0" ry="1.5" fill="#b30000"/><ellipse cx="420.1" cy="198.5" rx="2.0" ry="1.5" fill="#fb0000"/><ellipse cx="436.4" cy="288.3" rx="2.0" ry="1.5" fill="#06fff9"/><ellipse cx="432.8" cy="288.4" rx="2.0" ry="1.5" fill="#14ffeb"/><ellipse cx="409.5" cy="288.2" rx="2.0" ry="1.5" fill="#76ff89"/><ellipse cx="501.1" cy="265.6" rx="2.0" ry="1.5" fill="#0061ff"/><ellipse cx="463.6" cy="286.2" rx="2.0" ry="1.5" fill="#009bff"/><ellipse cx="444.3" cy="204.4" rx="2.0" ry="1.5" fill="#ff8300"/><ellipse cx="342.5" cy="278.7" rx="2.0" ry="1.5" fill="#ff4100"/><ellipse cx="500.4" cy="263.7" rx="2.0" ry="1.5" fill="#0069ff"/><ellipse cx="475.8" cy="251.6" rx="2.0" ry="1.5" fill="#0dfff2"/><ellipse cx="491.1" cy="280.2" rx="2.0" ry="1.5" fill="#003fff"/><ellipse cx="492.3" cy="258.0" rx="2.0" ry="1.5" fill="#00a6ff"/><ellipse cx="358.6" cy="239.7" rx="2.0" ry="1.5" fill="#c80000"/><ellipse cx="400.7" cy="196.0" rx="2.0" ry="1.5" fill="#a50000"/><ellipse cx="479.6" cy="252.8" rx="2.0" ry="1.5" fill="#00f1ff"/><ellipse cx="495.8" cy="278.9" rx="2.0" ry="1.5" fill="#002dff"/><ellipse cx="374.4" cy="241.2" rx="2.0" ry="1.5" fill="#ff1800"/><ellipse cx="421.7" cy="289.3" rx="2.0" ry="1.5" fill="#33ffcc"/><ellipse cx="475.3" cy="251.6" rx="2.0" ry="1.5" fill="#08fff7"/><ellipse cx="349.7" cy="280.8" rx="2.0" ry="1.5" fill="#ff7300"/><ellipse cx="409.0" cy="242.2" rx="2.0" ry="1.5" fill="#ffb200"/><ellipse cx="446.4" cy="205.1" rx="2.0" ry="1.5" fill="#ff9b00"/><ellipse cx="471.4" cy="250.6" rx="2.0" ry="1.5" fill="#1bffe4"/><ellipse cx="390.6" cy="241.9" rx="2.0" ry="1.5" fill="#ff6400"/><ellipse cx="376.2" cy="241.5" rx="2.0" ry="1.5" fill="#ff2500"/><ellipse cx="417.8" cy="198.7" rx="2.0" ry="1.5" fill="#ff0400"/><ellipse cx="461.7" cy="288.0" rx="2.0" ry="1.5" fill="#008aff"/><ellipse cx="353.1" cy="239.8" rx="2.0" ry="1.5" fill="#bd0000"/><ellipse cx="439.5" cy="244.9" rx="2.0" ry="1.5" fill="#b9ff46"/><ellipse cx="502.8" cy="276.2" rx="2.0" ry="1.5" fill="#0012ff"/><ellipse cx="433.4" cy="244.5" rx="2.0" ry="1.5" fill="#d0ff2f"/><ellipse cx="324.6" cy="270.8" rx="2.0" ry="1.5" fill="#e20000"/><ellipse cx="367.0" cy="284.9" rx="2.0" ry="1.5" fill="#ffdd00"/><ellipse cx="362.8" cy="284.1" rx="2.0" ry="1.5" fill="#ffc700"/><ellipse cx="389.0" cy="288.1" rx="2.0" ry="1.5" fill="#b4ff4b"/><ellipse cx="505.8" cy="267.3" rx="2.0" ry="1.5" fill="#002cff"/><ellipse cx="344.3" cy="279.5" rx="2.0" ry="1.5" fill="#ff6300"/><ellipse cx="380.4" cy="242.3" rx="2.0" ry="1.5" fill="#ff4600"/><ellipse cx="504.3" cy="265.2" rx="2.0" ry="1.5" fill="#003dff"/><ellipse cx="347.9" cy="280.6" rx="2.0" ry="1.5" fill="#ff7800"/><ellipse cx="379.6" cy="287.0" rx="2.0" ry="1.5" fill="#e1ff1e"/><ellipse cx="395.3" cy="242.8" rx="2.0" ry="1.5" fill="#ff8800"/><ellipse cx="441.8" cy="204.0" rx="2.0" ry="1.5" fill="#ff8f00"/><ellipse cx="426.2" cy="200.6" rx="2.0" ry="1.5" fill="#ff3d00"/><ellipse cx="400.1" cy="197.1" rx="2.0" ry="1.5" fill="#bf0000"/><ellipse cx="418.2" cy="290.4" rx="2.0" ry="1.5" fill="#2affd5"/><ellipse cx="413.4" cy="243.4" rx="2.0" ry="1.5" fill="#ffdb00"/><ellipse cx="493.0" cy="283.0" rx="2.0" ry="1.5" fill="#0010ff"/><ellipse cx="472.0" cy="287.9" rx="2.0" ry="1.5" fill="#0050ff"/><ellipse cx="507.7" cy="272.4" rx="2.0" ry="1.5" fill="#0005ff"/><ellipse cx="352.5" cy="281.9" rx="2.0" ry="1.5" fill="#ff9800"/><ellipse cx="385.6" cy="196.2" rx="2.0" ry="1.5" fill="#800000"/><ellipse cx="484.8" cy="285.7" rx="2.0" ry="1.5" fill="#0023ff"/><ellipse cx="420.7" cy="244.1" rx="2.0" ry="1.5" fill="#fcff03"/><ellipse cx="497.4" cy="259.8" rx="2.0" ry="1.5" fill="#006aff"/><ellipse cx="345.7" cy="280.1" rx="2.0" ry="1.5" fill="#ff7800"/><ellipse cx="502.4" cy="280.0" rx="2.0" ry="1.5" fill="#0000ef"/><ellipse cx="497.6" cy="282.4" rx="2.0" ry="1.5" fill="#0000f7"/><ellipse cx="433.7" cy="291.3" rx="2.0" ry="1.5" fill="#00daff"/><ellipse cx="418.0" cy="199.8" rx="2.0" ry="1.5" fill="#ff2300"/><ellipse cx="327.6" cy="271.8" rx="2.0" ry="1.5" fill="#ff0700"/><ellipse cx="440.1" cy="291.4" rx="2.0" ry="1.5" fill="#00baff"/><ellipse cx="355.1" cy="241.2" rx="2.0" ry="1.5" fill="#e50000"/><ellipse cx="508.1" cy="267.1" rx="2.0" ry="1.5" fill="#0012ff"/><ellipse cx="402.5" cy="290.3" rx="2.0" ry="1.5" fill="#5effa1"/><ellipse cx="452.5" cy="207.4" rx="2.0" ry="1.5" fill="#ffdf00"/><ellipse cx="507.3" cy="278.2" rx="2.0" ry="1.5" fill="#0000db"/><ellipse cx="448.0" cy="247.3" rx="2.0" ry="1.5" fill="#6fff90"/><ellipse cx="510.5" cy="269.5" rx="2.0" ry="1.5" fill="#0000f6"/><ellipse cx="436.9" cy="246.1" rx="2.0" ry="1.5" fill="#9fff60"/><ellipse cx="471.1" cy="289.8" rx="2.0" ry="1.5" fill="#0038ff"/><ellipse cx="461.9" cy="290.9" rx="2.0" ry="1.5" fill="#0059ff"/><ellipse cx="333.9" cy="238.1" rx="2.0" ry="1.5" fill="#870000"/><ellipse cx="512.2" cy="272.2" rx="2.0" ry="1.5" fill="#0000dc"/><ellipse cx="452.3" cy="248.3" rx="2.0" ry="1.5" fill="#4dffb2"/><ellipse cx="442.8" cy="292.4" rx="2.0" ry="1.5" fill="#009cff"/><ellipse cx="448.1" cy="206.3" rx="2.0" ry="1.5" fill="#ffd300"/><ellipse cx="446.0" cy="292.5" rx="2.0" ry="1.5" fill="#008cff"/><ellipse cx="350.2" cy="281.7" rx="2.0" ry="1.5" fill="#ffa900"/><ellipse cx="505.5" cy="263.4" rx="2.0" ry="1.5" fill="#001eff"/><ellipse cx="364.7" cy="243.2" rx="2.0" ry="1.5" fill="#ff2b00"/><ellipse cx="491.0" cy="257.0" rx="2.0" ry="1.5" fill="#0079ff"/><ellipse cx="510.2" cy="279.6" rx="2.0" ry="1.5" fill="#0000b7"/><ellipse cx="418.5" cy="245.6" rx="2.0" ry="1.5" fill="#e2ff1d"/><ellipse cx="496.5" cy="259.0" rx="2.0" ry="1.5" fill="#0056ff"/><ellipse cx="494.5" cy="286.9" rx="2.0" ry="1.5" fill="#0000d4"/><ellipse cx="456.0" cy="208.7" rx="2.0" ry="1.5" fill="#f7ff08"/><ellipse cx="357.4" cy="242.6" rx="2.0" ry="1.5" fill="#ff0f00"/><ellipse cx="476.4" cy="290.8" rx="2.0" ry="1.5" fill="#000cff"/><ellipse cx="478.7" cy="253.6" rx="2.0" ry="1.5" fill="#00b8ff"/><ellipse cx="460.7" cy="250.0" rx="2.0" ry="1.5" fill="#16ffe9"/><ellipse cx="399.9" cy="245.6" rx="2.0" ry="1.5" fill="#ffd300"/><ellipse cx="435.9" cy="203.9" rx="2.0" ry="1.5" fill="#ff9f00"/><ellipse cx="426.8" cy="202.3" rx="2.0" ry="1.5" fill="#ff7100"/><ellipse cx="372.6" cy="244.4" rx="2.0" ry="1.5" fill="#ff5c00"/><ellipse cx="429.5" cy="202.8" rx="2.0" ry="1.5" fill="#ff8100"/><ellipse cx="429.6" cy="246.7" rx="2.0" ry="1.5" fill="#a5ff5a"/><ellipse cx="373.4" cy="287.7" rx="2.0" ry="1.5" fill="#caff35"/><ellipse cx="460.9" cy="250.3" rx="2.0" ry="1.5" fill="#0ffff0"/><ellipse cx="510.3" cy="265.9" rx="2.0" ry="1.5" fill="#0000f0"/><ellipse cx="515.7" cy="273.2" rx="2.0" ry="1.5" fill="#0000b5"/><ellipse cx="456.0" cy="208.8" rx="2.0" ry="1.5" fill="#edff12"/><ellipse cx="436.6" cy="247.4" rx="2.0" ry="1.5" fill="#82ff7d"/><ellipse cx="433.5" cy="203.6" rx="2.0" ry="1.5" fill="#ff9900"/><ellipse cx="383.5" cy="198.7" rx="2.0" ry="1.5" fill="#ae0000"/><ellipse cx="469.0" cy="251.8" rx="2.0" ry="1.5" fill="#00e0ff"/><ellipse cx="515.4" cy="277.7" rx="2.0" ry="1.5" fill="#00009c"/><ellipse cx="367.6" cy="286.6" rx="2.0" ry="1.5" fill="#e3ff1c"/><ellipse cx="353.5" cy="282.9" rx="2.0" ry="1.5" fill="#ffcf00"/><ellipse cx="495.3" cy="288.3" rx="2.0" ry="1.5" fill="#0000bc"/><ellipse cx="420.3" cy="293.6" rx="2.0" ry="1.5" fill="#00dfff"/><ellipse cx="389.1" cy="246.1" rx="2.0" ry="1.5" fill="#ffb400"/><ellipse cx="460.0" cy="210.1" rx="2.0" ry="1.5" fill="#cdff32"/><ellipse cx="378.0" cy="288.9" rx="2.0" ry="1.5" fill="#a6ff59"/><ellipse cx="375.4" cy="245.3" rx="2.0" ry="1.5" fill="#ff7800"/><ellipse cx="514.2" cy="268.2" rx="2.0" ry="1.5" fill="#0000c9"/><ellipse cx="419.9" cy="247.0" rx="2.0" ry="1.5" fill="#c0ff3f"/><ellipse cx="335.9" cy="239.5" rx="2.0" ry="1.5" fill="#b70000"/><ellipse cx="355.7" cy="283.7" rx="2.0" ry="1.5" fill="#ffe500"/><ellipse cx="488.8" cy="290.9" rx="2.0" ry="1.5" fill="#0000c1"/><ellipse cx="387.8" cy="290.8" rx="2.0" ry="1.5" fill="#6dff92"/><ellipse cx="512.2" cy="283.4" rx="2.0" ry="1.5" fill="#000083"/><ellipse cx="345.7" cy="241.7" rx="2.0" ry="1.5" fill="#ef0000"/><ellipse cx="359.8" cy="285.0" rx="2.0" ry="1.5" fill="#feff01"/><ellipse cx="396.0" cy="292.1" rx="2.0" ry="1.5" fill="#3fffc0"/><ellipse cx="383.9" cy="199.9" rx="2.0" ry="1.5" fill="#c90000"/><ellipse cx="408.9" cy="293.7" rx="2.0" ry="1.5" fill="#00fdff"/><ellipse cx="490.5" cy="257.3" rx="2.0" ry="1.5" fill="#0057ff"/><ellipse cx="384.2" cy="290.5" rx="2.0" ry="1.5" fill="#76ff89"/><ellipse cx="392.1" cy="200.4" rx="2.0" ry="1.5" fill="#f00000"/><ellipse cx="435.0" cy="248.5" rx="2.0" ry="1.5" fill="#6cff93"/><ellipse cx="471.2" cy="294.1" rx="2.0" ry="1.5" fill="#0000f2"/><ellipse cx="407.8" cy="293.7" rx="2.0" ry="1.5" fill="#01fffe"/><ellipse cx="474.4" cy="253.6" rx="2.0" ry="1.5" fill="#00abff"/><ellipse cx="495.8" cy="290.7" rx="2.0" ry="1.5" fill="#000099"/><ellipse cx="515.9" cy="268.1" rx="2.0" ry="1.5" fill="#0000b0"/><ellipse cx="390.8" cy="247.5" rx="2.0" ry="1.5" fill="#ffd700"/><ellipse cx="441.9" cy="206.1" rx="2.0" ry="1.5" fill="#ffe500"/><ellipse cx="442.9" cy="295.8" rx="2.0" ry="1.5" fill="#005bff"/><ellipse cx="336.0" cy="240.0" rx="2.0" ry="1.5" fill="#cd0000"/><ellipse cx="499.5" cy="260.1" rx="2.0" ry="1.5" fill="#001bff"/><ellipse cx="459.3" cy="210.2" rx="2.0" ry="1.5" fill="#b9ff46"/><ellipse cx="364.0" cy="200.9" rx="2.0" ry="1.5" fill="#850000"/><ellipse cx="358.8" cy="284.9" rx="2.0" ry="1.5" fill="#f3ff0c"/><ellipse cx="400.7" cy="293.3" rx="2.0" ry="1.5" fill="#19ffe6"/><ellipse cx="325.2" cy="237.0" rx="2.0" ry="1.5" fill="#930000"/><ellipse cx="439.7" cy="205.9" rx="2.0" ry="1.5" fill="#ffe000"/><ellipse cx="454.9" cy="209.1" rx="2.0" ry="1.5" fill="#ceff31"/><ellipse cx="464.3" cy="211.8" rx="2.0" ry="1.5" fill="#98ff67"/><ellipse cx="505.1" cy="262.1" rx="2.0" ry="1.5" fill="#0000f2"/><ellipse cx="492.1" cy="292.8" rx="2.0" ry="1.5" fill="#000092"/><ellipse cx="415.7" cy="295.1" rx="2.0" ry="1.5" fill="#00caff"/><ellipse cx="495.5" cy="258.9" rx="2.0" ry="1.5" fill="#002aff"/><ellipse cx="354.8" cy="244.2" rx="2.0" ry="1.5" fill="#ff3b00"/><ellipse cx="458.0" cy="251.7" rx="2.0" ry="1.5" fill="#00e9ff"/><ellipse cx="454.2" cy="296.5" rx="2.0" ry="1.5" fill="#001eff"/><ellipse cx="457.2" cy="296.4" rx="2.0" ry="1.5" fill="#0011ff"/><ellipse cx="479.3" cy="255.1" rx="2.0" ry="1.5" fill="#007cff"/><ellipse cx="442.8" cy="296.7" rx="2.0" ry="1.5" fill="#004bff"/><ellipse cx="374.9" cy="247.0" rx="2.0" ry="1.5" fill="#ffa100"/><ellipse cx="465.9" cy="212.3" rx="2.0" ry="1.5" fill="#86ff79"/><ellipse cx="429.6" cy="205.0" rx="2.0" ry="1.5" fill="#ffc100"/><ellipse cx="471.8" cy="254.0" rx="2.0" ry="1.5" fill="#009aff"/><ellipse cx="367.5" cy="202.3" rx="2.0" ry="1.5" fill="#ae0000"/><ellipse cx="513.7" cy="265.7" rx="2.0" ry="1.5" fill="#0000ae"/><ellipse cx="421.8" cy="296.4" rx="2.0" ry="1.5" fill="#009bff"/><ellipse cx="396.2" cy="249.3" rx="2.0" ry="1.5" fill="#edff12"/><ellipse cx="507.1" cy="262.9" rx="2.0" ry="1.5" fill="#0000d4"/><ellipse cx="519.0" cy="268.5" rx="2.0" ry="1.5" fill="#000086"/><ellipse cx="418.8" cy="250.0" rx="2.0" ry="1.5" fill="#88ff77"/><ellipse cx="385.6" cy="202.5" rx="2.0" ry="1.5" fill="#ff0200"/><ellipse cx="390.3" cy="202.6" rx="2.0" ry="1.5" fill="#ff1700"/><ellipse cx="395.6" cy="249.5" rx="2.0" ry="1.5" fill="#eaff15"/><ellipse cx="327.5" cy="238.0" rx="2.0" ry="1.5" fill="#bd0000"/><ellipse cx="475.2" cy="296.9" rx="2.0" ry="1.5" fill="#0000ae"/><ellipse cx="469.3" cy="213.6" rx="2.0" ry="1.5" fill="#60ff9f"/><ellipse cx="458.8" cy="297.9" rx="2.0" ry="1.5" fill="#0000ee"/><ellipse cx="442.3" cy="297.9" rx="2.0" ry="1.5" fill="#0034ff"/><ellipse cx="364.8" cy="287.1" rx="2.0" ry="1.5" fill="#b1ff4e"/><ellipse cx="466.7" cy="297.6" rx="2.0" ry="1.5" fill="#0000cd"/><ellipse cx="365.4" cy="287.3" rx="2.0" ry="1.5" fill="#aeff51"/><ellipse cx="376.1" cy="203.0" rx="2.0" ry="1.5" fill="#e20000"/><ellipse cx="496.7" cy="259.7" rx="2.0" ry="1.5" fill="#0007ff"/><ellipse cx="427.6" cy="297.6" rx="2.0" ry="1.5" fill="#006eff"/><ellipse cx="455.5" cy="210.2" rx="2.0" ry="1.5" fill="#a4ff5b"/><ellipse cx="478.6" cy="255.9" rx="2.0" ry="1.5" fill="#0061ff"/><ellipse cx="369.2" cy="203.7" rx="2.0" ry="1.5" fill="#cf0000"/><ellipse cx="419.9" cy="297.2" rx="2.0" ry="1.5" fill="#008eff"/><ellipse cx="330.1" cy="238.9" rx="2.0" ry="1.5" fill="#d60000"/><ellipse cx="339.5" cy="241.8" rx="2.0" ry="1.5" fill="#ff0e00"/><ellipse cx="515.3" cy="266.1" rx="2.0" ry="1.5" fill="#000091"/><ellipse cx="458.3" cy="253.2" rx="2.0" ry="1.5" fill="#00c0ff"/><ellipse cx="354.4" cy="245.3" rx="2.0" ry="1.5" fill="#ff6000"/><ellipse cx="445.2" cy="208.4" rx="2.0" ry="1.5" fill="#d3ff2c"/><ellipse cx="472.1" cy="214.6" rx="2.0" ry="1.5" fill="#43ffbc"/><ellipse cx="408.4" cy="204.3" rx="2.0" ry="1.5" fill="#ff7d00"/><ellipse cx="389.0" cy="293.3" rx="2.0" ry="1.5" fill="#20ffdf"/><ellipse cx="347.0" cy="243.8" rx="2.0" ry="1.5" fill="#ff3c00"/><ellipse cx="392.3" cy="203.9" rx="2.0" ry="1.5" fill="#ff3900"/><ellipse cx="489.7" cy="258.4" rx="2.0" ry="1.5" fill="#001eff"/><ellipse cx="372.6" cy="289.6" rx="2.0" ry="1.5" fill="#74ff8b"/><ellipse cx="367.8" cy="288.2" rx="2.0" ry="1.5" fill="#8eff71"/><ellipse cx="359.4" cy="246.4" rx="2.0" ry="1.5" fill="#ff8200"/><ellipse cx="435.2" cy="298.8" rx="2.0" ry="1.5" fill="#003bff"/><ellipse cx="433.6" cy="207.0" rx="2.0" ry="1.5" fill="#fffb00"/><ellipse cx="395.3" cy="204.2" rx="2.0" ry="1.5" fill="#ff4b00"/><ellipse cx="345.6" cy="207.2" rx="2.0" ry="1.5" fill="#8a0000"/><ellipse cx="395.9" cy="294.8" rx="2.0" ry="1.5" fill="#00f1ff"/><ellipse cx="419.4" cy="297.9" rx="2.0" ry="1.5" fill="#007eff"/><ellipse cx="462.1" cy="212.1" rx="2.0" ry="1.5" fill="#6eff91"/><ellipse cx="383.7" cy="204.5" rx="2.0" ry="1.5" fill="#ff2100"/><ellipse cx="445.9" cy="253.0" rx="2.0" ry="1.5" fill="#00e7ff"/><ellipse cx="466.0" cy="254.8" rx="2.0" ry="1.5" fill="#0089ff"/><ellipse cx="334.0" cy="240.4" rx="2.0" ry="1.5" fill="#ff0100"/><ellipse cx="330.4" cy="239.1" rx="2.0" ry="1.5" fill="#ea0000"/><ellipse cx="442.3" cy="252.9" rx="2.0" ry="1.5" fill="#00f5ff"/><ellipse cx="443.0" cy="299.8" rx="2.0" ry="1.5" fill="#000cff"/><ellipse cx="340.1" cy="242.3" rx="2.0" ry="1.5" fill="#ff2600"/><ellipse cx="422.9" cy="252.4" rx="2.0" ry="1.5" fill="#49ffb6"/><ellipse cx="399.8" cy="204.9" rx="2.0" ry="1.5" fill="#ff6c00"/><ellipse cx="470.8" cy="255.6" rx="2.0" ry="1.5" fill="#006eff"/><ellipse cx="376.4" cy="290.9" rx="2.0" ry="1.5" fill="#4fffb0"/><ellipse cx="445.2" cy="209.1" rx="2.0" ry="1.5" fill="#bdff42"/><ellipse cx="394.8" cy="251.4" rx="2.0" ry="1.5" fill="#c2ff3d"/><ellipse cx="472.1" cy="214.9" rx="2.0" ry="1.5" fill="#2effd1"/><ellipse cx="432.6" cy="252.8" rx="2.0" ry="1.5" fill="#1bffe4"/><ellipse cx="475.5" cy="215.9" rx="2.0" ry="1.5" fill="#19ffe6"/><ellipse cx="467.6" cy="300.2" rx="2.0" ry="1.5" fill="#00009c"/><ellipse cx="351.2" cy="207.8" rx="2.0" ry="1.5" fill="#b20000"/><ellipse cx="366.4" cy="248.4" rx="2.0" ry="1.5" fill="#ffbc00"/><ellipse cx="371.5" cy="289.6" rx="2.0" ry="1.5" fill="#62ff9d"/><ellipse cx="374.0" cy="290.4" rx="2.0" ry="1.5" fill="#53ffac"/><ellipse cx="314.9" cy="227.9" rx="2.0" ry="1.5" fill="#800000"/><ellipse cx="315.9" cy="229.4" rx="2.0" ry="1.5" fill="#8c0000"/><ellipse cx="473.0" cy="256.4" rx="2.0" ry="1.5" fill="#0055ff"/><ellipse cx="413.3" cy="253.2" rx="2.0" ry="1.5" fill="#60ff9f"/><ellipse cx="352.2" cy="208.4" rx="2.0" ry="1.5" fill="#c10000"/><ellipse cx="417.3" cy="253.4" rx="2.0" ry="1.5" fill="#4dffb2"/><ellipse cx="444.3" cy="300.8" rx="2.0" ry="1.5" fill="#0000f0"/><ellipse cx="318.0" cy="231.1" rx="2.0" ry="1.5" fill="#a20000"/><ellipse cx="325.7" cy="236.7" rx="2.0" ry="1.5" fill="#de0000"/><ellipse cx="399.7" cy="296.4" rx="2.0" ry="1.5" fill="#00c1ff"/><ellipse cx="396.7" cy="252.5" rx="2.0" ry="1.5" fill="#a5ff5a"/><ellipse cx="458.2" cy="301.3" rx="2.0" ry="1.5" fill="#0000b0"/><ellipse cx="453.1" cy="254.7" rx="2.0" ry="1.5" fill="#00abff"/><ellipse cx="331.2" cy="213.6" rx="2.0" ry="1.5" fill="#870000"/><ellipse cx="372.1" cy="249.7" rx="2.0" ry="1.5" fill="#ffe600"/><ellipse cx="405.3" cy="206.4" rx="2.0" ry="1.5" fill="#ff9f00"/><ellipse cx="497.1" cy="261.0" rx="2.0" ry="1.5" fill="#0000ce"/><ellipse cx="421.2" cy="299.7" rx="2.0" ry="1.5" fill="#0050ff"/><ellipse cx="409.5" cy="206.8" rx="2.0" ry="1.5" fill="#ffb700"/><ellipse cx="321.2" cy="233.2" rx="2.0" ry="1.5" fill="#c30000"/><ellipse cx="402.7" cy="297.2" rx="2.0" ry="1.5" fill="#00a8ff"/><ellipse cx="391.3" cy="295.1" rx="2.0" ry="1.5" fill="#00e2ff"/><ellipse cx="380.5" cy="207.0" rx="2.0" ry="1.5" fill="#ff3f00"/><ellipse cx="361.4" cy="248.1" rx="2.0" ry="1.5" fill="#ffb800"/><ellipse cx="358.0" cy="247.4" rx="2.0" ry="1.5" fill="#ffa800"/><ellipse cx="507.4" cy="263.7" rx="2.0" ry="1.5" fill="#00008d"/><ellipse cx="375.5" cy="291.1" rx="2.0" ry="1.5" fill="#35ffca"/><ellipse cx="412.7" cy="298.9" rx="2.0" ry="1.5" fill="#0071ff"/><ellipse cx="344.5" cy="211.5" rx="2.0" ry="1.5" fill="#c10000"/><ellipse cx="374.6" cy="250.7" rx="2.0" ry="1.5" fill="#fbff04"/><ellipse cx="318.9" cy="228.6" rx="2.0" ry="1.5" fill="#ab0000"/><ellipse cx="472.0" cy="215.5" rx="2.0" ry="1.5" fill="#0cfff3"/><ellipse cx="461.9" cy="213.2" rx="2.0" ry="1.5" fill="#41ffbe"/><ellipse cx="385.9" cy="294.1" rx="2.0" ry="1.5" fill="#00f4ff"/><ellipse cx="450.9" cy="302.4" rx="2.0" ry="1.5" fill="#0000b7"/><ellipse cx="355.9" cy="210.0" rx="2.0" ry="1.5" fill="#ef0000"/><ellipse cx="397.1" cy="253.5" rx="2.0" ry="1.5" fill="#8bff74"/><ellipse cx="338.3" cy="213.6" rx="2.0" ry="1.5" fill="#b70000"/><ellipse cx="377.1" cy="251.2" rx="2.0" ry="1.5" fill="#ebff14"/><ellipse cx="402.7" cy="254.0" rx="2.0" ry="1.5" fill="#71ff8e"/><ellipse cx="488.6" cy="259.8" rx="2.0" ry="1.5" fill="#0000e7"/><ellipse cx="371.8" cy="208.4" rx="2.0" ry="1.5" fill="#ff2d00"/><ellipse cx="323.0" cy="220.9" rx="2.0" ry="1.5" fill="#9b0000"/><ellipse cx="498.3" cy="261.7" rx="2.0" ry="1.5" fill="#0000b3"/><ellipse cx="482.8" cy="218.6" rx="2.0" ry="1.5" fill="#00c6ff"/><ellipse cx="324.4" cy="220.6" rx="2.0" ry="1.5" fill="#a40000"/><ellipse cx="488.1" cy="260.0" rx="2.0" ry="1.5" fill="#0000e3"/><ellipse cx="479.0" cy="258.7" rx="2.0" ry="1.5" fill="#0010ff"/><ellipse cx="378.3" cy="292.1" rx="2.0" ry="1.5" fill="#17ffe8"/><ellipse cx="476.2" cy="258.3" rx="2.0" ry="1.5" fill="#001cff"/><ellipse cx="421.6" cy="208.9" rx="2.0" ry="1.5" fill="#f3ff0c"/><ellipse cx="334.9" cy="240.5" rx="2.0" ry="1.5" fill="#ff3900"/><ellipse cx="423.1" cy="255.7" rx="2.0" ry="1.5" fill="#06fff9"/><ellipse cx="445.3" cy="211.1" rx="2.0" ry="1.5" fill="#83ff7c"/><ellipse cx="321.9" cy="226.5" rx="2.0" ry="1.5" fill="#be0000"/><ellipse cx="340.5" cy="242.8" rx="2.0" ry="1.5" fill="#ff5f00"/><ellipse cx="338.4" cy="241.9" rx="2.0" ry="1.5" fill="#ff5300"/><ellipse cx="329.9" cy="237.6" rx="2.0" ry="1.5" fill="#ff1b00"/><ellipse cx="386.5" cy="208.9" rx="2.0" ry="1.5" fill="#ff7e00"/><ellipse cx="358.7" cy="211.4" rx="2.0" ry="1.5" fill="#ff1500"/><ellipse cx="476.6" cy="217.1" rx="2.0" ry="1.5" fill="#00daff"/><ellipse cx="390.8" cy="295.8" rx="2.0" ry="1.5" fill="#00c3ff"/><ellipse cx="382.6" cy="209.2" rx="2.0" ry="1.5" fill="#ff7000"/><ellipse cx="485.6" cy="219.6" rx="2.0" ry="1.5" fill="#00a7ff"/><ellipse cx="439.0" cy="256.4" rx="2.0" ry="1.5" fill="#00b7ff"/><ellipse cx="325.3" cy="223.6" rx="2.0" ry="1.5" fill="#c50000"/><ellipse cx="328.9" cy="236.7" rx="2.0" ry="1.5" fill="#ff1600"/><ellipse cx="478.6" cy="217.7" rx="2.0" ry="1.5" fill="#00caff"/><ellipse cx="390.9" cy="209.2" rx="2.0" ry="1.5" fill="#ff9900"/><ellipse cx="345.0" cy="214.9" rx="2.0" ry="1.5" fill="#f20000"/><ellipse cx="438.7" cy="211.0" rx="2.0" ry="1.5" fill="#92ff6d"/><ellipse cx="487.9" cy="220.4" rx="2.0" ry="1.5" fill="#0091ff"/><ellipse cx="423.1" cy="256.8" rx="2.0" ry="1.5" fill="#00efff"/><ellipse cx="324.8" cy="229.3" rx="2.0" ry="1.5" fill="#e80000"/><ellipse cx="451.1" cy="212.7" rx="2.0" ry="1.5" fill="#51ffae"/><ellipse cx="446.0" cy="257.2" rx="2.0" ry="1.5" fill="#008cff"/><ellipse cx="448.9" cy="212.5" rx="2.0" ry="1.5" fill="#59ffa6"/><ellipse cx="407.7" cy="209.6" rx="2.0" ry="1.5" fill="#ffe900"/><ellipse cx="381.6" cy="253.2" rx="2.0" ry="1.5" fill="#aeff51"/><ellipse cx="382.5" cy="253.3" rx="2.0" ry="1.5" fill="#aaff55"/><ellipse cx="363.0" cy="249.7" rx="2.0" ry="1.5" fill="#fff200"/><ellipse cx="392.6" cy="296.6" rx="2.0" ry="1.5" fill="#00a8ff"/><ellipse cx="364.2" cy="250.0" rx="2.0" ry="1.5" fill="#fffa00"/><ellipse cx="383.7" cy="294.1" rx="2.0" ry="1.5" fill="#00d9ff"/><ellipse cx="347.4" cy="215.7" rx="2.0" ry="1.5" fill="#ff0d00"/><ellipse cx="436.9" cy="303.7" rx="2.0" ry="1.5" fill="#0000c7"/><ellipse cx="425.6" cy="302.6" rx="2.0" ry="1.5" fill="#0000fc"/><ellipse cx="399.5" cy="298.3" rx="2.0" ry="1.5" fill="#0080ff"/><ellipse cx="335.2" cy="239.9" rx="2.0" ry="1.5" fill="#ff5100"/><ellipse cx="345.1" cy="244.5" rx="2.0" ry="1.5" fill="#ff9300"/><ellipse cx="452.5" cy="258.2" rx="2.0" ry="1.5" fill="#0061ff"/><ellipse cx="365.7" cy="212.8" rx="2.0" ry="1.5" fill="#ff5200"/><ellipse cx="454.4" cy="213.7" rx="2.0" ry="1.5" fill="#30ffcf"/><ellipse cx="327.8" cy="232.0" rx="2.0" ry="1.5" fill="#ff1100"/><ellipse cx="407.0" cy="210.4" rx="2.0" ry="1.5" fill="#fff600"/><ellipse cx="416.1" cy="301.6" rx="2.0" ry="1.5" fill="#0022ff"/><ellipse cx="331.5" cy="223.8" rx="2.0" ry="1.5" fill="#f90000"/><ellipse cx="337.2" cy="240.7" rx="2.0" ry="1.5" fill="#ff6500"/><ellipse cx="400.1" cy="298.6" rx="2.0" ry="1.5" fill="#0074ff"/><ellipse cx="398.1" cy="210.7" rx="2.0" ry="1.5" fill="#ffd400"/><ellipse cx="408.9" cy="257.1" rx="2.0" ry="1.5" fill="#19ffe6"/><ellipse cx="456.8" cy="258.7" rx="2.0" ry="1.5" fill="#0046ff"/><ellipse cx="430.7" cy="211.6" rx="2.0" ry="1.5" fill="#9bff64"/><ellipse cx="390.6" cy="255.3" rx="2.0" ry="1.5" fill="#6cff93"/><ellipse cx="354.9" cy="215.4" rx="2.0" ry="1.5" fill="#ff3800"/><ellipse cx="483.0" cy="261.2" rx="2.0" ry="1.5" fill="#0000c5"/><ellipse cx="414.1" cy="211.2" rx="2.0" ry="1.5" fill="#ddff22"/><ellipse cx="458.5" cy="259.3" rx="2.0" ry="1.5" fill="#0035ff"/><ellipse cx="493.2" cy="222.4" rx="2.0" ry="1.5" fill="#0055ff"/><ellipse cx="408.4" cy="257.6" rx="2.0" ry="1.5" fill="#0efff1"/><ellipse cx="332.7" cy="226.1" rx="2.0" ry="1.5" fill="#ff1800"/><ellipse cx="425.4" cy="258.9" rx="2.0" ry="1.5" fill="#00bcff"/><ellipse cx="360.9" cy="215.4" rx="2.0" ry="1.5" fill="#ff5d00"/><ellipse cx="389.1" cy="296.1" rx="2.0" ry="1.5" fill="#009eff"/><ellipse cx="445.0" cy="305.8" rx="2.0" ry="1.5" fill="#000081"/><ellipse cx="331.9" cy="229.1" rx="2.0" ry="1.5" fill="#ff2900"/><ellipse cx="371.5" cy="252.5" rx="2.0" ry="1.5" fill="#bbff44"/><ellipse cx="359.4" cy="216.2" rx="2.0" ry="1.5" fill="#ff5f00"/><ellipse cx="419.3" cy="212.1" rx="2.0" ry="1.5" fill="#b6ff49"/><ellipse cx="468.4" cy="260.6" rx="2.0" ry="1.5" fill="#0000f7"/><ellipse cx="335.4" cy="225.3" rx="2.0" ry="1.5" fill="#ff2700"/><ellipse cx="468.8" cy="217.0" rx="2.0" ry="1.5" fill="#00caff"/><ellipse cx="478.5" cy="218.8" rx="2.0" ry="1.5" fill="#0098ff"/><ellipse cx="495.2" cy="223.1" rx="2.0" ry="1.5" fill="#003cff"/><ellipse cx="364.7" cy="250.9" rx="2.0" ry="1.5" fill="#dcff23"/><ellipse cx="410.8" cy="212.2" rx="2.0" ry="1.5" fill="#d6ff29"/><ellipse cx="373.0" cy="253.0" rx="2.0" ry="1.5" fill="#adff52"/><ellipse cx="344.2" cy="243.7" rx="2.0" ry="1.5" fill="#ffab00"/><ellipse cx="430.8" cy="304.8" rx="2.0" ry="1.5" fill="#0000b9"/><ellipse cx="460.3" cy="260.4" rx="2.0" ry="1.5" fill="#0017ff"/><ellipse cx="380.9" cy="213.7" rx="2.0" ry="1.5" fill="#ffb400"/><ellipse cx="348.2" cy="219.9" rx="2.0" ry="1.5" fill="#ff4900"/><ellipse cx="399.3" cy="257.4" rx="2.0" ry="1.5" fill="#26ffd9"/><ellipse cx="485.3" cy="220.5" rx="2.0" ry="1.5" fill="#006fff"/><ellipse cx="428.6" cy="259.8" rx="2.0" ry="1.5" fill="#009dff"/><ellipse cx="333.8" cy="234.6" rx="2.0" ry="1.5" fill="#ff5600"/><ellipse cx="496.0" cy="223.5" rx="2.0" ry="1.5" fill="#0031ff"/><ellipse cx="389.0" cy="213.3" rx="2.0" ry="1.5" fill="#ffd800"/><ellipse cx="391.2" cy="296.9" rx="2.0" ry="1.5" fill="#0082ff"/><ellipse cx="478.6" cy="219.1" rx="2.0" ry="1.5" fill="#008dff"/><ellipse cx="370.3" cy="215.5" rx="2.0" ry="1.5" fill="#ff9500"/><ellipse cx="398.0" cy="298.9" rx="2.0" ry="1.5" fill="#0058ff"/><ellipse cx="344.3" cy="222.6" rx="2.0" ry="1.5" fill="#ff4e00"/><ellipse cx="382.0" cy="214.4" rx="2.0" ry="1.5" fill="#ffc500"/><ellipse cx="422.5" cy="304.2" rx="2.0" ry="1.5" fill="#0000d1"/><ellipse cx="349.3" cy="245.8" rx="2.0" ry="1.5" fill="#ffd900"/><ellipse cx="389.5" cy="256.6" rx="2.0" ry="1.5" fill="#46ffb9"/><ellipse cx="419.7" cy="303.8" rx="2.0" ry="1.5" fill="#0000de"/><ellipse cx="452.4" cy="215.5" rx="2.0" ry="1.5" fill="#05fffa"/><ellipse cx="433.3" cy="260.8" rx="2.0" ry="1.5" fill="#0077ff"/><ellipse cx="482.3" cy="262.9" rx="2.0" ry="1.5" fill="#00009d"/><ellipse cx="354.3" cy="247.9" rx="2.0" ry="1.5" fill="#fffa00"/><ellipse cx="346.6" cy="244.5" rx="2.0" ry="1.5" fill="#ffca00"/><ellipse cx="413.2" cy="302.7" rx="2.0" ry="1.5" fill="#0000fb"/><ellipse cx="336.2" cy="233.7" rx="2.0" ry="1.5" fill="#ff6b00"/><ellipse cx="413.4" cy="302.7" rx="2.0" ry="1.5" fill="#0000fa"/><ellipse cx="339.4" cy="227.4" rx="2.0" ry="1.5" fill="#ff5900"/><ellipse cx="346.2" cy="244.1" rx="2.0" ry="1.5" fill="#ffcb00"/><ellipse cx="469.4" cy="218.0" rx="2.0" ry="1.5" fill="#00aaff"/><ellipse cx="496.2" cy="223.8" rx="2.0" ry="1.5" fill="#001bff"/><ellipse cx="338.4" cy="237.7" rx="2.0" ry="1.5" fill="#ff8c00"/><ellipse cx="499.6" cy="224.8" rx="2.0" ry="1.5" fill="#0008ff"/><ellipse cx="440.5" cy="214.9" rx="2.0" ry="1.5" fill="#32ffcd"/><ellipse cx="412.2" cy="214.0" rx="2.0" ry="1.5" fill="#adff52"/><ellipse cx="356.8" cy="220.2" rx="2.0" ry="1.5" fill="#ff8600"/><ellipse cx="432.1" cy="214.5" rx="2.0" ry="1.5" fill="#56ffa9"/><ellipse cx="478.3" cy="263.0" rx="2.0" ry="1.5" fill="#0000a3"/><ellipse cx="476.6" cy="262.9" rx="2.0" ry="1.5" fill="#0000aa"/><ellipse cx="395.5" cy="298.5" rx="2.0" ry="1.5" fill="#0052ff"/><ellipse cx="380.4" cy="255.4" rx="2.0" ry="1.5" fill="#65ff9a"/><ellipse cx="339.6" cy="238.0" rx="2.0" ry="1.5" fill="#ff9900"/><ellipse cx="407.7" cy="214.6" rx="2.0" ry="1.5" fill="#b7ff48"/><ellipse cx="470.4" cy="262.9" rx="2.0" ry="1.5" fill="#0000be"/><ellipse cx="339.2" cy="236.2" rx="2.0" ry="1.5" fill="#ff9200"/><ellipse cx="421.6" cy="214.7" rx="2.0" ry="1.5" fill="#79ff86"/><ellipse cx="440.5" cy="262.3" rx="2.0" ry="1.5" fill="#003eff"/><ellipse cx="421.3" cy="261.3" rx="2.0" ry="1.5" fill="#0094ff"/><ellipse cx="406.5" cy="259.9" rx="2.0" ry="1.5" fill="#00d9ff"/><ellipse cx="412.1" cy="260.5" rx="2.0" ry="1.5" fill="#00beff"/><ellipse cx="474.0" cy="219.3" rx="2.0" ry="1.5" fill="#0082ff"/><ellipse cx="477.1" cy="219.9" rx="2.0" ry="1.5" fill="#0071ff"/><ellipse cx="433.1" cy="306.8" rx="2.0" ry="1.5" fill="#000080"/><ellipse cx="444.9" cy="262.6" rx="2.0" ry="1.5" fill="#0027ff"/><ellipse cx="359.6" cy="249.9" rx="2.0" ry="1.5" fill="#ccff33"/><ellipse cx="377.1" cy="217.8" rx="2.0" ry="1.5" fill="#ffe000"/><ellipse cx="342.0" cy="230.8" rx="2.0" ry="1.5" fill="#ff8c00"/><ellipse cx="454.7" cy="217.1" rx="2.0" ry="1.5" fill="#00d8ff"/><ellipse cx="353.5" cy="223.7" rx="2.0" ry="1.5" fill="#ff9c00"/><ellipse cx="371.3" cy="253.6" rx="2.0" ry="1.5" fill="#84ff7b"/><ellipse cx="366.0" cy="220.3" rx="2.0" ry="1.5" fill="#ffc000"/><ellipse cx="341.0" cy="235.1" rx="2.0" ry="1.5" fill="#ffa000"/><ellipse cx="452.7" cy="217.1" rx="2.0" ry="1.5" fill="#00ddff"/><ellipse cx="400.9" cy="300.3" rx="2.0" ry="1.5" fill="#0020ff"/><ellipse cx="478.2" cy="264.2" rx="2.0" ry="1.5" fill="#000089"/><ellipse cx="347.2" cy="227.6" rx="2.0" ry="1.5" fill="#ff9800"/><ellipse cx="400.1" cy="300.1" rx="2.0" ry="1.5" fill="#0021ff"/><ellipse cx="439.0" cy="216.3" rx="2.0" ry="1.5" fill="#17ffe8"/><ellipse cx="412.6" cy="216.0" rx="2.0" ry="1.5" fill="#86ff79"/><ellipse cx="506.1" cy="227.1" rx="2.0" ry="1.5" fill="#0000c2"/><ellipse cx="420.0" cy="216.3" rx="2.0" ry="1.5" fill="#61ff9e"/><ellipse cx="353.1" cy="226.3" rx="2.0" ry="1.5" fill="#ffb600"/><ellipse cx="344.0" cy="237.5" rx="2.0" ry="1.5" fill="#ffc700"/><ellipse cx="393.2" cy="258.9" rx="2.0" ry="1.5" fill="#00fdff"/><ellipse cx="476.8" cy="220.7" rx="2.0" ry="1.5" fill="#0056ff"/><ellipse cx="402.5" cy="301.0" rx="2.0" ry="1.5" fill="#0008ff"/><ellipse cx="440.3" cy="217.1" rx="2.0" ry="1.5" fill="#03fffc"/><ellipse cx="355.1" cy="247.6" rx="2.0" ry="1.5" fill="#d5ff2a"/><ellipse cx="382.6" cy="219.1" rx="2.0" ry="1.5" fill="#ecff13"/><ellipse cx="345.4" cy="239.2" rx="2.0" ry="1.5" fill="#ffda00"/><ellipse cx="346.7" cy="240.7" rx="2.0" ry="1.5" fill="#ffe900"/><ellipse cx="508.2" cy="228.0" rx="2.0" ry="1.5" fill="#0000a7"/><ellipse cx="396.3" cy="218.1" rx="2.0" ry="1.5" fill="#b1ff4e"/><ellipse cx="451.2" cy="218.1" rx="2.0" ry="1.5" fill="#00c8ff"/><ellipse cx="372.7" cy="221.6" rx="2.0" ry="1.5" fill="#fffd00"/><ellipse cx="359.6" cy="249.6" rx="2.0" ry="1.5" fill="#aeff51"/><ellipse cx="490.1" cy="223.5" rx="2.0" ry="1.5" fill="#0006ff"/><ellipse cx="362.1" cy="224.8" rx="2.0" ry="1.5" fill="#ffe300"/><ellipse cx="445.7" cy="264.9" rx="2.0" ry="1.5" fill="#0000f4"/><ellipse cx="352.1" cy="245.2" rx="2.0" ry="1.5" fill="#e0ff1f"/><ellipse cx="348.2" cy="241.1" rx="2.0" ry="1.5" fill="#fffb00"/><ellipse cx="491.6" cy="224.0" rx="2.0" ry="1.5" fill="#0000f7"/><ellipse cx="501.3" cy="226.2" rx="2.0" ry="1.5" fill="#0000c3"/><ellipse cx="376.1" cy="255.5" rx="2.0" ry="1.5" fill="#45ffba"/><ellipse cx="355.5" cy="229.1" rx="2.0" ry="1.5" fill="#ffe600"/><ellipse cx="507.0" cy="227.8" rx="2.0" ry="1.5" fill="#00009d"/><ellipse cx="365.8" cy="252.1" rx="2.0" ry="1.5" fill="#7cff83"/><ellipse cx="381.8" cy="221.4" rx="2.0" ry="1.5" fill="#cdff32"/><ellipse cx="409.8" cy="303.5" rx="2.0" ry="1.5" fill="#0000c3"/><ellipse cx="478.2" cy="222.0" rx="2.0" ry="1.5" fill="#0031ff"/><ellipse cx="395.8" cy="260.3" rx="2.0" ry="1.5" fill="#00d1ff"/><ellipse cx="380.5" cy="256.9" rx="2.0" ry="1.5" fill="#24ffdb"/><ellipse cx="371.6" cy="223.8" rx="2.0" ry="1.5" fill="#e9ff16"/><ellipse cx="438.8" cy="265.4" rx="2.0" ry="1.5" fill="#0001ff"/><ellipse cx="412.7" cy="263.0" rx="2.0" ry="1.5" fill="#007bff"/><ellipse cx="349.8" cy="240.0" rx="2.0" ry="1.5" fill="#f4ff0b"/><ellipse cx="419.7" cy="218.7" rx="2.0" ry="1.5" fill="#35ffca"/><ellipse cx="392.5" cy="220.9" rx="2.0" ry="1.5" fill="#99ff66"/><ellipse cx="414.8" cy="305.1" rx="2.0" ry="1.5" fill="#00009c"/><ellipse cx="403.5" cy="262.0" rx="2.0" ry="1.5" fill="#009fff"/><ellipse cx="446.4" cy="266.3" rx="2.0" ry="1.5" fill="#0000d3"/><ellipse cx="360.1" cy="249.2" rx="2.0" ry="1.5" fill="#94ff6b"/><ellipse cx="366.3" cy="252.2" rx="2.0" ry="1.5" fill="#6aff95"/><ellipse cx="413.4" cy="304.8" rx="2.0" ry="1.5" fill="#0000a0"/><ellipse cx="355.9" cy="246.2" rx="2.0" ry="1.5" fill="#b3ff4c"/><ellipse cx="409.5" cy="303.6" rx="2.0" ry="1.5" fill="#0000b3"/><ellipse cx="356.1" cy="232.4" rx="2.0" ry="1.5" fill="#f2ff0d"/><ellipse cx="352.8" cy="241.5" rx="2.0" ry="1.5" fill="#d1ff2e"/><ellipse cx="415.6" cy="264.3" rx="2.0" ry="1.5" fill="#0055ff"/><ellipse cx="404.5" cy="220.9" rx="2.0" ry="1.5" fill="#58ffa7"/><ellipse cx="361.7" cy="230.2" rx="2.0" ry="1.5" fill="#dfff20"/><ellipse cx="414.5" cy="220.3" rx="2.0" ry="1.5" fill="#30ffcf"/><ellipse cx="393.6" cy="222.2" rx="2.0" ry="1.5" fill="#7eff81"/><ellipse cx="380.1" cy="224.4" rx="2.0" ry="1.5" fill="#acff53"/><ellipse cx="500.6" cy="226.9" rx="2.0" ry="1.5" fill="#0000a1"/><ellipse cx="372.1" cy="226.5" rx="2.0" ry="1.5" fill="#c3ff3c"/><ellipse cx="426.1" cy="220.1" rx="2.0" ry="1.5" fill="#00fdff"/><ellipse cx="412.2" cy="304.6" rx="2.0" ry="1.5" fill="#000098"/><ellipse cx="443.4" cy="220.5" rx="2.0" ry="1.5" fill="#00afff"/><ellipse cx="404.0" cy="221.6" rx="2.0" ry="1.5" fill="#4effb1"/><ellipse cx="384.5" cy="258.5" rx="2.0" ry="1.5" fill="#00ebff"/><ellipse cx="409.2" cy="263.8" rx="2.0" ry="1.5" fill="#0068ff"/><ellipse cx="420.9" cy="265.5" rx="2.0" ry="1.5" fill="#002eff"/><ellipse cx="475.1" cy="223.1" rx="2.0" ry="1.5" fill="#0018ff"/><ellipse cx="365.4" cy="230.0" rx="2.0" ry="1.5" fill="#c6ff39"/><ellipse cx="367.6" cy="252.4" rx="2.0" ry="1.5" fill="#4effb1"/><ellipse cx="360.5" cy="248.1" rx="2.0" ry="1.5" fill="#7fff80"/><ellipse cx="393.5" cy="260.9" rx="2.0" ry="1.5" fill="#00b4ff"/><ellipse cx="481.1" cy="224.0" rx="2.0" ry="1.5" fill="#0000f5"/><ellipse cx="357.3" cy="244.1" rx="2.0" ry="1.5" fill="#9dff62"/><ellipse cx="430.6" cy="221.1" rx="2.0" ry="1.5" fill="#00d7ff"/><ellipse cx="356.5" cy="240.9" rx="2.0" ry="1.5" fill="#afff50"/><ellipse cx="448.9" cy="268.4" rx="2.0" ry="1.5" fill="#00009f"/><ellipse cx="422.8" cy="266.6" rx="2.0" ry="1.5" fill="#000eff"/><ellipse cx="462.6" cy="222.9" rx="2.0" ry="1.5" fill="#003aff"/><ellipse cx="405.8" cy="223.4" rx="2.0" ry="1.5" fill="#28ffd7"/><ellipse cx="384.3" cy="226.8" rx="2.0" ry="1.5" fill="#72ff8d"/><ellipse cx="371.2" cy="253.7" rx="2.0" ry="1.5" fill="#23ffdc"/><ellipse cx="427.6" cy="267.4" rx="2.0" ry="1.5" fill="#0000ef"/><ellipse cx="359.8" cy="243.0" rx="2.0" ry="1.5" fill="#86ff79"/><ellipse cx="373.7" cy="254.8" rx="2.0" ry="1.5" fill="#11ffee"/><ellipse cx="365.4" cy="234.4" rx="2.0" ry="1.5" fill="#97ff68"/><ellipse cx="461.6" cy="223.4" rx="2.0" ry="1.5" fill="#0033ff"/><ellipse cx="443.7" cy="222.7" rx="2.0" ry="1.5" fill="#0082ff"/><ellipse cx="395.5" cy="262.1" rx="2.0" ry="1.5" fill="#008bff"/><ellipse cx="365.8" cy="235.1" rx="2.0" ry="1.5" fill="#8dff72"/><ellipse cx="433.9" cy="268.6" rx="2.0" ry="1.5" fill="#0000c6"/><ellipse cx="438.2" cy="269.0" rx="2.0" ry="1.5" fill="#0000b1"/><ellipse cx="448.8" cy="223.1" rx="2.0" ry="1.5" fill="#0066ff"/><ellipse cx="363.6" cy="247.8" rx="2.0" ry="1.5" fill="#56ffa9"/><ellipse cx="362.1" cy="245.1" rx="2.0" ry="1.5" fill="#67ff98"/><ellipse cx="365.8" cy="249.4" rx="2.0" ry="1.5" fill="#3fffc0"/><ellipse cx="445.7" cy="270.0" rx="2.0" ry="1.5" fill="#000086"/><ellipse cx="412.8" cy="224.5" rx="2.0" ry="1.5" fill="#00f0ff"/><ellipse cx="379.9" cy="230.3" rx="2.0" ry="1.5" fill="#5fffa0"/><ellipse cx="386.0" cy="259.6" rx="2.0" ry="1.5" fill="#00b1ff"/><ellipse cx="432.7" cy="223.9" rx="2.0" ry="1.5" fill="#009aff"/><ellipse cx="367.6" cy="250.3" rx="2.0" ry="1.5" fill="#2cffd3"/><ellipse cx="486.1" cy="226.7" rx="2.0" ry="1.5" fill="#0000a7"/><ellipse cx="406.8" cy="265.1" rx="2.0" ry="1.5" fill="#003aff"/><ellipse cx="480.6" cy="226.1" rx="2.0" ry="1.5" fill="#0000c0"/><ellipse cx="379.2" cy="256.9" rx="2.0" ry="1.5" fill="#00d5ff"/><ellipse cx="398.3" cy="263.3" rx="2.0" ry="1.5" fill="#0063ff"/><ellipse cx="365.2" cy="245.1" rx="2.0" ry="1.5" fill="#48ffb7"/><ellipse cx="382.1" cy="231.2" rx="2.0" ry="1.5" fill="#44ffbb"/><ellipse cx="405.7" cy="226.5" rx="2.0" ry="1.5" fill="#00f6ff"/><ellipse cx="379.7" cy="257.1" rx="2.0" ry="1.5" fill="#00ceff"/><ellipse cx="408.0" cy="265.6" rx="2.0" ry="1.5" fill="#002bff"/><ellipse cx="421.3" cy="225.3" rx="2.0" ry="1.5" fill="#00b7ff"/><ellipse cx="370.6" cy="237.1" rx="2.0" ry="1.5" fill="#54ffab"/><ellipse cx="389.8" cy="230.1" rx="2.0" ry="1.5" fill="#21ffde"/><ellipse cx="375.0" cy="235.6" rx="2.0" ry="1.5" fill="#43ffbc"/><ellipse cx="486.9" cy="227.6" rx="2.0" ry="1.5" fill="#00008d"/><ellipse cx="435.8" cy="270.7" rx="2.0" ry="1.5" fill="#00008d"/><ellipse cx="479.5" cy="227.1" rx="2.0" ry="1.5" fill="#0000a9"/><ellipse cx="376.6" cy="255.0" rx="2.0" ry="1.5" fill="#00d4ff"/><ellipse cx="369.2" cy="243.3" rx="2.0" ry="1.5" fill="#2cffd3"/><ellipse cx="375.2" cy="237.5" rx="2.0" ry="1.5" fill="#2dffd2"/><ellipse cx="430.5" cy="226.3" rx="2.0" ry="1.5" fill="#0078ff"/><ellipse cx="407.1" cy="228.5" rx="2.0" ry="1.5" fill="#00d0ff"/><ellipse cx="456.4" cy="226.2" rx="2.0" ry="1.5" fill="#000aff"/><ellipse cx="386.3" cy="233.6" rx="2.0" ry="1.5" fill="#0afff5"/><ellipse cx="391.0" cy="261.4" rx="2.0" ry="1.5" fill="#006eff"/><ellipse cx="467.5" cy="226.9" rx="2.0" ry="1.5" fill="#0000d2"/><ellipse cx="374.1" cy="252.4" rx="2.0" ry="1.5" fill="#00e1ff"/><ellipse cx="372.0" cy="250.1" rx="2.0" ry="1.5" fill="#00f5ff"/><ellipse cx="405.8" cy="265.8" rx="2.0" ry="1.5" fill="#0018ff"/><ellipse cx="458.9" cy="226.6" rx="2.0" ry="1.5" fill="#0000f6"/><ellipse cx="421.9" cy="269.2" rx="2.0" ry="1.5" fill="#0000c1"/><ellipse cx="415.0" cy="228.3" rx="2.0" ry="1.5" fill="#00a7ff"/><ellipse cx="428.3" cy="227.6" rx="2.0" ry="1.5" fill="#006eff"/><ellipse cx="439.5" cy="227.1" rx="2.0" ry="1.5" fill="#0040ff"/><ellipse cx="382.3" cy="257.5" rx="2.0" ry="1.5" fill="#009cff"/><ellipse cx="384.1" cy="258.4" rx="2.0" ry="1.5" fill="#008cff"/><ellipse cx="374.1" cy="243.4" rx="2.0" ry="1.5" fill="#01fffe"/><ellipse cx="381.7" cy="237.5" rx="2.0" ry="1.5" fill="#00fcff"/><ellipse cx="411.0" cy="267.4" rx="2.0" ry="1.5" fill="#0000ec"/><ellipse cx="383.6" cy="258.0" rx="2.0" ry="1.5" fill="#008bff"/><ellipse cx="375.0" cy="244.8" rx="2.0" ry="1.5" fill="#00eeff"/><ellipse cx="391.0" cy="234.8" rx="2.0" ry="1.5" fill="#00dbff"/><ellipse cx="395.3" cy="263.0" rx="2.0" ry="1.5" fill="#003cff"/><ellipse cx="395.9" cy="234.3" rx="2.0" ry="1.5" fill="#00c2ff"/><ellipse cx="383.5" cy="239.1" rx="2.0" ry="1.5" fill="#00deff"/><ellipse cx="473.0" cy="229.1" rx="2.0" ry="1.5" fill="#000091"/><ellipse cx="377.0" cy="248.6" rx="2.0" ry="1.5" fill="#00c5ff"/><ellipse cx="409.5" cy="232.1" rx="2.0" ry="1.5" fill="#008cff"/><ellipse cx="433.2" cy="229.4" rx="2.0" ry="1.5" fill="#0035ff"/><ellipse cx="384.7" cy="257.9" rx="2.0" ry="1.5" fill="#0076ff"/><ellipse cx="384.2" cy="240.3" rx="2.0" ry="1.5" fill="#00ccff"/><ellipse cx="416.4" cy="231.9" rx="2.0" ry="1.5" fill="#0068ff"/><ellipse cx="397.2" cy="263.7" rx="2.0" ry="1.5" fill="#001cff"/><ellipse cx="437.6" cy="230.2" rx="2.0" ry="1.5" fill="#0012ff"/><ellipse cx="406.5" cy="266.9" rx="2.0" ry="1.5" fill="#0000e0"/><ellipse cx="380.0" cy="250.9" rx="2.0" ry="1.5" fill="#009eff"/><ellipse cx="399.3" cy="236.1" rx="2.0" ry="1.5" fill="#0094ff"/><ellipse cx="448.6" cy="230.0" rx="2.0" ry="1.5" fill="#0000e1"/><ellipse cx="426.2" cy="231.4" rx="2.0" ry="1.5" fill="#0039ff"/><ellipse cx="388.5" cy="240.4" rx="2.0" ry="1.5" fill="#00abff"/><ellipse cx="392.2" cy="239.0" rx="2.0" ry="1.5" fill="#00a0ff"/><ellipse cx="387.2" cy="258.5" rx="2.0" ry="1.5" fill="#0055ff"/><ellipse cx="416.9" cy="233.2" rx="2.0" ry="1.5" fill="#0051ff"/><ellipse cx="410.8" cy="268.4" rx="2.0" ry="1.5" fill="#0000b6"/><ellipse cx="391.5" cy="260.5" rx="2.0" ry="1.5" fill="#0029ff"/><ellipse cx="447.2" cy="231.8" rx="2.0" ry="1.5" fill="#0000c6"/><ellipse cx="392.8" cy="242.0" rx="2.0" ry="1.5" fill="#007bff"/><ellipse cx="385.7" cy="248.2" rx="2.0" ry="1.5" fill="#0078ff"/><ellipse cx="396.9" cy="263.2" rx="2.0" ry="1.5" fill="#0000fc"/><ellipse cx="414.6" cy="269.7" rx="2.0" ry="1.5" fill="#000091"/><ellipse cx="402.4" cy="265.6" rx="2.0" ry="1.5" fill="#0000d9"/><ellipse cx="393.0" cy="243.2" rx="2.0" ry="1.5" fill="#006cff"/><ellipse cx="449.9" cy="232.4" rx="2.0" ry="1.5" fill="#0000af"/><ellipse cx="400.5" cy="240.0" rx="2.0" ry="1.5" fill="#005bff"/><ellipse cx="427.0" cy="234.5" rx="2.0" ry="1.5" fill="#0004ff"/><ellipse cx="387.4" cy="250.4" rx="2.0" ry="1.5" fill="#005aff"/><ellipse cx="402.2" cy="240.5" rx="2.0" ry="1.5" fill="#004aff"/><ellipse cx="413.6" cy="237.6" rx="2.0" ry="1.5" fill="#0025ff"/><ellipse cx="388.6" cy="251.8" rx="2.0" ry="1.5" fill="#0047ff"/><ellipse cx="430.2" cy="235.1" rx="2.0" ry="1.5" fill="#0000e7"/><ellipse cx="390.2" cy="255.9" rx="2.0" ry="1.5" fill="#0028ff"/><ellipse cx="391.1" cy="249.0" rx="2.0" ry="1.5" fill="#0045ff"/><ellipse cx="449.5" cy="233.9" rx="2.0" ry="1.5" fill="#000097"/><ellipse cx="394.2" cy="260.2" rx="2.0" ry="1.5" fill="#0000fe"/><ellipse cx="403.3" cy="265.7" rx="2.0" ry="1.5" fill="#0000b9"/><ellipse cx="407.3" cy="267.4" rx="2.0" ry="1.5" fill="#00009d"/><ellipse cx="398.4" cy="245.6" rx="2.0" ry="1.5" fill="#002aff"/><ellipse cx="392.2" cy="254.7" rx="2.0" ry="1.5" fill="#0017ff"/><ellipse cx="440.6" cy="235.7" rx="2.0" ry="1.5" fill="#0000a6"/><ellipse cx="428.5" cy="237.2" rx="2.0" ry="1.5" fill="#0000d1"/><ellipse cx="444.4" cy="235.6" rx="2.0" ry="1.5" fill="#000093"/><ellipse cx="394.2" cy="257.9" rx="2.0" ry="1.5" fill="#0000f8"/><ellipse cx="408.3" cy="242.2" rx="2.0" ry="1.5" fill="#000aff"/><ellipse cx="399.3" cy="247.9" rx="2.0" ry="1.5" fill="#000cff"/><ellipse cx="403.0" cy="264.6" rx="2.0" ry="1.5" fill="#0000a6"/><ellipse cx="397.4" cy="259.3" rx="2.0" ry="1.5" fill="#0000d4"/><ellipse cx="409.8" cy="244.3" rx="2.0" ry="1.5" fill="#0000e6"/><ellipse cx="397.1" cy="253.8" rx="2.0" ry="1.5" fill="#0000ed"/><ellipse cx="399.0" cy="251.6" rx="2.0" ry="1.5" fill="#0000ec"/><ellipse cx="400.3" cy="253.2" rx="2.0" ry="1.5" fill="#0000d5"/><ellipse cx="401.2" cy="252.7" rx="2.0" ry="1.5" fill="#0000d1"/><ellipse cx="415.9" cy="244.4" rx="2.0" ry="1.5" fill="#0000bb"/><ellipse cx="413.1" cy="245.7" rx="2.0" ry="1.5" fill="#0000bf"/><ellipse cx="403.1" cy="261.6" rx="2.0" ry="1.5" fill="#000094"/><ellipse cx="402.0" cy="256.0" rx="2.0" ry="1.5" fill="#0000b3"/><ellipse cx="407.3" cy="251.0" rx="2.0" ry="1.5" fill="#0000af"/><ellipse cx="403.9" cy="258.5" rx="2.0" ry="1.5" fill="#000094"/><ellipse cx="423.9" cy="244.7" rx="2.0" ry="1.5" fill="#000083"/><ellipse cx="409.8" cy="251.7" rx="2.0" ry="1.5" fill="#000095"/></g></g><g filter="url(#b)"><text class="tl" transform="translate(13.30 111.95) scale(1.38 1)" text-anchor="end" font-size="4.8">-1</text><text class="tl" transform="translate(13.30 94.75) scale(1.38 1)" text-anchor="end" font-size="4.8">0</text><text class="tl" transform="translate(13.30 77.55) scale(1.38 1)" text-anchor="end" font-size="4.8">1</text><text class="tl" transform="translate(13.30 60.35) scale(1.38 1)" text-anchor="end" font-size="4.8">2</text><text class="tl" transform="translate(13.30 43.15) scale(1.38 1)" text-anchor="end" font-size="4.8">3</text><text class="tl" transform="translate(113.80 148.80) scale(1.38 1)" text-anchor="end" font-size="4.8">0</text><text class="tl" transform="translate(63.30 133.15) scale(1.38 1)" text-anchor="end" font-size="4.8">5</text><text class="tl" transform="translate(12.80 117.50) scale(1.38 1)" text-anchor="end" font-size="4.8">10</text><text class="tl" transform="translate(123.20 149.50) scale(1.38 1)" text-anchor="start" font-size="4.8">-1</text><text class="tl" transform="translate(155.93 143.53) scale(1.38 1)" text-anchor="start" font-size="4.8">-0.5</text><text class="tl" transform="translate(188.65 137.55) scale(1.38 1)" text-anchor="start" font-size="4.8">0</text><text class="tl" transform="translate(221.38 131.57) scale(1.38 1)" text-anchor="start" font-size="4.8">0.5</text><text class="tl" transform="translate(254.10 125.60) scale(1.38 1)" text-anchor="start" font-size="4.8">1</text><text class="tt" transform="translate(133.40 14.15) scale(1.15 1)" text-anchor="middle" font-size="6.0">Class 1</text><text class="tl" transform="translate(301.20 113.85) scale(1.38 1)" text-anchor="end" font-size="4.8">-1</text><text class="tl" transform="translate(301.20 95.35) scale(1.38 1)" text-anchor="end" font-size="4.8">0</text><text class="tl" transform="translate(301.20 76.85) scale(1.38 1)" text-anchor="end" font-size="4.8">1</text><text class="tl" transform="translate(301.20 58.35) scale(1.38 1)" text-anchor="end" font-size="4.8">2</text><text class="tl" transform="translate(301.20 39.85) scale(1.38 1)" text-anchor="end" font-size="4.8">3</text><text class="tl" transform="translate(400.80 153.50) scale(1.38 1)" text-anchor="end" font-size="4.8">0</text><text class="tl" transform="translate(350.75 136.45) scale(1.38 1)" text-anchor="end" font-size="4.8">5</text><text class="tl" transform="translate(300.70 119.40) scale(1.38 1)" text-anchor="end" font-size="4.8">10</text><text class="tl" transform="translate(410.20 154.20) scale(1.38 1)" text-anchor="start" font-size="4.8">-1</text><text class="tl" transform="translate(442.70 147.72) scale(1.38 1)" text-anchor="start" font-size="4.8">-0.5</text><text class="tl" transform="translate(475.20 141.25) scale(1.38 1)" text-anchor="start" font-size="4.8">0</text><text class="tl" transform="translate(507.70 134.77) scale(1.38 1)" text-anchor="start" font-size="4.8">0.5</text><text class="tl" transform="translate(540.20 128.30) scale(1.38 1)" text-anchor="start" font-size="4.8">1</text><text class="tt" transform="translate(421.00 9.85) scale(1.15 1)" text-anchor="middle" font-size="6.0">Class 2</text><text class="tl" transform="translate(14.30 282.05) scale(1.38 1)" text-anchor="end" font-size="4.8">-1</text><text class="tl" transform="translate(14.30 265.00) scale(1.38 1)" text-anchor="end" font-size="4.8">0</text><text class="tl" transform="translate(14.30 247.95) scale(1.38 1)" text-anchor="end" font-size="4.8">1</text><text class="tl" transform="translate(14.30 230.90) scale(1.38 1)" text-anchor="end" font-size="4.8">2</text><text class="tl" transform="translate(14.30 213.85) scale(1.38 1)" text-anchor="end" font-size="4.8">3</text><text class="tl" transform="translate(110.10 318.00) scale(1.38 1)" text-anchor="end" font-size="4.8">0</text><text class="tl" transform="translate(61.95 302.80) scale(1.38 1)" text-anchor="end" font-size="4.8">5</text><text class="tl" transform="translate(13.80 287.60) scale(1.38 1)" text-anchor="end" font-size="4.8">10</text><text class="tl" transform="translate(119.50 318.70) scale(1.38 1)" text-anchor="start" font-size="4.8">-1</text><text class="tl" transform="translate(150.28 312.85) scale(1.38 1)" text-anchor="start" font-size="4.8">-0.5</text><text class="tl" transform="translate(181.05 307.00) scale(1.38 1)" text-anchor="start" font-size="4.8">0</text><text class="tl" transform="translate(211.82 301.15) scale(1.38 1)" text-anchor="start" font-size="4.8">0.5</text><text class="tl" transform="translate(242.60 295.30) scale(1.38 1)" text-anchor="start" font-size="4.8">1</text><text class="tt" transform="translate(129.00 186.45) scale(1.15 1)" text-anchor="middle" font-size="6.0">Class 3</text><text class="tl" transform="translate(309.90 282.95) scale(1.38 1)" text-anchor="end" font-size="4.8">-1</text><text class="tl" transform="translate(309.90 265.20) scale(1.38 1)" text-anchor="end" font-size="4.8">0</text><text class="tl" transform="translate(309.90 247.45) scale(1.38 1)" text-anchor="end" font-size="4.8">1</text><text class="tl" transform="translate(309.90 229.70) scale(1.38 1)" text-anchor="end" font-size="4.8">2</text><text class="tl" transform="translate(309.90 211.95) scale(1.38 1)" text-anchor="end" font-size="4.8">3</text><text class="tl" transform="translate(399.50 321.80) scale(1.38 1)" text-anchor="end" font-size="4.8">0</text><text class="tl" transform="translate(354.45 305.15) scale(1.38 1)" text-anchor="end" font-size="4.8">5</text><text class="tl" transform="translate(309.40 288.50) scale(1.38 1)" text-anchor="end" font-size="4.8">10</text><text class="tl" transform="translate(408.90 322.50) scale(1.38 1)" text-anchor="start" font-size="4.8">-1</text><text class="tl" transform="translate(437.92 316.15) scale(1.38 1)" text-anchor="start" font-size="4.8">-0.5</text><text class="tl" transform="translate(466.95 309.80) scale(1.38 1)" text-anchor="start" font-size="4.8">0</text><text class="tl" transform="translate(495.97 303.45) scale(1.38 1)" text-anchor="start" font-size="4.8">0.5</text><text class="tl" transform="translate(525.00 297.10) scale(1.38 1)" text-anchor="start" font-size="4.8">1</text><text class="tt" transform="translate(417.70 182.75) scale(1.15 1)" text-anchor="middle" font-size="6.0">Class 4</text></g></svg></body></html>
